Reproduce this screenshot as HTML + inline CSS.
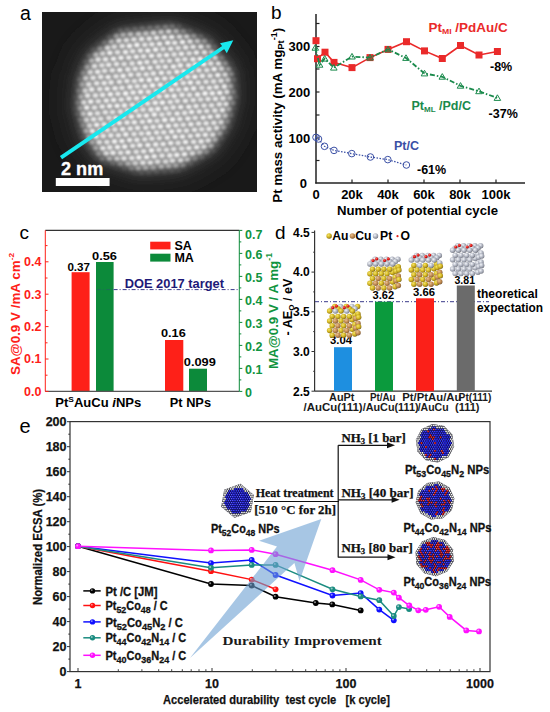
<!DOCTYPE html>
<html><head><meta charset="utf-8"><style>
html,body{margin:0;padding:0;background:#fff;width:550px;height:712px;overflow:hidden;}
svg{display:block;}
</style></head><body>
<svg width="550" height="712" viewBox="0 0 550 712">
<rect width="550" height="712" fill="#fff"/>
<text x="20" y="19.6" font-size="19.5" font-weight="normal" fill="#000" text-anchor="start" font-family='"Liberation Sans", sans-serif' >a</text>
<rect x="42" y="12" width="215" height="180" fill="#191919"/>
<defs><radialGradient id="glow" cx="0.5" cy="0.5" r="0.5"><stop offset="0.55" stop-color="#4a4a4a"/><stop offset="0.8" stop-color="#2c2c2c" /><stop offset="1" stop-color="#1c1c1c" stop-opacity="0"/></radialGradient><radialGradient id="pg" cx="0.5" cy="0.5" r="0.55"><stop offset="0" stop-color="#a0a0a0"/><stop offset="0.6" stop-color="#989898"/><stop offset="0.85" stop-color="#767676"/><stop offset="1" stop-color="#484848"/></radialGradient><filter id="bl1" x="-5%" y="-5%" width="110%" height="110%"><feGaussianBlur stdDeviation="1.0"/></filter><filter id="bl2" x="-20%" y="-20%" width="140%" height="140%"><feGaussianBlur stdDeviation="4.2"/></filter><filter id="bl3" x="-20%" y="-20%" width="140%" height="140%"><feGaussianBlur stdDeviation="6"/></filter><filter id="bl4" x="-30%" y="-30%" width="160%" height="160%"><feGaussianBlur stdDeviation="10"/></filter></defs>
<clipPath id="pa"><rect x="42" y="12" width="215" height="180"/></clipPath><g clip-path="url(#pa)">
<mask id="pm" maskUnits="userSpaceOnUse" x="30" y="0" width="240" height="200"><polygon points="121,35 171,29.5 205,43 228,71 230.5,98 224,124 209,147.5 178,164.5 140,167.5 102,155 88,134 81,106 84,78 94,56" fill="#fff" filter="url(#bl2)" transform="translate(155 100) scale(1.035) translate(-155 -100)"/></mask>
<polygon points="121,35 171,29.5 205,43 228,71 230.5,98 224,124 209,147.5 178,164.5 140,167.5 102,155 88,134 81,106 84,78 94,56" fill="#2e2e2e" filter="url(#bl4)" transform="translate(155 100) scale(1.22) translate(-155 -100)"/>
<polygon points="121,35 171,29.5 205,43 228,71 230.5,98 224,124 209,147.5 178,164.5 140,167.5 102,155 88,134 81,106 84,78 94,56" fill="#484848" filter="url(#bl3)" transform="translate(155 100) scale(1.08) translate(-155 -100)"/>
<g mask="url(#pm)"><rect x="42" y="12" width="215" height="180" fill="url(#pg)"/><g fill="#fafafa" filter="url(#bl1)" opacity="0.95"><ellipse cx="67.4" cy="20.2" rx="2.8" ry="2.3" opacity="0.93"/><ellipse cx="74.8" cy="19.9" rx="2.8" ry="2.3" opacity="0.87"/><ellipse cx="82.3" cy="19.3" rx="2.8" ry="2.3" opacity="0.81"/><ellipse cx="90.2" cy="18.6" rx="2.8" ry="2.3" opacity="0.82"/><ellipse cx="97.8" cy="18.5" rx="2.8" ry="2.3" opacity="0.82"/><ellipse cx="105.2" cy="17.8" rx="2.8" ry="2.3" opacity="0.99"/><ellipse cx="113.1" cy="17.2" rx="2.8" ry="2.3" opacity="1.00"/><ellipse cx="120.2" cy="16.9" rx="2.8" ry="2.3" opacity="0.86"/><ellipse cx="127.9" cy="15.9" rx="2.8" ry="2.3" opacity="0.86"/><ellipse cx="136.0" cy="15.4" rx="2.8" ry="2.3" opacity="0.92"/><ellipse cx="143.5" cy="15.0" rx="2.8" ry="2.3" opacity="0.91"/><ellipse cx="70.5" cy="25.8" rx="2.8" ry="2.3" opacity="0.84"/><ellipse cx="78.6" cy="25.5" rx="2.8" ry="2.3" opacity="0.86"/><ellipse cx="86.1" cy="25.0" rx="2.8" ry="2.3" opacity="0.86"/><ellipse cx="93.8" cy="24.6" rx="2.8" ry="2.3" opacity="0.85"/><ellipse cx="101.2" cy="24.0" rx="2.8" ry="2.3" opacity="0.98"/><ellipse cx="108.9" cy="23.3" rx="2.8" ry="2.3" opacity="1.00"/><ellipse cx="116.0" cy="22.9" rx="2.8" ry="2.3" opacity="0.95"/><ellipse cx="123.6" cy="22.4" rx="2.8" ry="2.3" opacity="0.81"/><ellipse cx="131.6" cy="22.0" rx="2.8" ry="2.3" opacity="0.91"/><ellipse cx="139.4" cy="21.2" rx="2.8" ry="2.3" opacity="0.94"/><ellipse cx="146.7" cy="20.8" rx="2.8" ry="2.3" opacity="0.89"/><ellipse cx="154.5" cy="20.5" rx="2.8" ry="2.3" opacity="0.89"/><ellipse cx="161.9" cy="19.5" rx="2.8" ry="2.3" opacity="0.94"/><ellipse cx="169.5" cy="19.5" rx="2.8" ry="2.3" opacity="0.96"/><ellipse cx="176.8" cy="18.6" rx="2.8" ry="2.3" opacity="0.93"/><ellipse cx="184.2" cy="18.1" rx="2.8" ry="2.3" opacity="0.83"/><ellipse cx="191.8" cy="17.3" rx="2.8" ry="2.3" opacity="0.95"/><ellipse cx="199.4" cy="16.9" rx="2.8" ry="2.3" opacity="0.88"/><ellipse cx="207.6" cy="16.3" rx="2.8" ry="2.3" opacity="0.89"/><ellipse cx="214.9" cy="16.2" rx="2.8" ry="2.3" opacity="0.96"/><ellipse cx="222.8" cy="15.3" rx="2.8" ry="2.3" opacity="0.88"/><ellipse cx="66.4" cy="32.5" rx="2.8" ry="2.3" opacity="0.99"/><ellipse cx="73.9" cy="31.6" rx="2.8" ry="2.3" opacity="0.85"/><ellipse cx="81.5" cy="31.2" rx="2.8" ry="2.3" opacity="0.92"/><ellipse cx="89.1" cy="30.4" rx="2.8" ry="2.3" opacity="0.88"/><ellipse cx="96.8" cy="30.2" rx="2.8" ry="2.3" opacity="0.99"/><ellipse cx="104.6" cy="29.7" rx="2.8" ry="2.3" opacity="0.92"/><ellipse cx="112.2" cy="28.8" rx="2.8" ry="2.3" opacity="0.98"/><ellipse cx="119.8" cy="28.8" rx="2.8" ry="2.3" opacity="0.96"/><ellipse cx="127.1" cy="28.0" rx="2.8" ry="2.3" opacity="0.82"/><ellipse cx="134.9" cy="27.3" rx="2.8" ry="2.3" opacity="0.81"/><ellipse cx="142.1" cy="26.8" rx="2.8" ry="2.3" opacity="0.87"/><ellipse cx="149.6" cy="26.2" rx="2.8" ry="2.3" opacity="0.83"/><ellipse cx="157.2" cy="25.9" rx="2.8" ry="2.3" opacity="0.81"/><ellipse cx="165.4" cy="25.5" rx="2.8" ry="2.3" opacity="0.83"/><ellipse cx="172.5" cy="24.8" rx="2.8" ry="2.3" opacity="0.87"/><ellipse cx="180.0" cy="24.6" rx="2.8" ry="2.3" opacity="1.00"/><ellipse cx="187.8" cy="23.8" rx="2.8" ry="2.3" opacity="0.82"/><ellipse cx="195.1" cy="23.2" rx="2.8" ry="2.3" opacity="0.85"/><ellipse cx="203.3" cy="22.6" rx="2.8" ry="2.3" opacity="0.80"/><ellipse cx="211.0" cy="22.2" rx="2.8" ry="2.3" opacity="0.83"/><ellipse cx="218.2" cy="21.4" rx="2.8" ry="2.3" opacity="0.91"/><ellipse cx="226.1" cy="21.4" rx="2.8" ry="2.3" opacity="0.94"/><ellipse cx="233.2" cy="20.6" rx="2.8" ry="2.3" opacity="0.83"/><ellipse cx="241.1" cy="20.1" rx="2.8" ry="2.3" opacity="0.96"/><ellipse cx="69.7" cy="37.8" rx="2.8" ry="2.3" opacity="0.96"/><ellipse cx="77.8" cy="37.7" rx="2.8" ry="2.3" opacity="0.96"/><ellipse cx="85.3" cy="37.1" rx="2.8" ry="2.3" opacity="0.85"/><ellipse cx="92.6" cy="36.3" rx="2.8" ry="2.3" opacity="0.81"/><ellipse cx="99.8" cy="35.7" rx="2.8" ry="2.3" opacity="0.85"/><ellipse cx="107.9" cy="35.6" rx="2.8" ry="2.3" opacity="0.89"/><ellipse cx="115.7" cy="35.1" rx="2.8" ry="2.3" opacity="0.99"/><ellipse cx="122.8" cy="34.1" rx="2.8" ry="2.3" opacity="0.85"/><ellipse cx="130.3" cy="33.6" rx="2.8" ry="2.3" opacity="0.92"/><ellipse cx="138.4" cy="33.4" rx="2.8" ry="2.3" opacity="0.90"/><ellipse cx="145.8" cy="32.9" rx="2.8" ry="2.3" opacity="0.82"/><ellipse cx="153.4" cy="32.4" rx="2.8" ry="2.3" opacity="0.96"/><ellipse cx="161.0" cy="31.6" rx="2.8" ry="2.3" opacity="0.84"/><ellipse cx="168.6" cy="31.0" rx="2.8" ry="2.3" opacity="0.96"/><ellipse cx="176.4" cy="30.5" rx="2.8" ry="2.3" opacity="0.88"/><ellipse cx="183.9" cy="30.2" rx="2.8" ry="2.3" opacity="0.83"/><ellipse cx="190.9" cy="29.3" rx="2.8" ry="2.3" opacity="0.98"/><ellipse cx="199.0" cy="28.8" rx="2.8" ry="2.3" opacity="0.97"/><ellipse cx="206.7" cy="28.5" rx="2.8" ry="2.3" opacity="0.87"/><ellipse cx="213.9" cy="27.7" rx="2.8" ry="2.3" opacity="0.80"/><ellipse cx="221.9" cy="27.5" rx="2.8" ry="2.3" opacity="0.91"/><ellipse cx="229.4" cy="26.8" rx="2.8" ry="2.3" opacity="0.97"/><ellipse cx="236.9" cy="26.1" rx="2.8" ry="2.3" opacity="0.85"/><ellipse cx="244.1" cy="25.6" rx="2.8" ry="2.3" opacity="0.92"/><ellipse cx="65.4" cy="44.1" rx="2.8" ry="2.3" opacity="0.83"/><ellipse cx="73.5" cy="43.6" rx="2.8" ry="2.3" opacity="0.89"/><ellipse cx="80.8" cy="43.4" rx="2.8" ry="2.3" opacity="0.88"/><ellipse cx="88.7" cy="42.6" rx="2.8" ry="2.3" opacity="0.91"/><ellipse cx="95.9" cy="41.8" rx="2.8" ry="2.3" opacity="0.89"/><ellipse cx="103.2" cy="41.2" rx="2.8" ry="2.3" opacity="0.96"/><ellipse cx="110.8" cy="41.0" rx="2.8" ry="2.3" opacity="0.95"/><ellipse cx="118.7" cy="40.4" rx="2.8" ry="2.3" opacity="0.90"/><ellipse cx="126.3" cy="40.1" rx="2.8" ry="2.3" opacity="0.82"/><ellipse cx="133.9" cy="39.3" rx="2.8" ry="2.3" opacity="0.86"/><ellipse cx="141.6" cy="38.9" rx="2.8" ry="2.3" opacity="0.91"/><ellipse cx="149.2" cy="38.6" rx="2.8" ry="2.3" opacity="0.89"/><ellipse cx="156.6" cy="37.8" rx="2.8" ry="2.3" opacity="0.90"/><ellipse cx="164.3" cy="37.3" rx="2.8" ry="2.3" opacity="0.91"/><ellipse cx="171.7" cy="37.0" rx="2.8" ry="2.3" opacity="0.94"/><ellipse cx="179.6" cy="36.5" rx="2.8" ry="2.3" opacity="0.85"/><ellipse cx="186.9" cy="36.0" rx="2.8" ry="2.3" opacity="0.97"/><ellipse cx="194.2" cy="35.0" rx="2.8" ry="2.3" opacity="0.89"/><ellipse cx="201.7" cy="34.5" rx="2.8" ry="2.3" opacity="0.81"/><ellipse cx="209.8" cy="34.3" rx="2.8" ry="2.3" opacity="0.98"/><ellipse cx="216.9" cy="33.7" rx="2.8" ry="2.3" opacity="0.93"/><ellipse cx="224.5" cy="33.3" rx="2.8" ry="2.3" opacity="0.99"/><ellipse cx="232.1" cy="32.8" rx="2.8" ry="2.3" opacity="0.88"/><ellipse cx="239.9" cy="32.3" rx="2.8" ry="2.3" opacity="0.97"/><ellipse cx="68.6" cy="49.8" rx="2.8" ry="2.3" opacity="0.90"/><ellipse cx="76.3" cy="49.2" rx="2.8" ry="2.3" opacity="0.86"/><ellipse cx="84.2" cy="48.5" rx="2.8" ry="2.3" opacity="0.91"/><ellipse cx="91.6" cy="48.0" rx="2.8" ry="2.3" opacity="0.87"/><ellipse cx="99.3" cy="47.8" rx="2.8" ry="2.3" opacity="0.81"/><ellipse cx="107.2" cy="47.4" rx="2.8" ry="2.3" opacity="0.99"/><ellipse cx="114.1" cy="46.6" rx="2.8" ry="2.3" opacity="0.81"/><ellipse cx="122.2" cy="46.0" rx="2.8" ry="2.3" opacity="0.83"/><ellipse cx="129.5" cy="45.9" rx="2.8" ry="2.3" opacity="0.96"/><ellipse cx="136.9" cy="44.9" rx="2.8" ry="2.3" opacity="0.98"/><ellipse cx="144.8" cy="44.7" rx="2.8" ry="2.3" opacity="0.82"/><ellipse cx="151.9" cy="44.2" rx="2.8" ry="2.3" opacity="0.89"/><ellipse cx="159.5" cy="43.8" rx="2.8" ry="2.3" opacity="0.93"/><ellipse cx="167.7" cy="42.7" rx="2.8" ry="2.3" opacity="0.97"/><ellipse cx="174.7" cy="42.7" rx="2.8" ry="2.3" opacity="0.89"/><ellipse cx="182.5" cy="42.0" rx="2.8" ry="2.3" opacity="0.99"/><ellipse cx="190.0" cy="41.2" rx="2.8" ry="2.3" opacity="0.91"/><ellipse cx="197.6" cy="40.6" rx="2.8" ry="2.3" opacity="0.83"/><ellipse cx="205.0" cy="40.2" rx="2.8" ry="2.3" opacity="0.86"/><ellipse cx="212.8" cy="40.0" rx="2.8" ry="2.3" opacity="0.86"/><ellipse cx="220.5" cy="39.1" rx="2.8" ry="2.3" opacity="0.87"/><ellipse cx="227.7" cy="38.6" rx="2.8" ry="2.3" opacity="0.80"/><ellipse cx="235.9" cy="38.2" rx="2.8" ry="2.3" opacity="0.84"/><ellipse cx="243.2" cy="37.9" rx="2.8" ry="2.3" opacity="0.82"/><ellipse cx="72.4" cy="55.5" rx="2.8" ry="2.3" opacity="0.90"/><ellipse cx="80.0" cy="55.0" rx="2.8" ry="2.3" opacity="0.90"/><ellipse cx="87.5" cy="54.8" rx="2.8" ry="2.3" opacity="0.87"/><ellipse cx="95.2" cy="54.1" rx="2.8" ry="2.3" opacity="0.93"/><ellipse cx="102.4" cy="53.3" rx="2.8" ry="2.3" opacity="0.81"/><ellipse cx="109.8" cy="52.7" rx="2.8" ry="2.3" opacity="0.95"/><ellipse cx="117.5" cy="52.2" rx="2.8" ry="2.3" opacity="0.82"/><ellipse cx="125.5" cy="52.1" rx="2.8" ry="2.3" opacity="0.93"/><ellipse cx="132.7" cy="51.2" rx="2.8" ry="2.3" opacity="0.86"/><ellipse cx="140.4" cy="50.6" rx="2.8" ry="2.3" opacity="0.89"/><ellipse cx="147.8" cy="50.5" rx="2.8" ry="2.3" opacity="0.99"/><ellipse cx="155.6" cy="49.6" rx="2.8" ry="2.3" opacity="0.99"/><ellipse cx="163.0" cy="49.1" rx="2.8" ry="2.3" opacity="0.80"/><ellipse cx="170.7" cy="48.7" rx="2.8" ry="2.3" opacity="0.90"/><ellipse cx="178.1" cy="48.1" rx="2.8" ry="2.3" opacity="0.80"/><ellipse cx="185.7" cy="47.4" rx="2.8" ry="2.3" opacity="0.88"/><ellipse cx="193.1" cy="46.8" rx="2.8" ry="2.3" opacity="0.86"/><ellipse cx="200.9" cy="46.6" rx="2.8" ry="2.3" opacity="0.91"/><ellipse cx="208.9" cy="46.1" rx="2.8" ry="2.3" opacity="0.94"/><ellipse cx="216.5" cy="45.4" rx="2.8" ry="2.3" opacity="0.87"/><ellipse cx="224.2" cy="44.7" rx="2.8" ry="2.3" opacity="0.94"/><ellipse cx="231.5" cy="44.2" rx="2.8" ry="2.3" opacity="0.97"/><ellipse cx="239.3" cy="44.0" rx="2.8" ry="2.3" opacity="0.95"/><ellipse cx="68.2" cy="61.6" rx="2.8" ry="2.3" opacity="0.90"/><ellipse cx="75.5" cy="61.4" rx="2.8" ry="2.3" opacity="0.96"/><ellipse cx="83.3" cy="60.8" rx="2.8" ry="2.3" opacity="0.98"/><ellipse cx="90.8" cy="60.3" rx="2.8" ry="2.3" opacity="0.85"/><ellipse cx="97.9" cy="59.4" rx="2.8" ry="2.3" opacity="0.87"/><ellipse cx="105.5" cy="59.3" rx="2.8" ry="2.3" opacity="0.91"/><ellipse cx="113.5" cy="58.7" rx="2.8" ry="2.3" opacity="0.94"/><ellipse cx="121.0" cy="57.8" rx="2.8" ry="2.3" opacity="0.96"/><ellipse cx="128.8" cy="57.5" rx="2.8" ry="2.3" opacity="0.91"/><ellipse cx="136.3" cy="56.7" rx="2.8" ry="2.3" opacity="0.95"/><ellipse cx="143.5" cy="56.2" rx="2.8" ry="2.3" opacity="0.85"/><ellipse cx="151.5" cy="55.8" rx="2.8" ry="2.3" opacity="0.95"/><ellipse cx="159.3" cy="55.4" rx="2.8" ry="2.3" opacity="0.88"/><ellipse cx="166.5" cy="55.0" rx="2.8" ry="2.3" opacity="0.95"/><ellipse cx="174.1" cy="54.4" rx="2.8" ry="2.3" opacity="0.82"/><ellipse cx="181.4" cy="53.7" rx="2.8" ry="2.3" opacity="0.95"/><ellipse cx="189.1" cy="53.3" rx="2.8" ry="2.3" opacity="0.80"/><ellipse cx="196.4" cy="52.6" rx="2.8" ry="2.3" opacity="0.93"/><ellipse cx="204.5" cy="52.3" rx="2.8" ry="2.3" opacity="0.86"/><ellipse cx="212.0" cy="51.7" rx="2.8" ry="2.3" opacity="0.89"/><ellipse cx="219.2" cy="51.4" rx="2.8" ry="2.3" opacity="0.84"/><ellipse cx="227.5" cy="50.9" rx="2.8" ry="2.3" opacity="0.80"/><ellipse cx="234.7" cy="50.3" rx="2.8" ry="2.3" opacity="0.99"/><ellipse cx="242.2" cy="49.4" rx="2.8" ry="2.3" opacity="0.84"/><ellipse cx="71.6" cy="67.3" rx="2.8" ry="2.3" opacity="0.92"/><ellipse cx="78.5" cy="66.9" rx="2.8" ry="2.3" opacity="0.99"/><ellipse cx="86.1" cy="66.6" rx="2.8" ry="2.3" opacity="0.90"/><ellipse cx="94.3" cy="66.0" rx="2.8" ry="2.3" opacity="0.85"/><ellipse cx="101.9" cy="65.3" rx="2.8" ry="2.3" opacity="0.80"/><ellipse cx="108.7" cy="64.8" rx="2.8" ry="2.3" opacity="0.89"/><ellipse cx="116.5" cy="64.1" rx="2.8" ry="2.3" opacity="0.87"/><ellipse cx="124.1" cy="64.0" rx="2.8" ry="2.3" opacity="0.80"/><ellipse cx="132.1" cy="63.4" rx="2.8" ry="2.3" opacity="0.82"/><ellipse cx="139.8" cy="62.8" rx="2.8" ry="2.3" opacity="0.98"/><ellipse cx="146.9" cy="62.1" rx="2.8" ry="2.3" opacity="0.88"/><ellipse cx="155.0" cy="61.7" rx="2.8" ry="2.3" opacity="0.87"/><ellipse cx="162.1" cy="61.0" rx="2.8" ry="2.3" opacity="0.81"/><ellipse cx="169.5" cy="60.8" rx="2.8" ry="2.3" opacity="0.86"/><ellipse cx="177.7" cy="59.9" rx="2.8" ry="2.3" opacity="0.85"/><ellipse cx="184.9" cy="59.3" rx="2.8" ry="2.3" opacity="0.87"/><ellipse cx="192.9" cy="59.2" rx="2.8" ry="2.3" opacity="0.96"/><ellipse cx="200.2" cy="58.7" rx="2.8" ry="2.3" opacity="0.99"/><ellipse cx="207.7" cy="58.0" rx="2.8" ry="2.3" opacity="0.81"/><ellipse cx="215.5" cy="57.4" rx="2.8" ry="2.3" opacity="0.95"/><ellipse cx="223.0" cy="56.7" rx="2.8" ry="2.3" opacity="0.81"/><ellipse cx="230.8" cy="56.1" rx="2.8" ry="2.3" opacity="0.89"/><ellipse cx="237.9" cy="55.7" rx="2.8" ry="2.3" opacity="0.95"/><ellipse cx="67.3" cy="73.5" rx="2.8" ry="2.3" opacity="0.93"/><ellipse cx="74.4" cy="73.2" rx="2.8" ry="2.3" opacity="0.88"/><ellipse cx="81.8" cy="72.4" rx="2.8" ry="2.3" opacity="0.84"/><ellipse cx="90.0" cy="72.1" rx="2.8" ry="2.3" opacity="0.84"/><ellipse cx="97.6" cy="71.8" rx="2.8" ry="2.3" opacity="0.89"/><ellipse cx="104.6" cy="70.8" rx="2.8" ry="2.3" opacity="0.82"/><ellipse cx="112.3" cy="70.2" rx="2.8" ry="2.3" opacity="0.85"/><ellipse cx="119.8" cy="70.0" rx="2.8" ry="2.3" opacity="0.98"/><ellipse cx="127.8" cy="69.4" rx="2.8" ry="2.3" opacity="0.88"/><ellipse cx="135.2" cy="68.8" rx="2.8" ry="2.3" opacity="0.87"/><ellipse cx="142.4" cy="68.2" rx="2.8" ry="2.3" opacity="0.99"/><ellipse cx="150.0" cy="67.8" rx="2.8" ry="2.3" opacity="0.93"/><ellipse cx="158.2" cy="67.1" rx="2.8" ry="2.3" opacity="0.85"/><ellipse cx="165.3" cy="66.7" rx="2.8" ry="2.3" opacity="0.89"/><ellipse cx="173.4" cy="66.5" rx="2.8" ry="2.3" opacity="0.97"/><ellipse cx="180.3" cy="65.4" rx="2.8" ry="2.3" opacity="0.94"/><ellipse cx="188.6" cy="65.2" rx="2.8" ry="2.3" opacity="0.92"/><ellipse cx="195.4" cy="64.6" rx="2.8" ry="2.3" opacity="0.99"/><ellipse cx="203.7" cy="64.3" rx="2.8" ry="2.3" opacity="0.99"/><ellipse cx="210.8" cy="63.4" rx="2.8" ry="2.3" opacity="0.83"/><ellipse cx="218.6" cy="63.2" rx="2.8" ry="2.3" opacity="0.99"/><ellipse cx="226.3" cy="62.6" rx="2.8" ry="2.3" opacity="0.95"/><ellipse cx="233.7" cy="62.0" rx="2.8" ry="2.3" opacity="0.81"/><ellipse cx="241.5" cy="61.3" rx="2.8" ry="2.3" opacity="0.98"/><ellipse cx="70.4" cy="79.2" rx="2.8" ry="2.3" opacity="0.83"/><ellipse cx="77.6" cy="78.9" rx="2.8" ry="2.3" opacity="0.94"/><ellipse cx="85.1" cy="78.0" rx="2.8" ry="2.3" opacity="0.90"/><ellipse cx="93.1" cy="77.7" rx="2.8" ry="2.3" opacity="0.84"/><ellipse cx="100.7" cy="76.9" rx="2.8" ry="2.3" opacity="0.86"/><ellipse cx="108.1" cy="77.0" rx="2.8" ry="2.3" opacity="0.93"/><ellipse cx="116.0" cy="76.2" rx="2.8" ry="2.3" opacity="0.85"/><ellipse cx="123.1" cy="75.9" rx="2.8" ry="2.3" opacity="0.94"/><ellipse cx="130.7" cy="74.8" rx="2.8" ry="2.3" opacity="0.90"/><ellipse cx="138.6" cy="74.5" rx="2.8" ry="2.3" opacity="0.85"/><ellipse cx="146.2" cy="74.3" rx="2.8" ry="2.3" opacity="0.85"/><ellipse cx="153.3" cy="73.4" rx="2.8" ry="2.3" opacity="0.88"/><ellipse cx="161.4" cy="72.8" rx="2.8" ry="2.3" opacity="0.96"/><ellipse cx="169.0" cy="72.5" rx="2.8" ry="2.3" opacity="0.84"/><ellipse cx="176.8" cy="71.8" rx="2.8" ry="2.3" opacity="0.96"/><ellipse cx="183.8" cy="71.2" rx="2.8" ry="2.3" opacity="0.95"/><ellipse cx="191.4" cy="71.1" rx="2.8" ry="2.3" opacity="0.90"/><ellipse cx="198.9" cy="70.2" rx="2.8" ry="2.3" opacity="0.88"/><ellipse cx="206.8" cy="70.1" rx="2.8" ry="2.3" opacity="0.83"/><ellipse cx="214.2" cy="69.1" rx="2.8" ry="2.3" opacity="0.99"/><ellipse cx="221.6" cy="68.5" rx="2.8" ry="2.3" opacity="0.81"/><ellipse cx="229.4" cy="68.5" rx="2.8" ry="2.3" opacity="0.98"/><ellipse cx="237.2" cy="68.0" rx="2.8" ry="2.3" opacity="0.99"/><ellipse cx="244.5" cy="67.0" rx="2.8" ry="2.3" opacity="0.99"/><ellipse cx="66.2" cy="85.3" rx="2.8" ry="2.3" opacity="0.93"/><ellipse cx="73.5" cy="85.0" rx="2.8" ry="2.3" opacity="0.87"/><ellipse cx="80.9" cy="84.2" rx="2.8" ry="2.3" opacity="0.86"/><ellipse cx="88.6" cy="84.3" rx="2.8" ry="2.3" opacity="0.82"/><ellipse cx="96.7" cy="83.3" rx="2.8" ry="2.3" opacity="0.87"/><ellipse cx="104.1" cy="83.1" rx="2.8" ry="2.3" opacity="0.89"/><ellipse cx="111.1" cy="82.4" rx="2.8" ry="2.3" opacity="0.87"/><ellipse cx="119.4" cy="81.7" rx="2.8" ry="2.3" opacity="0.87"/><ellipse cx="126.9" cy="81.0" rx="2.8" ry="2.3" opacity="0.88"/><ellipse cx="134.4" cy="81.0" rx="2.8" ry="2.3" opacity="0.81"/><ellipse cx="141.4" cy="80.0" rx="2.8" ry="2.3" opacity="0.98"/><ellipse cx="149.2" cy="79.9" rx="2.8" ry="2.3" opacity="0.98"/><ellipse cx="156.8" cy="79.1" rx="2.8" ry="2.3" opacity="0.99"/><ellipse cx="164.6" cy="78.5" rx="2.8" ry="2.3" opacity="0.94"/><ellipse cx="172.0" cy="78.0" rx="2.8" ry="2.3" opacity="0.80"/><ellipse cx="179.9" cy="77.9" rx="2.8" ry="2.3" opacity="0.93"/><ellipse cx="187.6" cy="76.8" rx="2.8" ry="2.3" opacity="0.85"/><ellipse cx="194.8" cy="76.8" rx="2.8" ry="2.3" opacity="0.99"/><ellipse cx="202.3" cy="75.9" rx="2.8" ry="2.3" opacity="0.89"/><ellipse cx="210.0" cy="75.8" rx="2.8" ry="2.3" opacity="0.84"/><ellipse cx="217.8" cy="75.1" rx="2.8" ry="2.3" opacity="0.96"/><ellipse cx="225.4" cy="74.5" rx="2.8" ry="2.3" opacity="0.87"/><ellipse cx="232.6" cy="73.8" rx="2.8" ry="2.3" opacity="0.96"/><ellipse cx="240.0" cy="73.2" rx="2.8" ry="2.3" opacity="0.95"/><ellipse cx="69.1" cy="91.0" rx="2.8" ry="2.3" opacity="0.81"/><ellipse cx="76.9" cy="90.6" rx="2.8" ry="2.3" opacity="1.00"/><ellipse cx="84.7" cy="90.5" rx="2.8" ry="2.3" opacity="0.85"/><ellipse cx="91.7" cy="89.4" rx="2.8" ry="2.3" opacity="0.90"/><ellipse cx="99.8" cy="89.1" rx="2.8" ry="2.3" opacity="0.85"/><ellipse cx="107.1" cy="88.7" rx="2.8" ry="2.3" opacity="0.93"/><ellipse cx="115.0" cy="88.3" rx="2.8" ry="2.3" opacity="0.93"/><ellipse cx="122.0" cy="87.7" rx="2.8" ry="2.3" opacity="0.86"/><ellipse cx="130.0" cy="86.9" rx="2.8" ry="2.3" opacity="0.95"/><ellipse cx="137.3" cy="86.3" rx="2.8" ry="2.3" opacity="0.85"/><ellipse cx="144.8" cy="86.2" rx="2.8" ry="2.3" opacity="0.92"/><ellipse cx="152.5" cy="85.4" rx="2.8" ry="2.3" opacity="1.00"/><ellipse cx="160.3" cy="84.7" rx="2.8" ry="2.3" opacity="0.96"/><ellipse cx="168.0" cy="84.7" rx="2.8" ry="2.3" opacity="0.82"/><ellipse cx="175.4" cy="84.0" rx="2.8" ry="2.3" opacity="0.97"/><ellipse cx="183.3" cy="83.0" rx="2.8" ry="2.3" opacity="0.86"/><ellipse cx="190.3" cy="82.6" rx="2.8" ry="2.3" opacity="0.99"/><ellipse cx="198.2" cy="82.5" rx="2.8" ry="2.3" opacity="0.87"/><ellipse cx="206.0" cy="81.7" rx="2.8" ry="2.3" opacity="0.85"/><ellipse cx="213.5" cy="81.4" rx="2.8" ry="2.3" opacity="0.82"/><ellipse cx="221.0" cy="80.7" rx="2.8" ry="2.3" opacity="0.84"/><ellipse cx="228.4" cy="79.9" rx="2.8" ry="2.3" opacity="0.84"/><ellipse cx="235.9" cy="79.6" rx="2.8" ry="2.3" opacity="0.93"/><ellipse cx="243.4" cy="78.8" rx="2.8" ry="2.3" opacity="0.87"/><ellipse cx="72.7" cy="96.7" rx="2.8" ry="2.3" opacity="0.86"/><ellipse cx="79.9" cy="96.6" rx="2.8" ry="2.3" opacity="0.91"/><ellipse cx="87.4" cy="95.6" rx="2.8" ry="2.3" opacity="0.88"/><ellipse cx="95.4" cy="95.4" rx="2.8" ry="2.3" opacity="0.82"/><ellipse cx="102.6" cy="94.9" rx="2.8" ry="2.3" opacity="0.88"/><ellipse cx="110.3" cy="94.2" rx="2.8" ry="2.3" opacity="0.99"/><ellipse cx="117.9" cy="93.8" rx="2.8" ry="2.3" opacity="0.87"/><ellipse cx="125.6" cy="93.4" rx="2.8" ry="2.3" opacity="1.00"/><ellipse cx="133.1" cy="92.5" rx="2.8" ry="2.3" opacity="0.95"/><ellipse cx="140.6" cy="91.9" rx="2.8" ry="2.3" opacity="0.98"/><ellipse cx="148.3" cy="91.8" rx="2.8" ry="2.3" opacity="0.88"/><ellipse cx="156.3" cy="91.1" rx="2.8" ry="2.3" opacity="0.83"/><ellipse cx="163.2" cy="90.6" rx="2.8" ry="2.3" opacity="0.93"/><ellipse cx="171.5" cy="89.8" rx="2.8" ry="2.3" opacity="0.92"/><ellipse cx="178.6" cy="89.5" rx="2.8" ry="2.3" opacity="0.83"/><ellipse cx="186.1" cy="89.0" rx="2.8" ry="2.3" opacity="0.99"/><ellipse cx="193.6" cy="88.4" rx="2.8" ry="2.3" opacity="0.96"/><ellipse cx="201.8" cy="87.7" rx="2.8" ry="2.3" opacity="0.83"/><ellipse cx="209.4" cy="87.7" rx="2.8" ry="2.3" opacity="0.90"/><ellipse cx="216.3" cy="87.1" rx="2.8" ry="2.3" opacity="0.88"/><ellipse cx="224.5" cy="86.4" rx="2.8" ry="2.3" opacity="0.96"/><ellipse cx="231.5" cy="86.0" rx="2.8" ry="2.3" opacity="0.84"/><ellipse cx="239.3" cy="85.5" rx="2.8" ry="2.3" opacity="0.97"/><ellipse cx="68.0" cy="103.0" rx="2.8" ry="2.3" opacity="0.88"/><ellipse cx="75.9" cy="102.5" rx="2.8" ry="2.3" opacity="0.82"/><ellipse cx="83.3" cy="102.2" rx="2.8" ry="2.3" opacity="0.98"/><ellipse cx="90.7" cy="101.6" rx="2.8" ry="2.3" opacity="0.95"/><ellipse cx="98.3" cy="101.2" rx="2.8" ry="2.3" opacity="0.82"/><ellipse cx="106.3" cy="100.5" rx="2.8" ry="2.3" opacity="0.93"/><ellipse cx="113.6" cy="99.9" rx="2.8" ry="2.3" opacity="0.92"/><ellipse cx="121.3" cy="99.5" rx="2.8" ry="2.3" opacity="0.89"/><ellipse cx="128.9" cy="98.6" rx="2.8" ry="2.3" opacity="0.92"/><ellipse cx="136.5" cy="98.2" rx="2.8" ry="2.3" opacity="0.95"/><ellipse cx="144.3" cy="97.8" rx="2.8" ry="2.3" opacity="0.84"/><ellipse cx="151.7" cy="97.1" rx="2.8" ry="2.3" opacity="0.83"/><ellipse cx="159.2" cy="96.5" rx="2.8" ry="2.3" opacity="0.89"/><ellipse cx="166.9" cy="96.0" rx="2.8" ry="2.3" opacity="0.93"/><ellipse cx="174.1" cy="95.9" rx="2.8" ry="2.3" opacity="0.96"/><ellipse cx="182.0" cy="94.9" rx="2.8" ry="2.3" opacity="0.90"/><ellipse cx="189.5" cy="94.9" rx="2.8" ry="2.3" opacity="0.83"/><ellipse cx="197.5" cy="94.4" rx="2.8" ry="2.3" opacity="0.95"/><ellipse cx="205.0" cy="93.4" rx="2.8" ry="2.3" opacity="1.00"/><ellipse cx="212.3" cy="93.3" rx="2.8" ry="2.3" opacity="0.98"/><ellipse cx="219.7" cy="92.7" rx="2.8" ry="2.3" opacity="0.99"/><ellipse cx="227.2" cy="91.9" rx="2.8" ry="2.3" opacity="0.95"/><ellipse cx="234.8" cy="91.7" rx="2.8" ry="2.3" opacity="0.85"/><ellipse cx="242.9" cy="90.7" rx="2.8" ry="2.3" opacity="0.90"/><ellipse cx="71.9" cy="108.7" rx="2.8" ry="2.3" opacity="0.85"/><ellipse cx="79.2" cy="108.2" rx="2.8" ry="2.3" opacity="0.81"/><ellipse cx="86.5" cy="107.6" rx="2.8" ry="2.3" opacity="0.99"/><ellipse cx="94.5" cy="107.5" rx="2.8" ry="2.3" opacity="0.83"/><ellipse cx="102.2" cy="106.5" rx="2.8" ry="2.3" opacity="0.91"/><ellipse cx="109.6" cy="106.1" rx="2.8" ry="2.3" opacity="0.97"/><ellipse cx="117.1" cy="105.7" rx="2.8" ry="2.3" opacity="0.98"/><ellipse cx="124.4" cy="105.4" rx="2.8" ry="2.3" opacity="0.93"/><ellipse cx="132.2" cy="104.8" rx="2.8" ry="2.3" opacity="0.85"/><ellipse cx="140.2" cy="104.1" rx="2.8" ry="2.3" opacity="0.87"/><ellipse cx="147.6" cy="103.5" rx="2.8" ry="2.3" opacity="0.84"/><ellipse cx="155.2" cy="102.7" rx="2.8" ry="2.3" opacity="0.96"/><ellipse cx="162.4" cy="102.6" rx="2.8" ry="2.3" opacity="1.00"/><ellipse cx="170.2" cy="102.0" rx="2.8" ry="2.3" opacity="0.86"/><ellipse cx="177.3" cy="101.1" rx="2.8" ry="2.3" opacity="0.83"/><ellipse cx="185.4" cy="100.8" rx="2.8" ry="2.3" opacity="0.90"/><ellipse cx="193.2" cy="100.1" rx="2.8" ry="2.3" opacity="0.85"/><ellipse cx="200.6" cy="99.5" rx="2.8" ry="2.3" opacity="0.80"/><ellipse cx="208.0" cy="99.1" rx="2.8" ry="2.3" opacity="0.87"/><ellipse cx="215.4" cy="98.8" rx="2.8" ry="2.3" opacity="0.92"/><ellipse cx="223.0" cy="98.3" rx="2.8" ry="2.3" opacity="0.89"/><ellipse cx="230.5" cy="98.0" rx="2.8" ry="2.3" opacity="0.85"/><ellipse cx="238.1" cy="96.9" rx="2.8" ry="2.3" opacity="0.93"/><ellipse cx="67.6" cy="115.2" rx="2.8" ry="2.3" opacity="0.88"/><ellipse cx="74.7" cy="114.2" rx="2.8" ry="2.3" opacity="0.93"/><ellipse cx="82.5" cy="113.9" rx="2.8" ry="2.3" opacity="0.93"/><ellipse cx="90.0" cy="113.7" rx="2.8" ry="2.3" opacity="0.95"/><ellipse cx="97.5" cy="113.2" rx="2.8" ry="2.3" opacity="0.81"/><ellipse cx="105.3" cy="112.3" rx="2.8" ry="2.3" opacity="0.85"/><ellipse cx="112.5" cy="112.0" rx="2.8" ry="2.3" opacity="0.80"/><ellipse cx="120.4" cy="111.6" rx="2.8" ry="2.3" opacity="0.83"/><ellipse cx="127.7" cy="110.9" rx="2.8" ry="2.3" opacity="0.90"/><ellipse cx="135.7" cy="110.5" rx="2.8" ry="2.3" opacity="0.83"/><ellipse cx="143.0" cy="109.6" rx="2.8" ry="2.3" opacity="0.81"/><ellipse cx="151.0" cy="109.4" rx="2.8" ry="2.3" opacity="0.94"/><ellipse cx="157.9" cy="108.9" rx="2.8" ry="2.3" opacity="0.95"/><ellipse cx="165.9" cy="108.3" rx="2.8" ry="2.3" opacity="0.89"/><ellipse cx="173.2" cy="107.4" rx="2.8" ry="2.3" opacity="0.85"/><ellipse cx="180.7" cy="107.0" rx="2.8" ry="2.3" opacity="0.95"/><ellipse cx="188.8" cy="106.8" rx="2.8" ry="2.3" opacity="0.94"/><ellipse cx="196.0" cy="106.1" rx="2.8" ry="2.3" opacity="0.89"/><ellipse cx="204.0" cy="105.5" rx="2.8" ry="2.3" opacity="0.85"/><ellipse cx="211.5" cy="105.3" rx="2.8" ry="2.3" opacity="0.84"/><ellipse cx="219.3" cy="104.2" rx="2.8" ry="2.3" opacity="0.85"/><ellipse cx="226.3" cy="104.1" rx="2.8" ry="2.3" opacity="0.99"/><ellipse cx="234.3" cy="103.3" rx="2.8" ry="2.3" opacity="0.98"/><ellipse cx="241.6" cy="102.7" rx="2.8" ry="2.3" opacity="0.98"/><ellipse cx="70.7" cy="120.8" rx="2.8" ry="2.3" opacity="0.93"/><ellipse cx="78.6" cy="120.2" rx="2.8" ry="2.3" opacity="0.97"/><ellipse cx="86.0" cy="119.9" rx="2.8" ry="2.3" opacity="0.89"/><ellipse cx="93.6" cy="119.2" rx="2.8" ry="2.3" opacity="0.86"/><ellipse cx="100.7" cy="118.7" rx="2.8" ry="2.3" opacity="0.82"/><ellipse cx="108.9" cy="117.9" rx="2.8" ry="2.3" opacity="0.81"/><ellipse cx="115.8" cy="117.8" rx="2.8" ry="2.3" opacity="0.87"/><ellipse cx="123.4" cy="116.7" rx="2.8" ry="2.3" opacity="0.81"/><ellipse cx="131.4" cy="116.6" rx="2.8" ry="2.3" opacity="0.94"/><ellipse cx="139.1" cy="115.7" rx="2.8" ry="2.3" opacity="0.92"/><ellipse cx="146.3" cy="115.6" rx="2.8" ry="2.3" opacity="0.96"/><ellipse cx="154.3" cy="114.6" rx="2.8" ry="2.3" opacity="0.97"/><ellipse cx="161.9" cy="114.6" rx="2.8" ry="2.3" opacity="0.82"/><ellipse cx="169.0" cy="113.6" rx="2.8" ry="2.3" opacity="0.81"/><ellipse cx="177.1" cy="113.5" rx="2.8" ry="2.3" opacity="0.93"/><ellipse cx="184.6" cy="112.9" rx="2.8" ry="2.3" opacity="0.86"/><ellipse cx="191.6" cy="112.0" rx="2.8" ry="2.3" opacity="0.95"/><ellipse cx="199.3" cy="111.6" rx="2.8" ry="2.3" opacity="0.88"/><ellipse cx="206.7" cy="111.0" rx="2.8" ry="2.3" opacity="0.86"/><ellipse cx="214.9" cy="110.6" rx="2.8" ry="2.3" opacity="0.86"/><ellipse cx="222.6" cy="110.1" rx="2.8" ry="2.3" opacity="0.97"/><ellipse cx="229.9" cy="109.3" rx="2.8" ry="2.3" opacity="0.88"/><ellipse cx="237.4" cy="109.2" rx="2.8" ry="2.3" opacity="0.87"/><ellipse cx="66.5" cy="127.0" rx="2.8" ry="2.3" opacity="0.84"/><ellipse cx="74.2" cy="126.2" rx="2.8" ry="2.3" opacity="0.96"/><ellipse cx="81.3" cy="125.6" rx="2.8" ry="2.3" opacity="0.84"/><ellipse cx="89.3" cy="125.6" rx="2.8" ry="2.3" opacity="0.80"/><ellipse cx="96.7" cy="124.8" rx="2.8" ry="2.3" opacity="0.96"/><ellipse cx="104.0" cy="124.3" rx="2.8" ry="2.3" opacity="0.87"/><ellipse cx="112.1" cy="123.6" rx="2.8" ry="2.3" opacity="0.99"/><ellipse cx="119.3" cy="123.1" rx="2.8" ry="2.3" opacity="0.94"/><ellipse cx="127.0" cy="122.5" rx="2.8" ry="2.3" opacity="0.93"/><ellipse cx="134.3" cy="122.3" rx="2.8" ry="2.3" opacity="0.94"/><ellipse cx="142.4" cy="121.7" rx="2.8" ry="2.3" opacity="0.87"/><ellipse cx="149.7" cy="121.0" rx="2.8" ry="2.3" opacity="0.98"/><ellipse cx="157.0" cy="120.8" rx="2.8" ry="2.3" opacity="0.81"/><ellipse cx="164.7" cy="119.9" rx="2.8" ry="2.3" opacity="0.98"/><ellipse cx="172.5" cy="119.4" rx="2.8" ry="2.3" opacity="0.98"/><ellipse cx="179.9" cy="119.0" rx="2.8" ry="2.3" opacity="0.91"/><ellipse cx="187.9" cy="118.6" rx="2.8" ry="2.3" opacity="0.93"/><ellipse cx="195.1" cy="117.8" rx="2.8" ry="2.3" opacity="0.83"/><ellipse cx="203.1" cy="117.5" rx="2.8" ry="2.3" opacity="0.95"/><ellipse cx="210.1" cy="116.8" rx="2.8" ry="2.3" opacity="0.95"/><ellipse cx="218.0" cy="116.1" rx="2.8" ry="2.3" opacity="0.89"/><ellipse cx="225.9" cy="115.7" rx="2.8" ry="2.3" opacity="0.84"/><ellipse cx="233.0" cy="115.4" rx="2.8" ry="2.3" opacity="0.97"/><ellipse cx="240.5" cy="114.5" rx="2.8" ry="2.3" opacity="0.85"/><ellipse cx="69.5" cy="132.6" rx="2.8" ry="2.3" opacity="0.83"/><ellipse cx="77.1" cy="131.9" rx="2.8" ry="2.3" opacity="1.00"/><ellipse cx="85.0" cy="131.3" rx="2.8" ry="2.3" opacity="0.99"/><ellipse cx="92.1" cy="131.0" rx="2.8" ry="2.3" opacity="1.00"/><ellipse cx="100.2" cy="130.6" rx="2.8" ry="2.3" opacity="0.89"/><ellipse cx="107.3" cy="130.1" rx="2.8" ry="2.3" opacity="0.82"/><ellipse cx="114.9" cy="129.4" rx="2.8" ry="2.3" opacity="0.81"/><ellipse cx="122.6" cy="129.1" rx="2.8" ry="2.3" opacity="0.94"/><ellipse cx="130.3" cy="128.5" rx="2.8" ry="2.3" opacity="0.89"/><ellipse cx="137.6" cy="127.9" rx="2.8" ry="2.3" opacity="0.88"/><ellipse cx="145.7" cy="127.6" rx="2.8" ry="2.3" opacity="0.89"/><ellipse cx="153.1" cy="126.9" rx="2.8" ry="2.3" opacity="0.88"/><ellipse cx="160.4" cy="126.4" rx="2.8" ry="2.3" opacity="0.98"/><ellipse cx="168.4" cy="125.9" rx="2.8" ry="2.3" opacity="0.97"/><ellipse cx="175.9" cy="125.3" rx="2.8" ry="2.3" opacity="0.89"/><ellipse cx="183.2" cy="124.8" rx="2.8" ry="2.3" opacity="0.82"/><ellipse cx="190.9" cy="124.3" rx="2.8" ry="2.3" opacity="0.94"/><ellipse cx="198.6" cy="123.5" rx="2.8" ry="2.3" opacity="0.88"/><ellipse cx="206.1" cy="123.2" rx="2.8" ry="2.3" opacity="0.88"/><ellipse cx="213.8" cy="122.8" rx="2.8" ry="2.3" opacity="0.84"/><ellipse cx="221.4" cy="122.2" rx="2.8" ry="2.3" opacity="0.88"/><ellipse cx="228.9" cy="121.8" rx="2.8" ry="2.3" opacity="0.81"/><ellipse cx="236.5" cy="120.8" rx="2.8" ry="2.3" opacity="0.96"/><ellipse cx="244.4" cy="120.4" rx="2.8" ry="2.3" opacity="0.82"/><ellipse cx="65.4" cy="138.9" rx="2.8" ry="2.3" opacity="0.94"/><ellipse cx="73.0" cy="138.4" rx="2.8" ry="2.3" opacity="0.97"/><ellipse cx="80.6" cy="137.7" rx="2.8" ry="2.3" opacity="0.99"/><ellipse cx="87.9" cy="137.4" rx="2.8" ry="2.3" opacity="0.88"/><ellipse cx="95.9" cy="136.5" rx="2.8" ry="2.3" opacity="1.00"/><ellipse cx="103.2" cy="135.9" rx="2.8" ry="2.3" opacity="0.85"/><ellipse cx="110.8" cy="135.4" rx="2.8" ry="2.3" opacity="0.88"/><ellipse cx="118.4" cy="135.2" rx="2.8" ry="2.3" opacity="0.87"/><ellipse cx="125.8" cy="134.4" rx="2.8" ry="2.3" opacity="0.95"/><ellipse cx="134.0" cy="134.1" rx="2.8" ry="2.3" opacity="0.84"/><ellipse cx="141.4" cy="133.5" rx="2.8" ry="2.3" opacity="0.84"/><ellipse cx="148.5" cy="133.2" rx="2.8" ry="2.3" opacity="0.96"/><ellipse cx="156.5" cy="132.5" rx="2.8" ry="2.3" opacity="0.91"/><ellipse cx="163.7" cy="132.2" rx="2.8" ry="2.3" opacity="0.87"/><ellipse cx="171.6" cy="131.6" rx="2.8" ry="2.3" opacity="0.96"/><ellipse cx="179.1" cy="130.8" rx="2.8" ry="2.3" opacity="0.91"/><ellipse cx="186.4" cy="130.6" rx="2.8" ry="2.3" opacity="0.87"/><ellipse cx="194.5" cy="129.7" rx="2.8" ry="2.3" opacity="0.88"/><ellipse cx="201.7" cy="129.3" rx="2.8" ry="2.3" opacity="0.84"/><ellipse cx="209.0" cy="128.9" rx="2.8" ry="2.3" opacity="0.86"/><ellipse cx="216.8" cy="128.1" rx="2.8" ry="2.3" opacity="0.90"/><ellipse cx="224.5" cy="127.8" rx="2.8" ry="2.3" opacity="0.93"/><ellipse cx="232.1" cy="127.4" rx="2.8" ry="2.3" opacity="0.97"/><ellipse cx="239.4" cy="126.8" rx="2.8" ry="2.3" opacity="0.98"/><ellipse cx="68.9" cy="144.3" rx="2.8" ry="2.3" opacity="0.97"/><ellipse cx="76.4" cy="143.7" rx="2.8" ry="2.3" opacity="0.80"/><ellipse cx="84.2" cy="143.6" rx="2.8" ry="2.3" opacity="0.85"/><ellipse cx="91.1" cy="142.7" rx="2.8" ry="2.3" opacity="0.85"/><ellipse cx="99.2" cy="142.3" rx="2.8" ry="2.3" opacity="0.83"/><ellipse cx="106.9" cy="142.0" rx="2.8" ry="2.3" opacity="0.83"/><ellipse cx="114.5" cy="141.4" rx="2.8" ry="2.3" opacity="0.96"/><ellipse cx="121.9" cy="141.0" rx="2.8" ry="2.3" opacity="0.96"/><ellipse cx="129.6" cy="140.1" rx="2.8" ry="2.3" opacity="0.94"/><ellipse cx="136.9" cy="139.9" rx="2.8" ry="2.3" opacity="0.89"/><ellipse cx="144.8" cy="139.3" rx="2.8" ry="2.3" opacity="0.85"/><ellipse cx="151.9" cy="138.5" rx="2.8" ry="2.3" opacity="0.90"/><ellipse cx="159.3" cy="138.1" rx="2.8" ry="2.3" opacity="0.83"/><ellipse cx="167.2" cy="137.6" rx="2.8" ry="2.3" opacity="0.91"/><ellipse cx="175.1" cy="136.8" rx="2.8" ry="2.3" opacity="0.97"/><ellipse cx="182.4" cy="136.6" rx="2.8" ry="2.3" opacity="0.93"/><ellipse cx="190.3" cy="136.0" rx="2.8" ry="2.3" opacity="0.88"/><ellipse cx="197.9" cy="135.3" rx="2.8" ry="2.3" opacity="0.93"/><ellipse cx="205.3" cy="134.7" rx="2.8" ry="2.3" opacity="0.92"/><ellipse cx="212.9" cy="134.7" rx="2.8" ry="2.3" opacity="0.87"/><ellipse cx="220.7" cy="133.9" rx="2.8" ry="2.3" opacity="0.90"/><ellipse cx="228.2" cy="133.1" rx="2.8" ry="2.3" opacity="0.94"/><ellipse cx="235.6" cy="132.8" rx="2.8" ry="2.3" opacity="0.97"/><ellipse cx="243.0" cy="132.3" rx="2.8" ry="2.3" opacity="0.91"/><ellipse cx="72.2" cy="150.0" rx="2.8" ry="2.3" opacity="0.89"/><ellipse cx="79.5" cy="149.7" rx="2.8" ry="2.3" opacity="0.97"/><ellipse cx="87.0" cy="149.3" rx="2.8" ry="2.3" opacity="0.88"/><ellipse cx="94.7" cy="148.5" rx="2.8" ry="2.3" opacity="0.90"/><ellipse cx="102.7" cy="148.2" rx="2.8" ry="2.3" opacity="0.96"/><ellipse cx="109.8" cy="147.4" rx="2.8" ry="2.3" opacity="0.86"/><ellipse cx="117.5" cy="147.1" rx="2.8" ry="2.3" opacity="0.96"/><ellipse cx="124.7" cy="146.6" rx="2.8" ry="2.3" opacity="0.98"/><ellipse cx="132.7" cy="145.7" rx="2.8" ry="2.3" opacity="0.86"/><ellipse cx="139.8" cy="145.2" rx="2.8" ry="2.3" opacity="0.98"/><ellipse cx="147.9" cy="145.0" rx="2.8" ry="2.3" opacity="0.96"/><ellipse cx="155.7" cy="144.4" rx="2.8" ry="2.3" opacity="0.92"/><ellipse cx="163.1" cy="144.0" rx="2.8" ry="2.3" opacity="0.92"/><ellipse cx="170.7" cy="143.1" rx="2.8" ry="2.3" opacity="0.93"/><ellipse cx="178.1" cy="142.9" rx="2.8" ry="2.3" opacity="0.82"/><ellipse cx="185.5" cy="142.0" rx="2.8" ry="2.3" opacity="0.95"/><ellipse cx="193.6" cy="141.8" rx="2.8" ry="2.3" opacity="0.87"/><ellipse cx="201.1" cy="141.4" rx="2.8" ry="2.3" opacity="0.91"/><ellipse cx="208.3" cy="140.5" rx="2.8" ry="2.3" opacity="0.88"/><ellipse cx="215.9" cy="140.1" rx="2.8" ry="2.3" opacity="0.93"/><ellipse cx="224.0" cy="139.3" rx="2.8" ry="2.3" opacity="0.91"/><ellipse cx="230.8" cy="138.8" rx="2.8" ry="2.3" opacity="0.96"/><ellipse cx="238.8" cy="138.8" rx="2.8" ry="2.3" opacity="0.89"/><ellipse cx="67.3" cy="156.4" rx="2.8" ry="2.3" opacity="0.92"/><ellipse cx="75.6" cy="156.2" rx="2.8" ry="2.3" opacity="0.90"/><ellipse cx="82.8" cy="155.1" rx="2.8" ry="2.3" opacity="0.93"/><ellipse cx="90.2" cy="154.6" rx="2.8" ry="2.3" opacity="0.80"/><ellipse cx="97.6" cy="154.4" rx="2.8" ry="2.3" opacity="0.82"/><ellipse cx="106.0" cy="153.5" rx="2.8" ry="2.3" opacity="0.97"/><ellipse cx="112.9" cy="152.9" rx="2.8" ry="2.3" opacity="0.94"/><ellipse cx="120.6" cy="152.8" rx="2.8" ry="2.3" opacity="0.84"/><ellipse cx="128.0" cy="152.3" rx="2.8" ry="2.3" opacity="0.94"/><ellipse cx="136.2" cy="151.8" rx="2.8" ry="2.3" opacity="0.82"/><ellipse cx="143.6" cy="151.2" rx="2.8" ry="2.3" opacity="0.89"/><ellipse cx="151.5" cy="150.4" rx="2.8" ry="2.3" opacity="0.99"/><ellipse cx="158.9" cy="149.8" rx="2.8" ry="2.3" opacity="0.80"/><ellipse cx="166.4" cy="149.7" rx="2.8" ry="2.3" opacity="0.82"/><ellipse cx="173.7" cy="149.1" rx="2.8" ry="2.3" opacity="0.83"/><ellipse cx="181.7" cy="148.5" rx="2.8" ry="2.3" opacity="0.81"/><ellipse cx="188.9" cy="148.0" rx="2.8" ry="2.3" opacity="0.89"/><ellipse cx="196.7" cy="147.2" rx="2.8" ry="2.3" opacity="0.96"/><ellipse cx="204.1" cy="147.0" rx="2.8" ry="2.3" opacity="0.93"/><ellipse cx="211.7" cy="146.3" rx="2.8" ry="2.3" opacity="0.96"/><ellipse cx="219.7" cy="146.0" rx="2.8" ry="2.3" opacity="0.91"/><ellipse cx="226.8" cy="145.0" rx="2.8" ry="2.3" opacity="0.99"/><ellipse cx="234.7" cy="145.0" rx="2.8" ry="2.3" opacity="0.87"/><ellipse cx="242.2" cy="144.5" rx="2.8" ry="2.3" opacity="0.97"/><ellipse cx="71.1" cy="162.0" rx="2.8" ry="2.3" opacity="0.89"/><ellipse cx="78.9" cy="161.5" rx="2.8" ry="2.3" opacity="0.94"/><ellipse cx="86.3" cy="161.3" rx="2.8" ry="2.3" opacity="0.96"/><ellipse cx="93.6" cy="160.2" rx="2.8" ry="2.3" opacity="0.85"/><ellipse cx="101.3" cy="160.0" rx="2.8" ry="2.3" opacity="0.96"/><ellipse cx="109.2" cy="159.2" rx="2.8" ry="2.3" opacity="0.97"/><ellipse cx="116.8" cy="159.1" rx="2.8" ry="2.3" opacity="0.91"/><ellipse cx="123.9" cy="158.6" rx="2.8" ry="2.3" opacity="0.96"/><ellipse cx="131.8" cy="158.1" rx="2.8" ry="2.3" opacity="0.87"/><ellipse cx="138.9" cy="157.4" rx="2.8" ry="2.3" opacity="0.96"/><ellipse cx="146.6" cy="157.0" rx="2.8" ry="2.3" opacity="0.99"/><ellipse cx="154.2" cy="156.3" rx="2.8" ry="2.3" opacity="0.94"/><ellipse cx="162.0" cy="155.6" rx="2.8" ry="2.3" opacity="0.85"/><ellipse cx="169.8" cy="155.4" rx="2.8" ry="2.3" opacity="0.89"/><ellipse cx="176.8" cy="154.9" rx="2.8" ry="2.3" opacity="0.95"/><ellipse cx="184.5" cy="154.2" rx="2.8" ry="2.3" opacity="0.98"/><ellipse cx="192.6" cy="153.6" rx="2.8" ry="2.3" opacity="0.90"/><ellipse cx="200.0" cy="152.9" rx="2.8" ry="2.3" opacity="0.84"/><ellipse cx="207.2" cy="152.7" rx="2.8" ry="2.3" opacity="0.87"/><ellipse cx="215.1" cy="152.0" rx="2.8" ry="2.3" opacity="0.90"/><ellipse cx="222.4" cy="151.2" rx="2.8" ry="2.3" opacity="1.00"/><ellipse cx="230.1" cy="150.7" rx="2.8" ry="2.3" opacity="0.93"/><ellipse cx="238.0" cy="150.2" rx="2.8" ry="2.3" opacity="0.92"/><ellipse cx="66.6" cy="168.3" rx="2.8" ry="2.3" opacity="0.80"/><ellipse cx="73.9" cy="168.1" rx="2.8" ry="2.3" opacity="0.97"/><ellipse cx="81.9" cy="167.3" rx="2.8" ry="2.3" opacity="0.85"/><ellipse cx="89.7" cy="166.7" rx="2.8" ry="2.3" opacity="0.99"/><ellipse cx="97.3" cy="166.4" rx="2.8" ry="2.3" opacity="0.99"/><ellipse cx="104.5" cy="165.4" rx="2.8" ry="2.3" opacity="0.84"/><ellipse cx="112.0" cy="164.9" rx="2.8" ry="2.3" opacity="0.81"/><ellipse cx="119.9" cy="164.8" rx="2.8" ry="2.3" opacity="0.89"/><ellipse cx="127.8" cy="164.3" rx="2.8" ry="2.3" opacity="0.81"/><ellipse cx="135.1" cy="163.5" rx="2.8" ry="2.3" opacity="0.82"/><ellipse cx="142.9" cy="162.9" rx="2.8" ry="2.3" opacity="0.91"/><ellipse cx="150.3" cy="162.8" rx="2.8" ry="2.3" opacity="0.93"/><ellipse cx="157.6" cy="161.9" rx="2.8" ry="2.3" opacity="0.83"/><ellipse cx="165.7" cy="161.7" rx="2.8" ry="2.3" opacity="0.84"/><ellipse cx="172.5" cy="160.7" rx="2.8" ry="2.3" opacity="0.87"/><ellipse cx="180.8" cy="160.6" rx="2.8" ry="2.3" opacity="0.97"/><ellipse cx="187.7" cy="160.0" rx="2.8" ry="2.3" opacity="0.94"/><ellipse cx="195.7" cy="159.6" rx="2.8" ry="2.3" opacity="0.81"/><ellipse cx="202.9" cy="158.9" rx="2.8" ry="2.3" opacity="0.99"/><ellipse cx="210.9" cy="158.1" rx="2.8" ry="2.3" opacity="0.92"/><ellipse cx="218.6" cy="157.5" rx="2.8" ry="2.3" opacity="0.86"/><ellipse cx="225.8" cy="157.0" rx="2.8" ry="2.3" opacity="0.90"/><ellipse cx="233.3" cy="156.5" rx="2.8" ry="2.3" opacity="0.83"/><ellipse cx="241.3" cy="155.8" rx="2.8" ry="2.3" opacity="0.94"/><ellipse cx="69.8" cy="173.7" rx="2.8" ry="2.3" opacity="0.99"/><ellipse cx="77.4" cy="173.7" rx="2.8" ry="2.3" opacity="0.97"/><ellipse cx="85.5" cy="172.7" rx="2.8" ry="2.3" opacity="0.89"/><ellipse cx="92.5" cy="172.7" rx="2.8" ry="2.3" opacity="0.97"/><ellipse cx="100.5" cy="171.8" rx="2.8" ry="2.3" opacity="0.87"/><ellipse cx="108.2" cy="171.3" rx="2.8" ry="2.3" opacity="0.93"/><ellipse cx="115.2" cy="170.7" rx="2.8" ry="2.3" opacity="0.81"/><ellipse cx="123.3" cy="170.3" rx="2.8" ry="2.3" opacity="0.83"/><ellipse cx="131.0" cy="169.6" rx="2.8" ry="2.3" opacity="0.88"/><ellipse cx="138.0" cy="169.1" rx="2.8" ry="2.3" opacity="0.97"/><ellipse cx="145.7" cy="168.5" rx="2.8" ry="2.3" opacity="0.90"/><ellipse cx="153.3" cy="168.4" rx="2.8" ry="2.3" opacity="0.82"/><ellipse cx="161.4" cy="167.4" rx="2.8" ry="2.3" opacity="0.98"/><ellipse cx="168.7" cy="166.9" rx="2.8" ry="2.3" opacity="0.90"/><ellipse cx="176.0" cy="166.4" rx="2.8" ry="2.3" opacity="0.84"/><ellipse cx="183.7" cy="166.3" rx="2.8" ry="2.3" opacity="1.00"/><ellipse cx="191.7" cy="165.3" rx="2.8" ry="2.3" opacity="0.86"/><ellipse cx="199.2" cy="164.7" rx="2.8" ry="2.3" opacity="0.95"/><ellipse cx="206.3" cy="164.7" rx="2.8" ry="2.3" opacity="0.80"/><ellipse cx="214.3" cy="163.8" rx="2.8" ry="2.3" opacity="0.83"/><ellipse cx="221.3" cy="163.6" rx="2.8" ry="2.3" opacity="0.91"/><ellipse cx="229.0" cy="162.8" rx="2.8" ry="2.3" opacity="0.98"/><ellipse cx="236.6" cy="162.4" rx="2.8" ry="2.3" opacity="0.83"/><ellipse cx="244.2" cy="162.0" rx="2.8" ry="2.3" opacity="0.94"/><ellipse cx="65.5" cy="180.0" rx="2.8" ry="2.3" opacity="0.82"/><ellipse cx="73.4" cy="179.7" rx="2.8" ry="2.3" opacity="0.85"/><ellipse cx="80.7" cy="179.2" rx="2.8" ry="2.3" opacity="0.94"/><ellipse cx="88.8" cy="178.7" rx="2.8" ry="2.3" opacity="0.84"/><ellipse cx="95.7" cy="178.2" rx="2.8" ry="2.3" opacity="0.88"/><ellipse cx="103.9" cy="177.3" rx="2.8" ry="2.3" opacity="0.96"/><ellipse cx="111.1" cy="177.2" rx="2.8" ry="2.3" opacity="0.97"/><ellipse cx="118.8" cy="176.2" rx="2.8" ry="2.3" opacity="0.98"/><ellipse cx="126.4" cy="176.2" rx="2.8" ry="2.3" opacity="0.85"/><ellipse cx="133.8" cy="175.6" rx="2.8" ry="2.3" opacity="0.87"/><ellipse cx="141.3" cy="174.8" rx="2.8" ry="2.3" opacity="0.92"/><ellipse cx="148.8" cy="174.4" rx="2.8" ry="2.3" opacity="0.89"/><ellipse cx="156.8" cy="173.6" rx="2.8" ry="2.3" opacity="0.94"/><ellipse cx="164.6" cy="173.5" rx="2.8" ry="2.3" opacity="0.86"/><ellipse cx="172.1" cy="172.7" rx="2.8" ry="2.3" opacity="0.95"/><ellipse cx="179.1" cy="172.5" rx="2.8" ry="2.3" opacity="0.99"/><ellipse cx="187.1" cy="171.7" rx="2.8" ry="2.3" opacity="0.91"/><ellipse cx="194.7" cy="170.9" rx="2.8" ry="2.3" opacity="0.99"/><ellipse cx="202.0" cy="170.5" rx="2.8" ry="2.3" opacity="0.82"/><ellipse cx="209.6" cy="170.3" rx="2.8" ry="2.3" opacity="0.81"/><ellipse cx="217.1" cy="169.7" rx="2.8" ry="2.3" opacity="0.84"/><ellipse cx="224.6" cy="169.1" rx="2.8" ry="2.3" opacity="0.92"/><ellipse cx="232.6" cy="168.7" rx="2.8" ry="2.3" opacity="0.82"/><ellipse cx="240.4" cy="168.1" rx="2.8" ry="2.3" opacity="0.81"/><ellipse cx="68.8" cy="185.9" rx="2.8" ry="2.3" opacity="0.90"/><ellipse cx="76.5" cy="185.1" rx="2.8" ry="2.3" opacity="0.88"/><ellipse cx="83.9" cy="184.9" rx="2.8" ry="2.3" opacity="0.97"/><ellipse cx="91.5" cy="184.3" rx="2.8" ry="2.3" opacity="0.95"/><ellipse cx="99.1" cy="184.0" rx="2.8" ry="2.3" opacity="0.99"/><ellipse cx="106.9" cy="183.2" rx="2.8" ry="2.3" opacity="0.97"/><ellipse cx="114.6" cy="182.7" rx="2.8" ry="2.3" opacity="0.99"/><ellipse cx="122.4" cy="182.1" rx="2.8" ry="2.3" opacity="0.85"/><ellipse cx="129.6" cy="181.6" rx="2.8" ry="2.3" opacity="1.00"/><ellipse cx="137.6" cy="181.4" rx="2.8" ry="2.3" opacity="0.96"/><ellipse cx="145.2" cy="180.3" rx="2.8" ry="2.3" opacity="0.90"/><ellipse cx="152.8" cy="180.3" rx="2.8" ry="2.3" opacity="0.85"/><ellipse cx="160.0" cy="179.6" rx="2.8" ry="2.3" opacity="0.87"/><ellipse cx="167.7" cy="178.7" rx="2.8" ry="2.3" opacity="0.89"/><ellipse cx="175.2" cy="178.2" rx="2.8" ry="2.3" opacity="0.83"/><ellipse cx="183.2" cy="178.1" rx="2.8" ry="2.3" opacity="0.99"/><ellipse cx="190.5" cy="177.6" rx="2.8" ry="2.3" opacity="0.98"/><ellipse cx="198.3" cy="176.6" rx="2.8" ry="2.3" opacity="0.93"/><ellipse cx="205.4" cy="176.5" rx="2.8" ry="2.3" opacity="0.85"/><ellipse cx="213.2" cy="176.1" rx="2.8" ry="2.3" opacity="0.92"/><ellipse cx="220.5" cy="175.3" rx="2.8" ry="2.3" opacity="0.89"/><ellipse cx="228.6" cy="174.6" rx="2.8" ry="2.3" opacity="0.86"/><ellipse cx="236.0" cy="174.0" rx="2.8" ry="2.3" opacity="0.92"/><ellipse cx="243.8" cy="173.7" rx="2.8" ry="2.3" opacity="0.85"/><ellipse cx="95.1" cy="190.0" rx="2.8" ry="2.3" opacity="0.83"/><ellipse cx="102.4" cy="189.2" rx="2.8" ry="2.3" opacity="0.86"/><ellipse cx="110.2" cy="188.8" rx="2.8" ry="2.3" opacity="0.85"/><ellipse cx="117.5" cy="188.4" rx="2.8" ry="2.3" opacity="0.97"/><ellipse cx="125.5" cy="187.9" rx="2.8" ry="2.3" opacity="0.93"/><ellipse cx="132.8" cy="187.5" rx="2.8" ry="2.3" opacity="0.89"/><ellipse cx="140.6" cy="186.9" rx="2.8" ry="2.3" opacity="0.89"/><ellipse cx="148.0" cy="186.1" rx="2.8" ry="2.3" opacity="0.84"/><ellipse cx="155.8" cy="185.7" rx="2.8" ry="2.3" opacity="0.92"/><ellipse cx="163.0" cy="185.1" rx="2.8" ry="2.3" opacity="0.97"/><ellipse cx="170.7" cy="184.7" rx="2.8" ry="2.3" opacity="0.90"/><ellipse cx="178.3" cy="184.4" rx="2.8" ry="2.3" opacity="0.86"/><ellipse cx="186.3" cy="183.4" rx="2.8" ry="2.3" opacity="0.81"/><ellipse cx="194.0" cy="183.1" rx="2.8" ry="2.3" opacity="0.81"/><ellipse cx="201.2" cy="182.5" rx="2.8" ry="2.3" opacity="0.95"/><ellipse cx="208.5" cy="181.9" rx="2.8" ry="2.3" opacity="0.99"/><ellipse cx="216.6" cy="181.3" rx="2.8" ry="2.3" opacity="0.87"/><ellipse cx="223.9" cy="181.1" rx="2.8" ry="2.3" opacity="0.92"/><ellipse cx="231.9" cy="180.6" rx="2.8" ry="2.3" opacity="0.90"/><ellipse cx="239.4" cy="180.1" rx="2.8" ry="2.3" opacity="0.95"/><ellipse cx="181.8" cy="190.0" rx="2.8" ry="2.3" opacity="0.94"/><ellipse cx="189.7" cy="189.1" rx="2.8" ry="2.3" opacity="0.97"/><ellipse cx="196.6" cy="188.9" rx="2.8" ry="2.3" opacity="0.92"/><ellipse cx="204.6" cy="188.5" rx="2.8" ry="2.3" opacity="0.91"/><ellipse cx="212.1" cy="187.9" rx="2.8" ry="2.3" opacity="0.97"/><ellipse cx="219.8" cy="187.1" rx="2.8" ry="2.3" opacity="0.89"/><ellipse cx="227.3" cy="186.8" rx="2.8" ry="2.3" opacity="0.86"/><ellipse cx="234.8" cy="186.2" rx="2.8" ry="2.3" opacity="0.88"/><ellipse cx="242.3" cy="185.8" rx="2.8" ry="2.3" opacity="0.97"/></g></g>
</g>
<line x1="61" y1="157.6" x2="224" y2="47" stroke="#18e8ee" stroke-width="3.8"/>
<polygon points="233.3,40.3 226.8,53.2 223.5,48 220,43.2" fill="#18e8ee"/>
<rect x="55.8" y="178" width="53.8" height="8" fill="#fff"/>
<text x="61" y="174.6" font-size="17.8" font-weight="bold" fill="#fff" text-anchor="start" font-family='"Liberation Sans", sans-serif' stroke="#fff" stroke-width="0.3" textLength="42.3" lengthAdjust="spacingAndGlyphs" >2 nm</text>
<text x="271" y="18.7" font-size="19" font-weight="normal" fill="#000" text-anchor="start" font-family='"Liberation Sans", sans-serif' >b</text>
<line x1="316" y1="14" x2="316" y2="183.5" stroke="#222" stroke-width="1.5"/>
<line x1="315.3" y1="183" x2="525" y2="183" stroke="#222" stroke-width="1.5"/>
<line x1="316" y1="23.5" x2="319.5" y2="23.5" stroke="#222" stroke-width="1.2"/>
<line x1="316" y1="46.5" x2="319.5" y2="46.5" stroke="#222" stroke-width="1.2"/>
<line x1="316" y1="69" x2="319.5" y2="69" stroke="#222" stroke-width="1.2"/>
<line x1="316" y1="92" x2="319.5" y2="92" stroke="#222" stroke-width="1.2"/>
<line x1="316" y1="115" x2="319.5" y2="115" stroke="#222" stroke-width="1.2"/>
<line x1="316" y1="138" x2="319.5" y2="138" stroke="#222" stroke-width="1.2"/>
<line x1="316" y1="160.5" x2="319.5" y2="160.5" stroke="#222" stroke-width="1.2"/>
<line x1="352" y1="183" x2="352" y2="179.5" stroke="#222" stroke-width="1.2"/>
<line x1="388" y1="183" x2="388" y2="179.5" stroke="#222" stroke-width="1.2"/>
<line x1="424" y1="183" x2="424" y2="179.5" stroke="#222" stroke-width="1.2"/>
<line x1="460" y1="183" x2="460" y2="179.5" stroke="#222" stroke-width="1.2"/>
<line x1="496" y1="183" x2="496" y2="179.5" stroke="#222" stroke-width="1.2"/>
<text x="310.3" y="51.1" font-size="13" font-weight="bold" fill="#000" text-anchor="end" font-family='"Liberation Sans", sans-serif' >300</text>
<text x="310.3" y="96.6" font-size="13" font-weight="bold" fill="#000" text-anchor="end" font-family='"Liberation Sans", sans-serif' >200</text>
<text x="310.3" y="142.6" font-size="13" font-weight="bold" fill="#000" text-anchor="end" font-family='"Liberation Sans", sans-serif' >100</text>
<text x="307" y="187.6" font-size="13" font-weight="bold" fill="#000" text-anchor="end" font-family='"Liberation Sans", sans-serif' >0</text>
<text x="316" y="198.6" font-size="13" font-weight="bold" fill="#000" text-anchor="middle" font-family='"Liberation Sans", sans-serif' >0</text>
<text x="352" y="198.6" font-size="13" font-weight="bold" fill="#000" text-anchor="middle" font-family='"Liberation Sans", sans-serif' >20k</text>
<text x="388" y="198.6" font-size="13" font-weight="bold" fill="#000" text-anchor="middle" font-family='"Liberation Sans", sans-serif' >40k</text>
<text x="424" y="198.6" font-size="13" font-weight="bold" fill="#000" text-anchor="middle" font-family='"Liberation Sans", sans-serif' >60k</text>
<text x="460" y="198.6" font-size="13" font-weight="bold" fill="#000" text-anchor="middle" font-family='"Liberation Sans", sans-serif' >80k</text>
<text x="496" y="198.6" font-size="13" font-weight="bold" fill="#000" text-anchor="middle" font-family='"Liberation Sans", sans-serif' >100k</text>
<text x="417.5" y="215" font-size="13.5" font-weight="bold" fill="#000" text-anchor="middle" font-family='"Liberation Sans", sans-serif' textLength="161" lengthAdjust="spacingAndGlyphs" >Number of potential cycle</text>
<text transform="translate(282 115.2) rotate(-90)" text-anchor="middle" font-size="13.2" font-weight="bold" font-family='"Liberation Sans", sans-serif' fill="#000" textLength="175" lengthAdjust="spacingAndGlyphs">Pt mass activity (mA mg<tspan font-size="9.5" dy="1.8">Pt</tspan><tspan font-size="9" dy="-7">-1</tspan><tspan dy="5.2">)</tspan></text>
<polyline points="316,137.3 318.5,139 324.5,146.3 334,150.4 351.8,153.6 370.4,157 387.8,159.6 406.4,165" fill="none" stroke="#3b50a5" stroke-width="1.3" stroke-dasharray="1.5 1.5"/>
<circle cx="316" cy="137.3" r="3.3" fill="none" stroke="#3b50a5" stroke-width="1"/>
<circle cx="318.5" cy="139" r="3.3" fill="none" stroke="#3b50a5" stroke-width="1"/>
<circle cx="324.5" cy="146.3" r="3.3" fill="none" stroke="#3b50a5" stroke-width="1"/>
<circle cx="334" cy="150.4" r="3.3" fill="none" stroke="#3b50a5" stroke-width="1"/>
<circle cx="351.8" cy="153.6" r="3.3" fill="none" stroke="#3b50a5" stroke-width="1"/>
<circle cx="370.4" cy="157" r="3.3" fill="none" stroke="#3b50a5" stroke-width="1"/>
<circle cx="387.8" cy="159.6" r="3.3" fill="none" stroke="#3b50a5" stroke-width="1"/>
<circle cx="406.4" cy="165" r="3.3" fill="none" stroke="#3b50a5" stroke-width="1"/>
<polyline points="317.5,58.7 325,52.2 334,62.4 352,67.6 370,57.6 388,49.4 406.5,41.7 424.5,50.9 442.3,58.5 460.5,45.5 479,55 497.4,51.5" fill="none" stroke="#ea2a2a" stroke-width="1.6"/>
<rect x="312.5" y="37.2" width="7" height="7" fill="#ea2a2a"/>
<rect x="314.0" y="55.2" width="7" height="7" fill="#ea2a2a"/>
<rect x="321.5" y="48.7" width="7" height="7" fill="#ea2a2a"/>
<rect x="330.5" y="58.9" width="7" height="7" fill="#ea2a2a"/>
<rect x="348.5" y="64.1" width="7" height="7" fill="#ea2a2a"/>
<rect x="366.5" y="54.1" width="7" height="7" fill="#ea2a2a"/>
<rect x="384.5" y="45.9" width="7" height="7" fill="#ea2a2a"/>
<rect x="403.0" y="38.2" width="7" height="7" fill="#ea2a2a"/>
<rect x="421.0" y="47.4" width="7" height="7" fill="#ea2a2a"/>
<rect x="438.8" y="55.0" width="7" height="7" fill="#ea2a2a"/>
<rect x="457.0" y="42.0" width="7" height="7" fill="#ea2a2a"/>
<rect x="475.5" y="51.5" width="7" height="7" fill="#ea2a2a"/>
<rect x="493.9" y="48.0" width="7" height="7" fill="#ea2a2a"/>
<polyline points="315.3,47.8 319.6,64.8 324.7,58.7 333.8,67.7 352,56.6 370,57.6 388,49.4 406,58 424.5,73.5 442.3,76.8 460.5,85.8 479,91.3 497.4,98" fill="none" stroke="#1a8a4c" stroke-width="1.8" stroke-dasharray="5 2 1.5 2"/>
<polygon points="315.3,44.599999999999994 318.6,50.199999999999996 312.0,50.199999999999996" fill="none" stroke="#1a8a4c" stroke-width="1"/>
<polygon points="319.6,61.599999999999994 322.90000000000003,67.2 316.3,67.2" fill="none" stroke="#1a8a4c" stroke-width="1"/>
<polygon points="324.7,55.5 328.0,61.1 321.4,61.1" fill="none" stroke="#1a8a4c" stroke-width="1"/>
<polygon points="333.8,64.5 337.1,70.10000000000001 330.5,70.10000000000001" fill="none" stroke="#1a8a4c" stroke-width="1"/>
<polygon points="352,53.4 355.3,59.0 348.7,59.0" fill="none" stroke="#1a8a4c" stroke-width="1"/>
<polygon points="370,54.4 373.3,60.0 366.7,60.0" fill="none" stroke="#1a8a4c" stroke-width="1"/>
<polygon points="388,46.199999999999996 391.3,51.8 384.7,51.8" fill="none" stroke="#1a8a4c" stroke-width="1"/>
<polygon points="406,54.8 409.3,60.4 402.7,60.4" fill="none" stroke="#1a8a4c" stroke-width="1"/>
<polygon points="424.5,70.3 427.8,75.9 421.2,75.9" fill="none" stroke="#1a8a4c" stroke-width="1"/>
<polygon points="442.3,73.6 445.6,79.2 439.0,79.2" fill="none" stroke="#1a8a4c" stroke-width="1"/>
<polygon points="460.5,82.6 463.8,88.2 457.2,88.2" fill="none" stroke="#1a8a4c" stroke-width="1"/>
<polygon points="479,88.1 482.3,93.7 475.7,93.7" fill="none" stroke="#1a8a4c" stroke-width="1"/>
<polygon points="497.4,94.8 500.7,100.4 494.09999999999997,100.4" fill="none" stroke="#1a8a4c" stroke-width="1"/>
<text x="428.6" y="31.8" font-size="12.5" font-weight="bold" fill="#ea2a2a" text-anchor="start" font-family='"Liberation Sans", sans-serif' textLength="79" lengthAdjust="spacingAndGlyphs" >Pt<tspan font-size="8" dy="2">MI</tspan><tspan dy="-2"> /PdAu/C</tspan></text>
<text x="490" y="70.5" font-size="12.5" font-weight="bold" fill="#000" text-anchor="start" font-family='"Liberation Sans", sans-serif' >-8%</text>
<text x="411.5" y="110" font-size="12.5" font-weight="bold" fill="#1a8a4c" text-anchor="start" font-family='"Liberation Sans", sans-serif' >Pt<tspan font-size="8" dy="2">ML</tspan><tspan dy="-2"> /Pd/C</tspan></text>
<text x="488.6" y="117.5" font-size="12.5" font-weight="bold" fill="#000" text-anchor="start" font-family='"Liberation Sans", sans-serif' >-37%</text>
<text x="394" y="150" font-size="12.5" font-weight="bold" fill="#3b50a5" text-anchor="start" font-family='"Liberation Sans", sans-serif' >Pt/C</text>
<text x="417" y="173.5" font-size="12.5" font-weight="bold" fill="#000" text-anchor="start" font-family='"Liberation Sans", sans-serif' >-61%</text>
<text x="19.4" y="238.6" font-size="19" font-weight="normal" fill="#000" text-anchor="start" font-family='"Liberation Sans", sans-serif' >c</text>
<rect x="71.6" y="272.2" width="18" height="119.2" fill="#fe2018"/>
<rect x="96" y="262" width="17.6" height="129.4" fill="#0c8a3a"/>
<rect x="165" y="340" width="18.3" height="51.4" fill="#fe2018"/>
<rect x="189" y="368.7" width="18" height="22.7" fill="#0c8a3a"/>
<line x1="97" y1="289.6" x2="113.6" y2="289.6" stroke="#3a3a8a" stroke-width="1" stroke-dasharray="4 2 1 2" opacity="0.35"/>
<line x1="113.6" y1="289.6" x2="239" y2="289.6" stroke="#3a3a8a" stroke-width="1" stroke-dasharray="4 2 1 2"/>
<line x1="45.3" y1="230.3" x2="239.3" y2="230.3" stroke="#333" stroke-width="1.2"/>
<line x1="45.3" y1="391.4" x2="239.3" y2="391.4" stroke="#555" stroke-width="1.2"/>
<line x1="45.3" y1="230.3" x2="45.3" y2="391.4" stroke="#fe2018" stroke-width="1"/>
<line x1="239.3" y1="230.3" x2="239.3" y2="391.4" stroke="#0c8a3a" stroke-width="1"/>
<line x1="45.3" y1="391.4" x2="48.5" y2="391.4" stroke="#fe2018" stroke-width="1"/>
<line x1="45.3" y1="375.2" x2="47.5" y2="375.2" stroke="#fe2018" stroke-width="1"/>
<line x1="45.3" y1="359.0" x2="48.5" y2="359.0" stroke="#fe2018" stroke-width="1"/>
<line x1="45.3" y1="342.8" x2="47.5" y2="342.8" stroke="#fe2018" stroke-width="1"/>
<line x1="45.3" y1="326.6" x2="48.5" y2="326.6" stroke="#fe2018" stroke-width="1"/>
<line x1="45.3" y1="310.4" x2="47.5" y2="310.4" stroke="#fe2018" stroke-width="1"/>
<line x1="45.3" y1="294.2" x2="48.5" y2="294.2" stroke="#fe2018" stroke-width="1"/>
<line x1="45.3" y1="278.0" x2="47.5" y2="278.0" stroke="#fe2018" stroke-width="1"/>
<line x1="45.3" y1="261.8" x2="48.5" y2="261.8" stroke="#fe2018" stroke-width="1"/>
<line x1="45.3" y1="245.6" x2="47.5" y2="245.6" stroke="#fe2018" stroke-width="1"/>
<line x1="239.3" y1="391.4" x2="242.3" y2="391.4" stroke="#0c8a3a" stroke-width="1"/>
<line x1="239.3" y1="379.9" x2="241.3" y2="379.9" stroke="#0c8a3a" stroke-width="1"/>
<line x1="239.3" y1="368.4" x2="242.3" y2="368.4" stroke="#0c8a3a" stroke-width="1"/>
<line x1="239.3" y1="356.9" x2="241.3" y2="356.9" stroke="#0c8a3a" stroke-width="1"/>
<line x1="239.3" y1="345.4" x2="242.3" y2="345.4" stroke="#0c8a3a" stroke-width="1"/>
<line x1="239.3" y1="333.9" x2="241.3" y2="333.9" stroke="#0c8a3a" stroke-width="1"/>
<line x1="239.3" y1="322.4" x2="242.3" y2="322.4" stroke="#0c8a3a" stroke-width="1"/>
<line x1="239.3" y1="310.9" x2="241.3" y2="310.9" stroke="#0c8a3a" stroke-width="1"/>
<line x1="239.3" y1="299.4" x2="242.3" y2="299.4" stroke="#0c8a3a" stroke-width="1"/>
<line x1="239.3" y1="287.9" x2="241.3" y2="287.9" stroke="#0c8a3a" stroke-width="1"/>
<line x1="239.3" y1="276.4" x2="242.3" y2="276.4" stroke="#0c8a3a" stroke-width="1"/>
<line x1="239.3" y1="264.9" x2="241.3" y2="264.9" stroke="#0c8a3a" stroke-width="1"/>
<line x1="239.3" y1="253.4" x2="242.3" y2="253.4" stroke="#0c8a3a" stroke-width="1"/>
<line x1="239.3" y1="241.9" x2="241.3" y2="241.9" stroke="#0c8a3a" stroke-width="1"/>
<line x1="239.3" y1="230.4" x2="242.3" y2="230.4" stroke="#0c8a3a" stroke-width="1"/>
<text x="41.5" y="395.79999999999995" font-size="12.5" font-weight="bold" fill="#fe2018" text-anchor="end" font-family='"Liberation Sans", sans-serif' >0.0</text>
<text x="41.5" y="363.4" font-size="12.5" font-weight="bold" fill="#fe2018" text-anchor="end" font-family='"Liberation Sans", sans-serif' >0.1</text>
<text x="41.5" y="330.99999999999994" font-size="12.5" font-weight="bold" fill="#fe2018" text-anchor="end" font-family='"Liberation Sans", sans-serif' >0.2</text>
<text x="41.5" y="298.59999999999997" font-size="12.5" font-weight="bold" fill="#fe2018" text-anchor="end" font-family='"Liberation Sans", sans-serif' >0.3</text>
<text x="41.5" y="266.19999999999993" font-size="12.5" font-weight="bold" fill="#fe2018" text-anchor="end" font-family='"Liberation Sans", sans-serif' >0.4</text>
<text x="245" y="397.0" font-size="12.5" font-weight="bold" fill="#109440" text-anchor="start" font-family='"Liberation Sans", sans-serif' >0</text>
<text x="245" y="374.0" font-size="12.5" font-weight="bold" fill="#109440" text-anchor="start" font-family='"Liberation Sans", sans-serif' >0.1</text>
<text x="245" y="351.0" font-size="12.5" font-weight="bold" fill="#109440" text-anchor="start" font-family='"Liberation Sans", sans-serif' >0.2</text>
<text x="245" y="328.0" font-size="12.5" font-weight="bold" fill="#109440" text-anchor="start" font-family='"Liberation Sans", sans-serif' >0.3</text>
<text x="245" y="305.0" font-size="12.5" font-weight="bold" fill="#109440" text-anchor="start" font-family='"Liberation Sans", sans-serif' >0.4</text>
<text x="245" y="282.0" font-size="12.5" font-weight="bold" fill="#109440" text-anchor="start" font-family='"Liberation Sans", sans-serif' >0.5</text>
<text x="245" y="259.0" font-size="12.5" font-weight="bold" fill="#109440" text-anchor="start" font-family='"Liberation Sans", sans-serif' >0.6</text>
<text x="245" y="238.49999999999997" font-size="12.5" font-weight="bold" fill="#109440" text-anchor="start" font-family='"Liberation Sans", sans-serif' >0.7</text>
<rect x="150.2" y="241.7" width="20.3" height="7.7" fill="#fe2018"/>
<rect x="150.2" y="253.7" width="20.3" height="7.9" fill="#0c8a3a"/>
<text x="174.4" y="250" font-size="12.5" font-weight="bold" fill="#000" text-anchor="start" font-family='"Liberation Sans", sans-serif' >SA</text>
<text x="174.4" y="262" font-size="12.5" font-weight="bold" fill="#000" text-anchor="start" font-family='"Liberation Sans", sans-serif' >MA</text>
<text x="124.7" y="287.6" font-size="12" font-weight="bold" fill="#1e1a78" text-anchor="start" font-family='"Liberation Sans", sans-serif' textLength="99.3" lengthAdjust="spacingAndGlyphs" >DOE 2017 target</text>
<text x="67.4" y="271.3" font-size="11.5" font-weight="bold" fill="#000" text-anchor="start" font-family='"Liberation Sans", sans-serif' textLength="22.6" lengthAdjust="spacingAndGlyphs" >0.37</text>
<text x="92" y="259.8" font-size="11.5" font-weight="bold" fill="#000" text-anchor="start" font-family='"Liberation Sans", sans-serif' textLength="25" lengthAdjust="spacingAndGlyphs" >0.56</text>
<text x="161" y="337.1" font-size="11.5" font-weight="bold" fill="#000" text-anchor="start" font-family='"Liberation Sans", sans-serif' textLength="24.8" lengthAdjust="spacingAndGlyphs" >0.16</text>
<text x="183.8" y="365.9" font-size="11.5" font-weight="bold" fill="#000" text-anchor="start" font-family='"Liberation Sans", sans-serif' textLength="32" lengthAdjust="spacingAndGlyphs" >0.099</text>
<text transform="translate(19.8 314) rotate(-90)" text-anchor="middle" font-size="13" font-weight="bold" font-family='"Liberation Sans", sans-serif' fill="#fe2018" textLength="122" lengthAdjust="spacingAndGlyphs">SA@0.9 V /mA cm<tspan font-size="8" dy="-6">-2</tspan></text>
<text transform="translate(277.7 311) rotate(-90)" text-anchor="middle" font-size="13" font-weight="bold" font-family='"Liberation Sans", sans-serif' fill="#109440" textLength="116" lengthAdjust="spacingAndGlyphs">MA@0.9 V / A mg<tspan font-size="8.5" dy="-6">-1</tspan></text>
<text x="55.3" y="406.5" font-size="12.5" font-weight="bold" fill="#000" text-anchor="start" font-family='"Liberation Sans", sans-serif' textLength="86" lengthAdjust="spacingAndGlyphs" >Pt<tspan font-size="8" dy="-5">S</tspan><tspan dy="5">AuCu </tspan><tspan font-style="italic">i</tspan>NPs</text>
<text x="169.8" y="406.5" font-size="12.5" font-weight="bold" fill="#000" text-anchor="start" font-family='"Liberation Sans", sans-serif' textLength="41.2" lengthAdjust="spacingAndGlyphs" >Pt NPs</text>
<text x="275" y="238.5" font-size="19" font-weight="normal" fill="#000" text-anchor="start" font-family='"Liberation Sans", sans-serif' >d</text>
<line x1="314.6" y1="230.5" x2="314.6" y2="391.2" stroke="#333" stroke-width="1.2"/>
<line x1="314.6" y1="391.2" x2="492" y2="391.2" stroke="#333" stroke-width="1.2"/>
<line x1="311.5" y1="391.2" x2="314.6" y2="391.2" stroke="#333" stroke-width="1"/>
<line x1="313" y1="371.3" x2="314.6" y2="371.3" stroke="#333" stroke-width="0.8"/>
<text x="309.8" y="395.5" font-size="12" font-weight="bold" fill="#000" text-anchor="end" font-family='"Liberation Sans", sans-serif' >2.5</text>
<line x1="311.5" y1="351.5" x2="314.6" y2="351.5" stroke="#333" stroke-width="1"/>
<line x1="313" y1="331.6" x2="314.6" y2="331.6" stroke="#333" stroke-width="0.8"/>
<text x="309.8" y="355.8" font-size="12" font-weight="bold" fill="#000" text-anchor="end" font-family='"Liberation Sans", sans-serif' >3.0</text>
<line x1="311.5" y1="311.8" x2="314.6" y2="311.8" stroke="#333" stroke-width="1"/>
<line x1="313" y1="291.9" x2="314.6" y2="291.9" stroke="#333" stroke-width="0.8"/>
<text x="309.8" y="316.09999999999997" font-size="12" font-weight="bold" fill="#000" text-anchor="end" font-family='"Liberation Sans", sans-serif' >3.5</text>
<line x1="311.5" y1="272.1" x2="314.6" y2="272.1" stroke="#333" stroke-width="1"/>
<line x1="313" y1="252.2" x2="314.6" y2="252.2" stroke="#333" stroke-width="0.8"/>
<text x="309.8" y="276.4" font-size="12" font-weight="bold" fill="#000" text-anchor="end" font-family='"Liberation Sans", sans-serif' >4.0</text>
<line x1="311.5" y1="232.4" x2="314.6" y2="232.4" stroke="#333" stroke-width="1"/>
<text x="309.8" y="236.7" font-size="12" font-weight="bold" fill="#000" text-anchor="end" font-family='"Liberation Sans", sans-serif' >4.5</text>
<line x1="315" y1="301.7" x2="489" y2="301.7" stroke="#3a3a8a" stroke-width="1" stroke-dasharray="4 2 1 2"/>
<rect x="334" y="347.2" width="18" height="44" fill="#1e8fe0"/>
<rect x="375" y="301.7" width="18" height="89.5" fill="#0b9a3d"/>
<rect x="416" y="298.3" width="18" height="92.9" fill="#fb2019"/>
<rect x="456.8" y="285.5" width="18" height="105.7" fill="#6b6b6b"/>
<text x="330" y="344.2" font-size="11.5" font-weight="bold" fill="#000" text-anchor="start" font-family='"Liberation Sans", sans-serif' textLength="22" lengthAdjust="spacingAndGlyphs" >3.04</text>
<text x="372.6" y="299.2" font-size="11.5" font-weight="bold" fill="#000" text-anchor="start" font-family='"Liberation Sans", sans-serif' textLength="21.6" lengthAdjust="spacingAndGlyphs" >3.62</text>
<text x="413" y="296.4" font-size="11.5" font-weight="bold" fill="#000" text-anchor="start" font-family='"Liberation Sans", sans-serif' textLength="22" lengthAdjust="spacingAndGlyphs" >3.66</text>
<text x="454.5" y="284.2" font-size="11.5" font-weight="bold" fill="#000" text-anchor="start" font-family='"Liberation Sans", sans-serif' textLength="20.5" lengthAdjust="spacingAndGlyphs" >3.81</text>
<text x="477" y="297.5" font-size="12.5" font-weight="bold" fill="#000" text-anchor="start" font-family='"Liberation Sans", sans-serif' textLength="60.8" lengthAdjust="spacingAndGlyphs" >theoretical</text>
<text x="477" y="312" font-size="12.5" font-weight="bold" fill="#000" text-anchor="start" font-family='"Liberation Sans", sans-serif' textLength="66" lengthAdjust="spacingAndGlyphs" >expectation</text>
<defs><radialGradient id="gGold" cx="0.38" cy="0.35" r="0.7"><stop offset="0" stop-color="#f4e46a"/><stop offset="0.5" stop-color="#d4b826"/><stop offset="0.85" stop-color="#a08418"/><stop offset="1" stop-color="#5a4808"/></radialGradient><radialGradient id="gTan" cx="0.38" cy="0.35" r="0.7"><stop offset="0" stop-color="#e8c090"/><stop offset="0.5" stop-color="#c48e55"/><stop offset="0.85" stop-color="#9a6c3c"/><stop offset="1" stop-color="#5a3c1c"/></radialGradient><radialGradient id="gPt" cx="0.38" cy="0.35" r="0.7"><stop offset="0" stop-color="#f4f6fa"/><stop offset="0.5" stop-color="#b6bac6"/><stop offset="0.85" stop-color="#8a8e9a"/><stop offset="1" stop-color="#50525c"/></radialGradient><radialGradient id="gO" cx="0.38" cy="0.35" r="0.7"><stop offset="0" stop-color="#ff7060"/><stop offset="0.6" stop-color="#e01010"/><stop offset="1" stop-color="#900000"/></radialGradient></defs>
<g><circle cx="334.8" cy="306.5" r="2.75" fill="url(#gGold)"/><circle cx="340.5" cy="306.5" r="2.75" fill="url(#gPt)"/><circle cx="346.2" cy="306.5" r="2.75" fill="url(#gGold)"/><circle cx="351.9" cy="306.5" r="2.75" fill="url(#gPt)"/><circle cx="357.6" cy="306.5" r="2.75" fill="url(#gGold)"/><circle cx="332.2" cy="308.8" r="2.75" fill="url(#gPt)"/><circle cx="337.9" cy="308.8" r="2.75" fill="url(#gGold)"/><circle cx="343.6" cy="308.8" r="2.75" fill="url(#gPt)"/><circle cx="349.3" cy="308.8" r="2.75" fill="url(#gGold)"/><circle cx="355.0" cy="308.8" r="2.75" fill="url(#gPt)"/><circle cx="354.8" cy="315.1" r="2.75" fill="url(#gGold)"/><circle cx="358.0" cy="313.9" r="2.75" fill="url(#gGold)"/><circle cx="352.2" cy="319.7" r="2.75" fill="url(#gGold)"/><circle cx="355.6" cy="318.5" r="2.75" fill="url(#gTan)"/><circle cx="358.6" cy="317.3" r="2.75" fill="url(#gGold)"/><circle cx="354.8" cy="324.5" r="2.75" fill="url(#gGold)"/><circle cx="358.0" cy="323.3" r="2.75" fill="url(#gTan)"/><circle cx="352.2" cy="329.2" r="2.75" fill="url(#gGold)"/><circle cx="355.6" cy="328.0" r="2.75" fill="url(#gTan)"/><circle cx="358.6" cy="326.8" r="2.75" fill="url(#gGold)"/><circle cx="354.8" cy="333.9" r="2.75" fill="url(#gGold)"/><circle cx="358.0" cy="332.7" r="2.75" fill="url(#gTan)"/><circle cx="329.6" cy="311.1" r="2.75" fill="url(#gGold)"/><circle cx="335.3" cy="311.1" r="2.75" fill="url(#gPt)"/><circle cx="341.0" cy="311.1" r="2.75" fill="url(#gGold)"/><circle cx="346.7" cy="311.1" r="2.75" fill="url(#gPt)"/><circle cx="352.4" cy="311.1" r="2.75" fill="url(#gGold)"/><circle cx="332.2" cy="316.4" r="2.75" fill="url(#gGold)"/><circle cx="337.9" cy="316.4" r="2.75" fill="url(#gGold)"/><circle cx="343.6" cy="316.4" r="2.75" fill="url(#gGold)"/><circle cx="349.3" cy="316.4" r="2.75" fill="url(#gGold)"/><circle cx="329.6" cy="321.0" r="2.75" fill="url(#gGold)"/><circle cx="335.3" cy="321.0" r="2.75" fill="url(#gTan)"/><circle cx="341.0" cy="321.0" r="2.75" fill="url(#gGold)"/><circle cx="346.7" cy="321.0" r="2.75" fill="url(#gTan)"/><circle cx="332.2" cy="325.8" r="2.75" fill="url(#gGold)"/><circle cx="337.9" cy="325.8" r="2.75" fill="url(#gTan)"/><circle cx="343.6" cy="325.8" r="2.75" fill="url(#gGold)"/><circle cx="349.3" cy="325.8" r="2.75" fill="url(#gTan)"/><circle cx="329.6" cy="330.5" r="2.75" fill="url(#gGold)"/><circle cx="335.3" cy="330.5" r="2.75" fill="url(#gTan)"/><circle cx="341.0" cy="330.5" r="2.75" fill="url(#gGold)"/><circle cx="346.7" cy="330.5" r="2.75" fill="url(#gTan)"/><circle cx="332.2" cy="335.2" r="2.75" fill="url(#gGold)"/><circle cx="337.9" cy="335.2" r="2.75" fill="url(#gTan)"/><circle cx="343.6" cy="335.2" r="2.75" fill="url(#gGold)"/><circle cx="349.3" cy="335.2" r="2.75" fill="url(#gTan)"/><circle cx="332.7" cy="307.7" r="1.6" fill="url(#gO)"/><circle cx="336.4" cy="306.1" r="1.6" fill="url(#gO)"/><circle cx="344.2" cy="307.7" r="1.6" fill="url(#gO)"/><circle cx="348.0" cy="306.1" r="1.6" fill="url(#gO)"/></g>
<g><circle cx="375.1" cy="259.3" r="2.75" fill="url(#gPt)"/><circle cx="380.8" cy="259.3" r="2.75" fill="url(#gPt)"/><circle cx="386.5" cy="259.3" r="2.75" fill="url(#gPt)"/><circle cx="392.2" cy="259.3" r="2.75" fill="url(#gPt)"/><circle cx="397.9" cy="259.3" r="2.75" fill="url(#gPt)"/><circle cx="372.5" cy="261.6" r="2.75" fill="url(#gPt)"/><circle cx="378.2" cy="261.6" r="2.75" fill="url(#gPt)"/><circle cx="383.9" cy="261.6" r="2.75" fill="url(#gPt)"/><circle cx="389.6" cy="261.6" r="2.75" fill="url(#gPt)"/><circle cx="395.3" cy="261.6" r="2.75" fill="url(#gPt)"/><circle cx="395.1" cy="267.9" r="2.75" fill="url(#gGold)"/><circle cx="398.3" cy="266.7" r="2.75" fill="url(#gGold)"/><circle cx="392.5" cy="272.5" r="2.75" fill="url(#gGold)"/><circle cx="395.9" cy="271.3" r="2.75" fill="url(#gGold)"/><circle cx="398.9" cy="270.1" r="2.75" fill="url(#gGold)"/><circle cx="395.1" cy="277.3" r="2.75" fill="url(#gGold)"/><circle cx="398.3" cy="276.1" r="2.75" fill="url(#gTan)"/><circle cx="392.5" cy="282.0" r="2.75" fill="url(#gGold)"/><circle cx="395.9" cy="280.8" r="2.75" fill="url(#gTan)"/><circle cx="398.9" cy="279.6" r="2.75" fill="url(#gGold)"/><circle cx="395.1" cy="286.7" r="2.75" fill="url(#gGold)"/><circle cx="398.3" cy="285.5" r="2.75" fill="url(#gTan)"/><circle cx="369.9" cy="263.9" r="2.75" fill="url(#gPt)"/><circle cx="375.6" cy="263.9" r="2.75" fill="url(#gPt)"/><circle cx="381.3" cy="263.9" r="2.75" fill="url(#gPt)"/><circle cx="387.0" cy="263.9" r="2.75" fill="url(#gPt)"/><circle cx="392.7" cy="263.9" r="2.75" fill="url(#gPt)"/><circle cx="372.5" cy="269.2" r="2.75" fill="url(#gGold)"/><circle cx="378.2" cy="269.2" r="2.75" fill="url(#gGold)"/><circle cx="383.9" cy="269.2" r="2.75" fill="url(#gGold)"/><circle cx="389.6" cy="269.2" r="2.75" fill="url(#gGold)"/><circle cx="369.9" cy="273.8" r="2.75" fill="url(#gGold)"/><circle cx="375.6" cy="273.8" r="2.75" fill="url(#gGold)"/><circle cx="381.3" cy="273.8" r="2.75" fill="url(#gGold)"/><circle cx="387.0" cy="273.8" r="2.75" fill="url(#gGold)"/><circle cx="372.5" cy="278.6" r="2.75" fill="url(#gGold)"/><circle cx="378.2" cy="278.6" r="2.75" fill="url(#gTan)"/><circle cx="383.9" cy="278.6" r="2.75" fill="url(#gGold)"/><circle cx="389.6" cy="278.6" r="2.75" fill="url(#gTan)"/><circle cx="369.9" cy="283.3" r="2.75" fill="url(#gGold)"/><circle cx="375.6" cy="283.3" r="2.75" fill="url(#gTan)"/><circle cx="381.3" cy="283.3" r="2.75" fill="url(#gGold)"/><circle cx="387.0" cy="283.3" r="2.75" fill="url(#gTan)"/><circle cx="372.5" cy="288.0" r="2.75" fill="url(#gGold)"/><circle cx="378.2" cy="288.0" r="2.75" fill="url(#gTan)"/><circle cx="383.9" cy="288.0" r="2.75" fill="url(#gGold)"/><circle cx="389.6" cy="288.0" r="2.75" fill="url(#gTan)"/><circle cx="373.0" cy="260.5" r="1.6" fill="url(#gO)"/><circle cx="376.7" cy="258.9" r="1.6" fill="url(#gO)"/><circle cx="384.5" cy="260.5" r="1.6" fill="url(#gO)"/><circle cx="388.3" cy="258.9" r="1.6" fill="url(#gO)"/></g>
<g><circle cx="416.5" cy="255.5" r="2.75" fill="url(#gPt)"/><circle cx="422.2" cy="255.5" r="2.75" fill="url(#gPt)"/><circle cx="427.9" cy="255.5" r="2.75" fill="url(#gPt)"/><circle cx="433.6" cy="255.5" r="2.75" fill="url(#gPt)"/><circle cx="439.3" cy="255.5" r="2.75" fill="url(#gPt)"/><circle cx="413.9" cy="257.8" r="2.75" fill="url(#gPt)"/><circle cx="419.6" cy="257.8" r="2.75" fill="url(#gPt)"/><circle cx="425.3" cy="257.8" r="2.75" fill="url(#gPt)"/><circle cx="431.0" cy="257.8" r="2.75" fill="url(#gPt)"/><circle cx="436.7" cy="257.8" r="2.75" fill="url(#gPt)"/><circle cx="436.5" cy="264.1" r="2.75" fill="url(#gGold)"/><circle cx="439.7" cy="262.9" r="2.75" fill="url(#gPt)"/><circle cx="433.9" cy="268.7" r="2.75" fill="url(#gGold)"/><circle cx="437.3" cy="267.5" r="2.75" fill="url(#gGold)"/><circle cx="440.3" cy="266.3" r="2.75" fill="url(#gGold)"/><circle cx="436.5" cy="273.5" r="2.75" fill="url(#gGold)"/><circle cx="439.7" cy="272.3" r="2.75" fill="url(#gTan)"/><circle cx="433.9" cy="278.2" r="2.75" fill="url(#gGold)"/><circle cx="437.3" cy="277.0" r="2.75" fill="url(#gTan)"/><circle cx="440.3" cy="275.8" r="2.75" fill="url(#gGold)"/><circle cx="436.5" cy="282.9" r="2.75" fill="url(#gGold)"/><circle cx="439.7" cy="281.7" r="2.75" fill="url(#gTan)"/><circle cx="411.3" cy="260.1" r="2.75" fill="url(#gPt)"/><circle cx="417.0" cy="260.1" r="2.75" fill="url(#gPt)"/><circle cx="422.7" cy="260.1" r="2.75" fill="url(#gPt)"/><circle cx="428.4" cy="260.1" r="2.75" fill="url(#gPt)"/><circle cx="434.1" cy="260.1" r="2.75" fill="url(#gPt)"/><circle cx="413.9" cy="265.4" r="2.75" fill="url(#gGold)"/><circle cx="419.6" cy="265.4" r="2.75" fill="url(#gPt)"/><circle cx="425.3" cy="265.4" r="2.75" fill="url(#gGold)"/><circle cx="431.0" cy="265.4" r="2.75" fill="url(#gPt)"/><circle cx="411.3" cy="270.0" r="2.75" fill="url(#gGold)"/><circle cx="417.0" cy="270.0" r="2.75" fill="url(#gGold)"/><circle cx="422.7" cy="270.0" r="2.75" fill="url(#gGold)"/><circle cx="428.4" cy="270.0" r="2.75" fill="url(#gGold)"/><circle cx="413.9" cy="274.8" r="2.75" fill="url(#gGold)"/><circle cx="419.6" cy="274.8" r="2.75" fill="url(#gTan)"/><circle cx="425.3" cy="274.8" r="2.75" fill="url(#gGold)"/><circle cx="431.0" cy="274.8" r="2.75" fill="url(#gTan)"/><circle cx="411.3" cy="279.5" r="2.75" fill="url(#gGold)"/><circle cx="417.0" cy="279.5" r="2.75" fill="url(#gTan)"/><circle cx="422.7" cy="279.5" r="2.75" fill="url(#gGold)"/><circle cx="428.4" cy="279.5" r="2.75" fill="url(#gTan)"/><circle cx="413.9" cy="284.2" r="2.75" fill="url(#gGold)"/><circle cx="419.6" cy="284.2" r="2.75" fill="url(#gTan)"/><circle cx="425.3" cy="284.2" r="2.75" fill="url(#gGold)"/><circle cx="431.0" cy="284.2" r="2.75" fill="url(#gTan)"/><circle cx="414.4" cy="256.7" r="1.6" fill="url(#gO)"/><circle cx="418.1" cy="255.1" r="1.6" fill="url(#gO)"/><circle cx="425.9" cy="256.7" r="1.6" fill="url(#gO)"/><circle cx="429.7" cy="255.1" r="1.6" fill="url(#gO)"/></g>
<g><circle cx="457.8" cy="245.8" r="2.75" fill="url(#gPt)"/><circle cx="463.5" cy="245.8" r="2.75" fill="url(#gPt)"/><circle cx="469.2" cy="245.8" r="2.75" fill="url(#gPt)"/><circle cx="474.9" cy="245.8" r="2.75" fill="url(#gPt)"/><circle cx="480.6" cy="245.8" r="2.75" fill="url(#gPt)"/><circle cx="455.2" cy="248.0" r="2.75" fill="url(#gPt)"/><circle cx="460.9" cy="248.0" r="2.75" fill="url(#gPt)"/><circle cx="466.6" cy="248.0" r="2.75" fill="url(#gPt)"/><circle cx="472.3" cy="248.0" r="2.75" fill="url(#gPt)"/><circle cx="478.0" cy="248.0" r="2.75" fill="url(#gPt)"/><circle cx="477.8" cy="254.1" r="2.75" fill="url(#gPt)"/><circle cx="481.0" cy="252.9" r="2.75" fill="url(#gPt)"/><circle cx="475.2" cy="258.5" r="2.75" fill="url(#gPt)"/><circle cx="478.6" cy="257.3" r="2.75" fill="url(#gPt)"/><circle cx="481.6" cy="256.1" r="2.75" fill="url(#gPt)"/><circle cx="477.8" cy="263.2" r="2.75" fill="url(#gPt)"/><circle cx="481.0" cy="262.0" r="2.75" fill="url(#gPt)"/><circle cx="475.2" cy="267.8" r="2.75" fill="url(#gPt)"/><circle cx="478.6" cy="266.6" r="2.75" fill="url(#gPt)"/><circle cx="481.6" cy="265.4" r="2.75" fill="url(#gPt)"/><circle cx="477.8" cy="272.3" r="2.75" fill="url(#gPt)"/><circle cx="481.0" cy="271.1" r="2.75" fill="url(#gPt)"/><circle cx="452.6" cy="250.2" r="2.75" fill="url(#gPt)"/><circle cx="458.3" cy="250.2" r="2.75" fill="url(#gPt)"/><circle cx="464.0" cy="250.2" r="2.75" fill="url(#gPt)"/><circle cx="469.7" cy="250.2" r="2.75" fill="url(#gPt)"/><circle cx="475.4" cy="250.2" r="2.75" fill="url(#gPt)"/><circle cx="455.2" cy="255.4" r="2.75" fill="url(#gPt)"/><circle cx="460.9" cy="255.4" r="2.75" fill="url(#gPt)"/><circle cx="466.6" cy="255.4" r="2.75" fill="url(#gPt)"/><circle cx="472.3" cy="255.4" r="2.75" fill="url(#gPt)"/><circle cx="452.6" cy="259.8" r="2.75" fill="url(#gPt)"/><circle cx="458.3" cy="259.8" r="2.75" fill="url(#gPt)"/><circle cx="464.0" cy="259.8" r="2.75" fill="url(#gPt)"/><circle cx="469.7" cy="259.8" r="2.75" fill="url(#gPt)"/><circle cx="455.2" cy="264.5" r="2.75" fill="url(#gPt)"/><circle cx="460.9" cy="264.5" r="2.75" fill="url(#gPt)"/><circle cx="466.6" cy="264.5" r="2.75" fill="url(#gPt)"/><circle cx="472.3" cy="264.5" r="2.75" fill="url(#gPt)"/><circle cx="452.6" cy="269.1" r="2.75" fill="url(#gPt)"/><circle cx="458.3" cy="269.1" r="2.75" fill="url(#gPt)"/><circle cx="464.0" cy="269.1" r="2.75" fill="url(#gPt)"/><circle cx="469.7" cy="269.1" r="2.75" fill="url(#gPt)"/><circle cx="455.2" cy="273.6" r="2.75" fill="url(#gPt)"/><circle cx="460.9" cy="273.6" r="2.75" fill="url(#gPt)"/><circle cx="466.6" cy="273.6" r="2.75" fill="url(#gPt)"/><circle cx="472.3" cy="273.6" r="2.75" fill="url(#gPt)"/><circle cx="455.7" cy="247.0" r="1.6" fill="url(#gO)"/><circle cx="459.4" cy="245.4" r="1.6" fill="url(#gO)"/><circle cx="467.2" cy="247.0" r="1.6" fill="url(#gO)"/><circle cx="471.0" cy="245.4" r="1.6" fill="url(#gO)"/></g>
<circle cx="329.1" cy="236" r="2.7" fill="url(#gGold)"/>
<text x="332.2" y="240.3" font-size="12.2" font-weight="bold" fill="#000" text-anchor="start" font-family='"Liberation Sans", sans-serif' >Au</text>
<circle cx="352.4" cy="236" r="2.7" fill="url(#gTan)"/>
<text x="355.3" y="240.3" font-size="12.2" font-weight="bold" fill="#000" text-anchor="start" font-family='"Liberation Sans", sans-serif' >Cu</text>
<circle cx="375.5" cy="236" r="2.7" fill="url(#gPt)"/>
<text x="380" y="240.3" font-size="12.2" font-weight="bold" fill="#000" text-anchor="start" font-family='"Liberation Sans", sans-serif' >Pt</text>
<circle cx="397.5" cy="236.2" r="1.1" fill="#e0201a"/>
<text x="400.4" y="240.3" font-size="12.2" font-weight="bold" fill="#000" text-anchor="start" font-family='"Liberation Sans", sans-serif' >O</text>
<text x="329.1" y="401" font-size="11" font-weight="bold" fill="#1a1a1a" text-anchor="start" font-family='"Liberation Sans", sans-serif' textLength="25.4" lengthAdjust="spacingAndGlyphs" >AuPt</text>
<text x="370" y="401" font-size="11" font-weight="bold" fill="#1a1a1a" text-anchor="start" font-family='"Liberation Sans", sans-serif' textLength="25.5" lengthAdjust="spacingAndGlyphs" >Pt/Au</text>
<text x="402.3" y="401" font-size="11" font-weight="bold" fill="#1a1a1a" text-anchor="start" font-family='"Liberation Sans", sans-serif' textLength="59.1" lengthAdjust="spacingAndGlyphs" >Pt/PtAu/Au</text>
<text x="458.6" y="401" font-size="11" font-weight="bold" fill="#1a1a1a" text-anchor="start" font-family='"Liberation Sans", sans-serif' textLength="32.8" lengthAdjust="spacingAndGlyphs" >Pt(111)</text>
<text x="303.6" y="410.5" font-size="11" font-weight="bold" fill="#1a1a1a" text-anchor="start" font-family='"Liberation Sans", sans-serif' textLength="59.1" lengthAdjust="spacingAndGlyphs" >/AuCu(111)</text>
<text x="362.7" y="410.5" font-size="11" font-weight="bold" fill="#1a1a1a" text-anchor="start" font-family='"Liberation Sans", sans-serif' textLength="55.9" lengthAdjust="spacingAndGlyphs" >/AuCu(111)</text>
<text x="417.7" y="410.5" font-size="11" font-weight="bold" fill="#1a1a1a" text-anchor="start" font-family='"Liberation Sans", sans-serif' textLength="30.9" lengthAdjust="spacingAndGlyphs" >/AuCu</text>
<text x="455" y="410.5" font-size="11" font-weight="bold" fill="#1a1a1a" text-anchor="start" font-family='"Liberation Sans", sans-serif' textLength="24.5" lengthAdjust="spacingAndGlyphs" >(111)</text>
<text transform="translate(292.3 307) rotate(-90)" text-anchor="middle" font-size="12.5" font-weight="bold" font-family='"Liberation Sans", sans-serif' fill="#000" textLength="57" lengthAdjust="spacingAndGlyphs">- AE<tspan font-size="8" dy="2">O</tspan><tspan dy="-2"> / eV</tspan></text>
<text x="19.5" y="432.7" font-size="20" font-weight="normal" fill="#000" text-anchor="start" font-family='"Liberation Sans", sans-serif' >e</text>
<rect x="70" y="421.6" width="420" height="250" fill="none" stroke="#333" stroke-width="1.2"/>
<line x1="67" y1="671.6" x2="70" y2="671.6" stroke="#333" stroke-width="1"/>
<text x="66.5" y="675.9" font-size="12.5" font-weight="bold" fill="#111" text-anchor="end" font-family='"Liberation Sans", sans-serif' stroke="#111" stroke-width="0.25" >0</text>
<line x1="68.3" y1="659.1" x2="70" y2="659.1" stroke="#333" stroke-width="1"/>
<line x1="67" y1="646.6" x2="70" y2="646.6" stroke="#333" stroke-width="1"/>
<text x="66.5" y="650.91" font-size="12.5" font-weight="bold" fill="#111" text-anchor="end" font-family='"Liberation Sans", sans-serif' stroke="#111" stroke-width="0.25" >20</text>
<line x1="68.3" y1="634.1" x2="70" y2="634.1" stroke="#333" stroke-width="1"/>
<line x1="67" y1="621.6" x2="70" y2="621.6" stroke="#333" stroke-width="1"/>
<text x="66.5" y="625.92" font-size="12.5" font-weight="bold" fill="#111" text-anchor="end" font-family='"Liberation Sans", sans-serif' stroke="#111" stroke-width="0.25" >40</text>
<line x1="68.3" y1="609.1" x2="70" y2="609.1" stroke="#333" stroke-width="1"/>
<line x1="67" y1="596.6" x2="70" y2="596.6" stroke="#333" stroke-width="1"/>
<text x="66.5" y="600.93" font-size="12.5" font-weight="bold" fill="#111" text-anchor="end" font-family='"Liberation Sans", sans-serif' stroke="#111" stroke-width="0.25" >60</text>
<line x1="68.3" y1="584.1" x2="70" y2="584.1" stroke="#333" stroke-width="1"/>
<line x1="67" y1="571.6" x2="70" y2="571.6" stroke="#333" stroke-width="1"/>
<text x="66.5" y="575.9399999999999" font-size="12.5" font-weight="bold" fill="#111" text-anchor="end" font-family='"Liberation Sans", sans-serif' stroke="#111" stroke-width="0.25" >80</text>
<line x1="68.3" y1="559.1" x2="70" y2="559.1" stroke="#333" stroke-width="1"/>
<line x1="67" y1="546.6" x2="70" y2="546.6" stroke="#333" stroke-width="1"/>
<text x="66.5" y="550.9499999999999" font-size="12.5" font-weight="bold" fill="#111" text-anchor="end" font-family='"Liberation Sans", sans-serif' stroke="#111" stroke-width="0.25" >100</text>
<line x1="68.3" y1="534.2" x2="70" y2="534.2" stroke="#333" stroke-width="1"/>
<line x1="67" y1="521.7" x2="70" y2="521.7" stroke="#333" stroke-width="1"/>
<text x="66.5" y="525.96" font-size="12.5" font-weight="bold" fill="#111" text-anchor="end" font-family='"Liberation Sans", sans-serif' stroke="#111" stroke-width="0.25" >120</text>
<line x1="68.3" y1="509.2" x2="70" y2="509.2" stroke="#333" stroke-width="1"/>
<line x1="67" y1="496.7" x2="70" y2="496.7" stroke="#333" stroke-width="1"/>
<text x="66.5" y="500.97" font-size="12.5" font-weight="bold" fill="#111" text-anchor="end" font-family='"Liberation Sans", sans-serif' stroke="#111" stroke-width="0.25" >140</text>
<line x1="68.3" y1="484.2" x2="70" y2="484.2" stroke="#333" stroke-width="1"/>
<line x1="67" y1="471.7" x2="70" y2="471.7" stroke="#333" stroke-width="1"/>
<text x="66.5" y="475.98" font-size="12.5" font-weight="bold" fill="#111" text-anchor="end" font-family='"Liberation Sans", sans-serif' stroke="#111" stroke-width="0.25" >160</text>
<line x1="68.3" y1="459.2" x2="70" y2="459.2" stroke="#333" stroke-width="1"/>
<line x1="67" y1="446.7" x2="70" y2="446.7" stroke="#333" stroke-width="1"/>
<text x="66.5" y="450.99000000000007" font-size="12.5" font-weight="bold" fill="#111" text-anchor="end" font-family='"Liberation Sans", sans-serif' stroke="#111" stroke-width="0.25" >180</text>
<line x1="68.3" y1="434.2" x2="70" y2="434.2" stroke="#333" stroke-width="1"/>
<line x1="67" y1="421.7" x2="70" y2="421.7" stroke="#333" stroke-width="1"/>
<text x="66.5" y="426.00000000000006" font-size="12.5" font-weight="bold" fill="#111" text-anchor="end" font-family='"Liberation Sans", sans-serif' stroke="#111" stroke-width="0.25" >200</text>
<line x1="118.3" y1="671.6" x2="118.3" y2="669.2" stroke="#333" stroke-width="0.9"/>
<line x1="141.9" y1="671.6" x2="141.9" y2="669.2" stroke="#333" stroke-width="0.9"/>
<line x1="158.7" y1="671.6" x2="158.7" y2="669.2" stroke="#333" stroke-width="0.9"/>
<line x1="171.7" y1="671.6" x2="171.7" y2="669.2" stroke="#333" stroke-width="0.9"/>
<line x1="182.3" y1="671.6" x2="182.3" y2="669.2" stroke="#333" stroke-width="0.9"/>
<line x1="191.2" y1="671.6" x2="191.2" y2="669.2" stroke="#333" stroke-width="0.9"/>
<line x1="199.0" y1="671.6" x2="199.0" y2="669.2" stroke="#333" stroke-width="0.9"/>
<line x1="205.9" y1="671.6" x2="205.9" y2="669.2" stroke="#333" stroke-width="0.9"/>
<line x1="252.3" y1="671.6" x2="252.3" y2="669.2" stroke="#333" stroke-width="0.9"/>
<line x1="275.9" y1="671.6" x2="275.9" y2="669.2" stroke="#333" stroke-width="0.9"/>
<line x1="292.7" y1="671.6" x2="292.7" y2="669.2" stroke="#333" stroke-width="0.9"/>
<line x1="305.7" y1="671.6" x2="305.7" y2="669.2" stroke="#333" stroke-width="0.9"/>
<line x1="316.3" y1="671.6" x2="316.3" y2="669.2" stroke="#333" stroke-width="0.9"/>
<line x1="325.2" y1="671.6" x2="325.2" y2="669.2" stroke="#333" stroke-width="0.9"/>
<line x1="333.0" y1="671.6" x2="333.0" y2="669.2" stroke="#333" stroke-width="0.9"/>
<line x1="339.9" y1="671.6" x2="339.9" y2="669.2" stroke="#333" stroke-width="0.9"/>
<line x1="386.3" y1="671.6" x2="386.3" y2="669.2" stroke="#333" stroke-width="0.9"/>
<line x1="409.9" y1="671.6" x2="409.9" y2="669.2" stroke="#333" stroke-width="0.9"/>
<line x1="426.7" y1="671.6" x2="426.7" y2="669.2" stroke="#333" stroke-width="0.9"/>
<line x1="439.7" y1="671.6" x2="439.7" y2="669.2" stroke="#333" stroke-width="0.9"/>
<line x1="450.3" y1="671.6" x2="450.3" y2="669.2" stroke="#333" stroke-width="0.9"/>
<line x1="459.2" y1="671.6" x2="459.2" y2="669.2" stroke="#333" stroke-width="0.9"/>
<line x1="467.0" y1="671.6" x2="467.0" y2="669.2" stroke="#333" stroke-width="0.9"/>
<line x1="473.9" y1="671.6" x2="473.9" y2="669.2" stroke="#333" stroke-width="0.9"/>
<line x1="78.0" y1="671.6" x2="78.0" y2="668" stroke="#333" stroke-width="1"/>
<text x="78.0" y="687.5" font-size="12.5" font-weight="bold" fill="#111" text-anchor="middle" font-family='"Liberation Sans", sans-serif' stroke="#111" stroke-width="0.25" >1</text>
<line x1="212.0" y1="671.6" x2="212.0" y2="668" stroke="#333" stroke-width="1"/>
<text x="212.0" y="687.5" font-size="12.5" font-weight="bold" fill="#111" text-anchor="middle" font-family='"Liberation Sans", sans-serif' stroke="#111" stroke-width="0.25" >10</text>
<line x1="346.0" y1="671.6" x2="346.0" y2="668" stroke="#333" stroke-width="1"/>
<text x="346.0" y="687.5" font-size="12.5" font-weight="bold" fill="#111" text-anchor="middle" font-family='"Liberation Sans", sans-serif' stroke="#111" stroke-width="0.25" >100</text>
<line x1="480.0" y1="671.6" x2="480.0" y2="668" stroke="#333" stroke-width="1"/>
<text x="480.0" y="687.5" font-size="12.5" font-weight="bold" fill="#111" text-anchor="middle" font-family='"Liberation Sans", sans-serif' stroke="#111" stroke-width="0.25" >1000</text>
<text x="163" y="703.5" font-size="12.5" font-weight="bold" fill="#111" text-anchor="start" font-family='"Liberation Sans", sans-serif' stroke="#111" stroke-width="0.25" textLength="227" lengthAdjust="spacingAndGlyphs" >Accelerated durability&#160; test cycle&#160;&#160; [k cycle]</text>
<text transform="translate(41.5 547) rotate(-90)" text-anchor="middle" font-size="12.5" font-weight="bold" font-family='"Liberation Sans", sans-serif' fill="#111" stroke="#111" stroke-width="0.25" textLength="116" lengthAdjust="spacingAndGlyphs">Normalized ECSA (%)</text>
<polyline points="78,546.2 211,584 251.7,585.5 275.6,596.7 315.8,603 332.3,604.4 360.7,610.4" fill="none" stroke="#000000" stroke-width="1.5"/>
<polyline points="78,546.2 211,571.2 251.7,579.6 275.6,589.3" fill="none" stroke="#ff1010" stroke-width="1.5"/>
<polyline points="78,546.2 211,563.1 251.7,560 275.6,575 332.5,595.5 360.7,593.1 379.3,609.6 393.8,620.3" fill="none" stroke="#1010ff" stroke-width="1.5"/>
<polyline points="78,546.2 211,567.7 251.7,564.9 275.6,564.9 332.5,589.3 360.7,596.4 379.3,600.2 393.8,616 398.9,607.1 409.1,609.1" fill="none" stroke="#1b8c80" stroke-width="1.5"/>
<polyline points="78,546.2 211,550.4 251.7,549.9 275.6,554.2 332.5,570.2 360.7,579.9 379.3,589.8 393.8,592.6 398.9,597.7 409.3,605.5 418.3,610.3 425.8,609.8 439.1,606.8 449.7,616.9 466.3,630.4 479,631.4" fill="none" stroke="#ff10ff" stroke-width="1.5"/>
<circle cx="78" cy="546.2" r="2.9" fill="#000000"/><circle cx="77.2" cy="545.4000000000001" r="1" fill="#fff" opacity="0.55"/>
<circle cx="211" cy="584" r="2.9" fill="#000000"/><circle cx="210.2" cy="583.2" r="1" fill="#fff" opacity="0.55"/>
<circle cx="251.7" cy="585.5" r="2.9" fill="#000000"/><circle cx="250.89999999999998" cy="584.7" r="1" fill="#fff" opacity="0.55"/>
<circle cx="275.6" cy="596.7" r="2.9" fill="#000000"/><circle cx="274.8" cy="595.9000000000001" r="1" fill="#fff" opacity="0.55"/>
<circle cx="315.8" cy="603" r="2.9" fill="#000000"/><circle cx="315.0" cy="602.2" r="1" fill="#fff" opacity="0.55"/>
<circle cx="332.3" cy="604.4" r="2.9" fill="#000000"/><circle cx="331.5" cy="603.6" r="1" fill="#fff" opacity="0.55"/>
<circle cx="360.7" cy="610.4" r="2.9" fill="#000000"/><circle cx="359.9" cy="609.6" r="1" fill="#fff" opacity="0.55"/>
<circle cx="78" cy="546.2" r="2.9" fill="#ff1010"/><circle cx="77.2" cy="545.4000000000001" r="1" fill="#fff" opacity="0.55"/>
<circle cx="211" cy="571.2" r="2.9" fill="#ff1010"/><circle cx="210.2" cy="570.4000000000001" r="1" fill="#fff" opacity="0.55"/>
<circle cx="251.7" cy="579.6" r="2.9" fill="#ff1010"/><circle cx="250.89999999999998" cy="578.8000000000001" r="1" fill="#fff" opacity="0.55"/>
<circle cx="275.6" cy="589.3" r="2.9" fill="#ff1010"/><circle cx="274.8" cy="588.5" r="1" fill="#fff" opacity="0.55"/>
<circle cx="78" cy="546.2" r="2.9" fill="#1010ff"/><circle cx="77.2" cy="545.4000000000001" r="1" fill="#fff" opacity="0.55"/>
<circle cx="211" cy="563.1" r="2.9" fill="#1010ff"/><circle cx="210.2" cy="562.3000000000001" r="1" fill="#fff" opacity="0.55"/>
<circle cx="251.7" cy="560" r="2.9" fill="#1010ff"/><circle cx="250.89999999999998" cy="559.2" r="1" fill="#fff" opacity="0.55"/>
<circle cx="275.6" cy="575" r="2.9" fill="#1010ff"/><circle cx="274.8" cy="574.2" r="1" fill="#fff" opacity="0.55"/>
<circle cx="332.5" cy="595.5" r="2.9" fill="#1010ff"/><circle cx="331.7" cy="594.7" r="1" fill="#fff" opacity="0.55"/>
<circle cx="360.7" cy="593.1" r="2.9" fill="#1010ff"/><circle cx="359.9" cy="592.3000000000001" r="1" fill="#fff" opacity="0.55"/>
<circle cx="379.3" cy="609.6" r="2.9" fill="#1010ff"/><circle cx="378.5" cy="608.8000000000001" r="1" fill="#fff" opacity="0.55"/>
<circle cx="393.8" cy="620.3" r="2.9" fill="#1010ff"/><circle cx="393.0" cy="619.5" r="1" fill="#fff" opacity="0.55"/>
<circle cx="78" cy="546.2" r="2.9" fill="#1b8c80"/><circle cx="77.2" cy="545.4000000000001" r="1" fill="#fff" opacity="0.55"/>
<circle cx="211" cy="567.7" r="2.9" fill="#1b8c80"/><circle cx="210.2" cy="566.9000000000001" r="1" fill="#fff" opacity="0.55"/>
<circle cx="251.7" cy="564.9" r="2.9" fill="#1b8c80"/><circle cx="250.89999999999998" cy="564.1" r="1" fill="#fff" opacity="0.55"/>
<circle cx="275.6" cy="564.9" r="2.9" fill="#1b8c80"/><circle cx="274.8" cy="564.1" r="1" fill="#fff" opacity="0.55"/>
<circle cx="332.5" cy="589.3" r="2.9" fill="#1b8c80"/><circle cx="331.7" cy="588.5" r="1" fill="#fff" opacity="0.55"/>
<circle cx="360.7" cy="596.4" r="2.9" fill="#1b8c80"/><circle cx="359.9" cy="595.6" r="1" fill="#fff" opacity="0.55"/>
<circle cx="379.3" cy="600.2" r="2.9" fill="#1b8c80"/><circle cx="378.5" cy="599.4000000000001" r="1" fill="#fff" opacity="0.55"/>
<circle cx="393.8" cy="616" r="2.9" fill="#1b8c80"/><circle cx="393.0" cy="615.2" r="1" fill="#fff" opacity="0.55"/>
<circle cx="398.9" cy="607.1" r="2.9" fill="#1b8c80"/><circle cx="398.09999999999997" cy="606.3000000000001" r="1" fill="#fff" opacity="0.55"/>
<circle cx="409.1" cy="609.1" r="2.9" fill="#1b8c80"/><circle cx="408.3" cy="608.3000000000001" r="1" fill="#fff" opacity="0.55"/>
<circle cx="78" cy="546.2" r="2.9" fill="#ff10ff"/><circle cx="77.2" cy="545.4000000000001" r="1" fill="#fff" opacity="0.55"/>
<circle cx="211" cy="550.4" r="2.9" fill="#ff10ff"/><circle cx="210.2" cy="549.6" r="1" fill="#fff" opacity="0.55"/>
<circle cx="251.7" cy="549.9" r="2.9" fill="#ff10ff"/><circle cx="250.89999999999998" cy="549.1" r="1" fill="#fff" opacity="0.55"/>
<circle cx="275.6" cy="554.2" r="2.9" fill="#ff10ff"/><circle cx="274.8" cy="553.4000000000001" r="1" fill="#fff" opacity="0.55"/>
<circle cx="332.5" cy="570.2" r="2.9" fill="#ff10ff"/><circle cx="331.7" cy="569.4000000000001" r="1" fill="#fff" opacity="0.55"/>
<circle cx="360.7" cy="579.9" r="2.9" fill="#ff10ff"/><circle cx="359.9" cy="579.1" r="1" fill="#fff" opacity="0.55"/>
<circle cx="379.3" cy="589.8" r="2.9" fill="#ff10ff"/><circle cx="378.5" cy="589.0" r="1" fill="#fff" opacity="0.55"/>
<circle cx="393.8" cy="592.6" r="2.9" fill="#ff10ff"/><circle cx="393.0" cy="591.8000000000001" r="1" fill="#fff" opacity="0.55"/>
<circle cx="398.9" cy="597.7" r="2.9" fill="#ff10ff"/><circle cx="398.09999999999997" cy="596.9000000000001" r="1" fill="#fff" opacity="0.55"/>
<circle cx="409.3" cy="605.5" r="2.9" fill="#ff10ff"/><circle cx="408.5" cy="604.7" r="1" fill="#fff" opacity="0.55"/>
<circle cx="418.3" cy="610.3" r="2.9" fill="#ff10ff"/><circle cx="417.5" cy="609.5" r="1" fill="#fff" opacity="0.55"/>
<circle cx="425.8" cy="609.8" r="2.9" fill="#ff10ff"/><circle cx="425.0" cy="609.0" r="1" fill="#fff" opacity="0.55"/>
<circle cx="439.1" cy="606.8" r="2.9" fill="#ff10ff"/><circle cx="438.3" cy="606.0" r="1" fill="#fff" opacity="0.55"/>
<circle cx="449.7" cy="616.9" r="2.9" fill="#ff10ff"/><circle cx="448.9" cy="616.1" r="1" fill="#fff" opacity="0.55"/>
<circle cx="466.3" cy="630.4" r="2.9" fill="#ff10ff"/><circle cx="465.5" cy="629.6" r="1" fill="#fff" opacity="0.55"/>
<circle cx="479" cy="631.4" r="2.9" fill="#ff10ff"/><circle cx="478.2" cy="630.6" r="1" fill="#fff" opacity="0.55"/>
<line x1="83.3" y1="590.9" x2="100.7" y2="590.9" stroke="#000000" stroke-width="1.5"/>
<circle cx="92.5" cy="590.9" r="2.7" fill="#000000"/><circle cx="91.8" cy="590.1" r="0.9" fill="#fff" opacity="0.55"/>
<text x="105.5" y="595.5" font-size="12" font-weight="bold" fill="#111" text-anchor="start" font-family='"Liberation Sans", sans-serif' stroke="#111" stroke-width="0.3" textLength="52.0" lengthAdjust="spacingAndGlyphs" >Pt /C [JM]</text>
<line x1="83.3" y1="605.5" x2="100.7" y2="605.5" stroke="#ff1010" stroke-width="1.5"/>
<circle cx="92.5" cy="605.5" r="2.7" fill="#ff1010"/><circle cx="91.8" cy="604.7" r="0.9" fill="#fff" opacity="0.55"/>
<text x="105.5" y="610.1" font-size="12" font-weight="bold" fill="#111" text-anchor="start" font-family='"Liberation Sans", sans-serif' stroke="#111" stroke-width="0.3" textLength="62.2" lengthAdjust="spacingAndGlyphs" >Pt<tspan font-size="9.8" dy="3">52</tspan><tspan dy="-3">Co</tspan><tspan font-size="9.8" dy="3">48</tspan><tspan dy="-3"> / C</tspan></text>
<line x1="83.3" y1="621.9" x2="100.7" y2="621.9" stroke="#1010ff" stroke-width="1.5"/>
<circle cx="92.5" cy="621.9" r="2.7" fill="#1010ff"/><circle cx="91.8" cy="621.1" r="0.9" fill="#fff" opacity="0.55"/>
<text x="105.5" y="626.5" font-size="12" font-weight="bold" fill="#111" text-anchor="start" font-family='"Liberation Sans", sans-serif' stroke="#111" stroke-width="0.3" textLength="77.5" lengthAdjust="spacingAndGlyphs" >Pt<tspan font-size="9.8" dy="3">52</tspan><tspan dy="-3">Co</tspan><tspan font-size="9.8" dy="3">45</tspan><tspan dy="-3">N</tspan><tspan font-size="9.8" dy="3">2</tspan><tspan dy="-3"> / C</tspan></text>
<line x1="83.3" y1="637.8" x2="100.7" y2="637.8" stroke="#1b8c80" stroke-width="1.5"/>
<circle cx="92.5" cy="637.8" r="2.7" fill="#1b8c80"/><circle cx="91.8" cy="637.0" r="0.9" fill="#fff" opacity="0.55"/>
<text x="105.5" y="642.4" font-size="12" font-weight="bold" fill="#111" text-anchor="start" font-family='"Liberation Sans", sans-serif' stroke="#111" stroke-width="0.3" textLength="80.8" lengthAdjust="spacingAndGlyphs" >Pt<tspan font-size="9.8" dy="3">44</tspan><tspan dy="-3">Co</tspan><tspan font-size="9.8" dy="3">42</tspan><tspan dy="-3">N</tspan><tspan font-size="9.8" dy="3">14</tspan><tspan dy="-3"> / C</tspan></text>
<line x1="83.3" y1="655.3" x2="100.7" y2="655.3" stroke="#ff10ff" stroke-width="1.5"/>
<circle cx="92.5" cy="655.3" r="2.7" fill="#ff10ff"/><circle cx="91.8" cy="654.5" r="0.9" fill="#fff" opacity="0.55"/>
<text x="105.5" y="659.9" font-size="12" font-weight="bold" fill="#111" text-anchor="start" font-family='"Liberation Sans", sans-serif' stroke="#111" stroke-width="0.3" textLength="80.8" lengthAdjust="spacingAndGlyphs" >Pt<tspan font-size="9.8" dy="3">40</tspan><tspan dy="-3">Co</tspan><tspan font-size="9.8" dy="3">36</tspan><tspan dy="-3">N</tspan><tspan font-size="9.8" dy="3">24</tspan><tspan dy="-3"> / C</tspan></text>
<defs><radialGradient id="gB" cx="0.35" cy="0.35" r="0.7"><stop offset="0" stop-color="#6a6aff"/><stop offset="0.5" stop-color="#2020e0"/><stop offset="1" stop-color="#0a0a80"/></radialGradient><radialGradient id="gR" cx="0.35" cy="0.35" r="0.7"><stop offset="0" stop-color="#ff6a6a"/><stop offset="0.5" stop-color="#d01818"/><stop offset="1" stop-color="#700000"/></radialGradient><radialGradient id="gW" cx="0.35" cy="0.35" r="0.7"><stop offset="0" stop-color="#ffffff"/><stop offset="0.5" stop-color="#d0d0d0"/><stop offset="1" stop-color="#606060"/></radialGradient></defs>
<g><polygon points="250.8,511.9 234.5,517.8 221.2,506.7 224.2,489.7 240.5,483.8 253.8,494.9" fill="#181828"/><clipPath id="npc237500"><polygon points="250.8,511.9 234.5,517.8 221.2,506.7 224.2,489.7 240.5,483.8 253.8,494.9"/></clipPath><g clip-path="url(#npc237500)"><circle cx="229.6" cy="483.2" r="1.1" fill="url(#gW)"/><circle cx="231.9" cy="483.2" r="1.1" fill="url(#gW)"/><circle cx="234.1" cy="483.2" r="1.1" fill="url(#gW)"/><circle cx="236.4" cy="483.2" r="1.1" fill="url(#gW)"/><circle cx="238.6" cy="483.2" r="1.1" fill="url(#gW)"/><circle cx="240.9" cy="483.2" r="1.1" fill="url(#gW)"/><circle cx="243.1" cy="483.2" r="1.1" fill="url(#gW)"/><circle cx="245.4" cy="483.2" r="1.1" fill="url(#gW)"/><circle cx="226.2" cy="485.2" r="1.1" fill="url(#gW)"/><circle cx="228.5" cy="485.2" r="1.1" fill="url(#gW)"/><circle cx="230.8" cy="485.2" r="1.1" fill="url(#gW)"/><circle cx="233.0" cy="485.2" r="1.1" fill="url(#gW)"/><circle cx="235.2" cy="485.2" r="1.1" fill="url(#gW)"/><circle cx="237.5" cy="485.2" r="1.1" fill="url(#gW)"/><circle cx="239.8" cy="485.2" r="1.1" fill="url(#gW)"/><circle cx="242.0" cy="485.2" r="1.1" fill="url(#gW)"/><circle cx="244.2" cy="485.2" r="1.1" fill="url(#gW)"/><circle cx="246.5" cy="485.2" r="1.1" fill="url(#gW)"/><circle cx="248.8" cy="485.2" r="1.1" fill="url(#gW)"/><circle cx="225.1" cy="487.2" r="1.1" fill="url(#gW)"/><circle cx="227.4" cy="487.2" r="1.1" fill="url(#gW)"/><circle cx="229.6" cy="487.2" r="1.1" fill="url(#gW)"/><circle cx="231.9" cy="487.2" r="1.1" fill="url(#gW)"/><circle cx="234.1" cy="487.2" r="1.1" fill="url(#gW)"/><circle cx="236.4" cy="487.2" r="1.1" fill="url(#gW)"/><circle cx="238.6" cy="487.2" r="1.1" fill="url(#gW)"/><circle cx="240.9" cy="487.2" r="1.1" fill="url(#gW)"/><circle cx="243.1" cy="487.2" r="1.1" fill="url(#gW)"/><circle cx="245.4" cy="487.2" r="1.1" fill="url(#gW)"/><circle cx="247.6" cy="487.2" r="1.1" fill="url(#gW)"/><circle cx="249.9" cy="487.2" r="1.1" fill="url(#gW)"/><circle cx="224.0" cy="489.1" r="1.1" fill="url(#gW)"/><circle cx="226.2" cy="489.1" r="1.1" fill="url(#gW)"/><circle cx="228.5" cy="489.1" r="1.1" fill="url(#gW)"/><circle cx="230.8" cy="489.1" r="1.1" fill="url(#gW)"/><circle cx="233.0" cy="489.1" r="1.1" fill="url(#gW)"/><circle cx="244.2" cy="489.1" r="1.1" fill="url(#gW)"/><circle cx="246.5" cy="489.1" r="1.1" fill="url(#gW)"/><circle cx="248.8" cy="489.1" r="1.1" fill="url(#gW)"/><circle cx="251.0" cy="489.1" r="1.1" fill="url(#gW)"/><circle cx="222.9" cy="491.1" r="1.1" fill="url(#gW)"/><circle cx="225.1" cy="491.1" r="1.1" fill="url(#gW)"/><circle cx="227.4" cy="491.1" r="1.1" fill="url(#gW)"/><circle cx="245.4" cy="491.1" r="1.1" fill="url(#gW)"/><circle cx="247.6" cy="491.1" r="1.1" fill="url(#gW)"/><circle cx="249.9" cy="491.1" r="1.1" fill="url(#gW)"/><circle cx="252.1" cy="491.1" r="1.1" fill="url(#gW)"/><circle cx="221.8" cy="493.0" r="1.1" fill="url(#gW)"/><circle cx="224.0" cy="493.0" r="1.1" fill="url(#gW)"/><circle cx="226.2" cy="493.0" r="1.1" fill="url(#gW)"/><circle cx="248.8" cy="493.0" r="1.1" fill="url(#gW)"/><circle cx="251.0" cy="493.0" r="1.1" fill="url(#gW)"/><circle cx="253.2" cy="493.0" r="1.1" fill="url(#gW)"/><circle cx="220.6" cy="494.9" r="1.1" fill="url(#gW)"/><circle cx="222.9" cy="494.9" r="1.1" fill="url(#gW)"/><circle cx="225.1" cy="494.9" r="1.1" fill="url(#gW)"/><circle cx="249.9" cy="494.9" r="1.1" fill="url(#gW)"/><circle cx="252.1" cy="494.9" r="1.1" fill="url(#gW)"/><circle cx="254.4" cy="494.9" r="1.1" fill="url(#gW)"/><circle cx="219.5" cy="496.9" r="1.1" fill="url(#gW)"/><circle cx="221.8" cy="496.9" r="1.1" fill="url(#gW)"/><circle cx="224.0" cy="496.9" r="1.1" fill="url(#gW)"/><circle cx="251.0" cy="496.9" r="1.1" fill="url(#gW)"/><circle cx="253.2" cy="496.9" r="1.1" fill="url(#gW)"/><circle cx="255.5" cy="496.9" r="1.1" fill="url(#gW)"/><circle cx="218.4" cy="498.9" r="1.1" fill="url(#gW)"/><circle cx="220.6" cy="498.9" r="1.1" fill="url(#gW)"/><circle cx="222.9" cy="498.9" r="1.1" fill="url(#gW)"/><circle cx="225.1" cy="498.9" r="1.1" fill="url(#gW)"/><circle cx="252.1" cy="498.9" r="1.1" fill="url(#gW)"/><circle cx="254.4" cy="498.9" r="1.1" fill="url(#gW)"/><circle cx="256.6" cy="498.9" r="1.1" fill="url(#gW)"/><circle cx="219.5" cy="500.8" r="1.1" fill="url(#gW)"/><circle cx="221.8" cy="500.8" r="1.1" fill="url(#gW)"/><circle cx="224.0" cy="500.8" r="1.1" fill="url(#gW)"/><circle cx="251.0" cy="500.8" r="1.1" fill="url(#gW)"/><circle cx="253.2" cy="500.8" r="1.1" fill="url(#gW)"/><circle cx="255.5" cy="500.8" r="1.1" fill="url(#gW)"/><circle cx="218.4" cy="502.8" r="1.1" fill="url(#gW)"/><circle cx="220.6" cy="502.8" r="1.1" fill="url(#gW)"/><circle cx="222.9" cy="502.8" r="1.1" fill="url(#gW)"/><circle cx="249.9" cy="502.8" r="1.1" fill="url(#gW)"/><circle cx="252.1" cy="502.8" r="1.1" fill="url(#gW)"/><circle cx="254.4" cy="502.8" r="1.1" fill="url(#gW)"/><circle cx="256.6" cy="502.8" r="1.1" fill="url(#gW)"/><circle cx="219.5" cy="504.7" r="1.1" fill="url(#gW)"/><circle cx="221.8" cy="504.7" r="1.1" fill="url(#gW)"/><circle cx="224.0" cy="504.7" r="1.1" fill="url(#gW)"/><circle cx="251.0" cy="504.7" r="1.1" fill="url(#gW)"/><circle cx="253.2" cy="504.7" r="1.1" fill="url(#gW)"/><circle cx="255.5" cy="504.7" r="1.1" fill="url(#gW)"/><circle cx="220.6" cy="506.7" r="1.1" fill="url(#gW)"/><circle cx="222.9" cy="506.7" r="1.1" fill="url(#gW)"/><circle cx="225.1" cy="506.7" r="1.1" fill="url(#gW)"/><circle cx="249.9" cy="506.7" r="1.1" fill="url(#gW)"/><circle cx="252.1" cy="506.7" r="1.1" fill="url(#gW)"/><circle cx="254.4" cy="506.7" r="1.1" fill="url(#gW)"/><circle cx="221.8" cy="508.6" r="1.1" fill="url(#gW)"/><circle cx="224.0" cy="508.6" r="1.1" fill="url(#gW)"/><circle cx="226.2" cy="508.6" r="1.1" fill="url(#gW)"/><circle cx="248.8" cy="508.6" r="1.1" fill="url(#gW)"/><circle cx="251.0" cy="508.6" r="1.1" fill="url(#gW)"/><circle cx="253.2" cy="508.6" r="1.1" fill="url(#gW)"/><circle cx="222.9" cy="510.6" r="1.1" fill="url(#gW)"/><circle cx="225.1" cy="510.6" r="1.1" fill="url(#gW)"/><circle cx="227.4" cy="510.6" r="1.1" fill="url(#gW)"/><circle cx="229.6" cy="510.6" r="1.1" fill="url(#gW)"/><circle cx="247.6" cy="510.6" r="1.1" fill="url(#gW)"/><circle cx="249.9" cy="510.6" r="1.1" fill="url(#gW)"/><circle cx="252.1" cy="510.6" r="1.1" fill="url(#gW)"/><circle cx="224.0" cy="512.5" r="1.1" fill="url(#gW)"/><circle cx="226.2" cy="512.5" r="1.1" fill="url(#gW)"/><circle cx="228.5" cy="512.5" r="1.1" fill="url(#gW)"/><circle cx="230.8" cy="512.5" r="1.1" fill="url(#gW)"/><circle cx="242.0" cy="512.5" r="1.1" fill="url(#gW)"/><circle cx="244.2" cy="512.5" r="1.1" fill="url(#gW)"/><circle cx="246.5" cy="512.5" r="1.1" fill="url(#gW)"/><circle cx="248.8" cy="512.5" r="1.1" fill="url(#gW)"/><circle cx="251.0" cy="512.5" r="1.1" fill="url(#gW)"/><circle cx="225.1" cy="514.5" r="1.1" fill="url(#gW)"/><circle cx="227.4" cy="514.5" r="1.1" fill="url(#gW)"/><circle cx="229.6" cy="514.5" r="1.1" fill="url(#gW)"/><circle cx="231.9" cy="514.5" r="1.1" fill="url(#gW)"/><circle cx="234.1" cy="514.5" r="1.1" fill="url(#gW)"/><circle cx="236.4" cy="514.5" r="1.1" fill="url(#gW)"/><circle cx="238.6" cy="514.5" r="1.1" fill="url(#gW)"/><circle cx="240.9" cy="514.5" r="1.1" fill="url(#gW)"/><circle cx="243.1" cy="514.5" r="1.1" fill="url(#gW)"/><circle cx="245.4" cy="514.5" r="1.1" fill="url(#gW)"/><circle cx="247.6" cy="514.5" r="1.1" fill="url(#gW)"/><circle cx="249.9" cy="514.5" r="1.1" fill="url(#gW)"/><circle cx="226.2" cy="516.4" r="1.1" fill="url(#gW)"/><circle cx="228.5" cy="516.4" r="1.1" fill="url(#gW)"/><circle cx="230.8" cy="516.4" r="1.1" fill="url(#gW)"/><circle cx="233.0" cy="516.4" r="1.1" fill="url(#gW)"/><circle cx="235.2" cy="516.4" r="1.1" fill="url(#gW)"/><circle cx="237.5" cy="516.4" r="1.1" fill="url(#gW)"/><circle cx="239.8" cy="516.4" r="1.1" fill="url(#gW)"/><circle cx="242.0" cy="516.4" r="1.1" fill="url(#gW)"/><circle cx="244.2" cy="516.4" r="1.1" fill="url(#gW)"/><circle cx="246.5" cy="516.4" r="1.1" fill="url(#gW)"/><circle cx="248.8" cy="516.4" r="1.1" fill="url(#gW)"/><circle cx="229.6" cy="518.4" r="1.1" fill="url(#gW)"/><circle cx="231.9" cy="518.4" r="1.1" fill="url(#gW)"/><circle cx="234.1" cy="518.4" r="1.1" fill="url(#gW)"/><circle cx="236.4" cy="518.4" r="1.1" fill="url(#gW)"/><circle cx="238.6" cy="518.4" r="1.1" fill="url(#gW)"/><circle cx="240.9" cy="518.4" r="1.1" fill="url(#gW)"/><circle cx="243.1" cy="518.4" r="1.1" fill="url(#gW)"/><circle cx="245.4" cy="518.4" r="1.1" fill="url(#gW)"/><circle cx="236.4" cy="506.7" r="1.08" fill="url(#gB)"/><circle cx="227.4" cy="502.8" r="1.08" fill="url(#gB)"/><circle cx="237.5" cy="500.8" r="1.08" fill="url(#gB)"/><circle cx="228.5" cy="508.6" r="1.08" fill="url(#gB)"/><circle cx="243.1" cy="498.9" r="1.08" fill="url(#gB)"/><circle cx="229.6" cy="506.7" r="1.08" fill="url(#gB)"/><circle cx="245.4" cy="510.6" r="1.08" fill="url(#gB)"/><circle cx="246.5" cy="496.9" r="1.08" fill="url(#gB)"/><circle cx="227.4" cy="498.9" r="1.08" fill="url(#gB)"/><circle cx="245.4" cy="502.8" r="1.08" fill="url(#gB)"/><circle cx="246.5" cy="504.7" r="1.08" fill="url(#gB)"/><circle cx="238.6" cy="510.6" r="1.08" fill="url(#gB)"/><circle cx="245.4" cy="494.9" r="1.08" fill="url(#gB)"/><circle cx="238.6" cy="494.9" r="1.08" fill="url(#gB)"/><circle cx="248.8" cy="500.8" r="1.08" fill="url(#gB)"/><circle cx="233.0" cy="512.5" r="1.08" fill="url(#gB)"/><circle cx="236.4" cy="498.9" r="1.08" fill="url(#gB)"/><circle cx="235.2" cy="504.7" r="1.08" fill="url(#gB)"/><circle cx="242.0" cy="500.8" r="1.08" fill="url(#gB)"/><circle cx="234.1" cy="494.9" r="1.08" fill="url(#gB)"/><circle cx="240.9" cy="491.1" r="1.08" fill="url(#gB)"/><circle cx="235.2" cy="489.1" r="1.08" fill="url(#gB)"/><circle cx="228.5" cy="496.9" r="1.08" fill="url(#gB)"/><circle cx="237.5" cy="496.9" r="1.08" fill="url(#gB)"/><circle cx="247.6" cy="502.8" r="1.08" fill="url(#gB)"/><circle cx="228.5" cy="493.0" r="1.08" fill="url(#gB)"/><circle cx="239.8" cy="489.1" r="1.08" fill="url(#gB)"/><circle cx="239.8" cy="512.5" r="1.08" fill="url(#gB)"/><circle cx="246.5" cy="500.8" r="1.08" fill="url(#gB)"/><circle cx="229.6" cy="502.8" r="1.08" fill="url(#gB)"/><circle cx="237.5" cy="493.0" r="1.08" fill="url(#gB)"/><circle cx="236.4" cy="502.8" r="1.08" fill="url(#gB)"/><circle cx="236.4" cy="491.1" r="1.08" fill="url(#gB)"/><circle cx="244.2" cy="493.0" r="1.08" fill="url(#gB)"/><circle cx="234.1" cy="498.9" r="1.08" fill="url(#gB)"/><circle cx="233.0" cy="493.0" r="1.08" fill="url(#gB)"/><circle cx="234.1" cy="491.1" r="1.08" fill="url(#gB)"/><circle cx="247.6" cy="506.7" r="1.08" fill="url(#gB)"/><circle cx="230.8" cy="504.7" r="1.08" fill="url(#gB)"/><circle cx="226.2" cy="500.8" r="1.08" fill="url(#gB)"/><circle cx="244.2" cy="504.7" r="1.08" fill="url(#gB)"/><circle cx="243.1" cy="491.1" r="1.08" fill="url(#gB)"/><circle cx="229.6" cy="498.9" r="1.08" fill="url(#gB)"/><circle cx="237.5" cy="504.7" r="1.08" fill="url(#gB)"/><circle cx="234.1" cy="502.8" r="1.08" fill="url(#gB)"/><circle cx="248.8" cy="504.7" r="1.08" fill="url(#gB)"/><circle cx="231.9" cy="498.9" r="1.08" fill="url(#gB)"/><circle cx="229.6" cy="494.9" r="1.08" fill="url(#gB)"/><circle cx="235.2" cy="493.0" r="1.08" fill="url(#gB)"/><circle cx="249.9" cy="498.9" r="1.08" fill="url(#gB)"/><circle cx="239.8" cy="500.8" r="1.08" fill="url(#gB)"/><circle cx="242.0" cy="496.9" r="1.08" fill="url(#gB)"/><circle cx="231.9" cy="510.6" r="1.08" fill="url(#gB)"/><circle cx="231.9" cy="494.9" r="1.08" fill="url(#gB)"/><circle cx="239.8" cy="496.9" r="1.08" fill="url(#gB)"/><circle cx="235.2" cy="508.6" r="1.08" fill="url(#gB)"/><circle cx="228.5" cy="500.8" r="1.08" fill="url(#gB)"/><circle cx="230.8" cy="496.9" r="1.08" fill="url(#gB)"/><circle cx="240.9" cy="494.9" r="1.08" fill="url(#gB)"/><circle cx="231.9" cy="506.7" r="1.08" fill="url(#gB)"/><circle cx="236.4" cy="510.6" r="1.08" fill="url(#gB)"/><circle cx="248.8" cy="496.9" r="1.08" fill="url(#gB)"/><circle cx="234.1" cy="506.7" r="1.08" fill="url(#gB)"/><circle cx="233.0" cy="500.8" r="1.08" fill="url(#gB)"/><circle cx="242.0" cy="508.6" r="1.08" fill="url(#gB)"/><circle cx="243.1" cy="494.9" r="1.08" fill="url(#gB)"/><circle cx="225.1" cy="502.8" r="1.08" fill="url(#gB)"/><circle cx="243.1" cy="502.8" r="1.08" fill="url(#gB)"/><circle cx="229.6" cy="491.1" r="1.08" fill="url(#gB)"/><circle cx="230.8" cy="493.0" r="1.08" fill="url(#gB)"/><circle cx="238.6" cy="498.9" r="1.08" fill="url(#gB)"/><circle cx="242.0" cy="493.0" r="1.08" fill="url(#gB)"/><circle cx="235.2" cy="500.8" r="1.08" fill="url(#gB)"/><circle cx="243.1" cy="506.7" r="1.08" fill="url(#gB)"/><circle cx="230.8" cy="500.8" r="1.08" fill="url(#gB)"/><circle cx="227.4" cy="506.7" r="1.08" fill="url(#gB)"/><circle cx="245.4" cy="506.7" r="1.08" fill="url(#gB)"/><circle cx="235.2" cy="496.9" r="1.08" fill="url(#gB)"/><circle cx="242.0" cy="489.1" r="1.08" fill="url(#gB)"/><circle cx="244.2" cy="496.9" r="1.08" fill="url(#gB)"/><circle cx="231.9" cy="491.1" r="1.08" fill="url(#gB)"/><circle cx="237.5" cy="512.5" r="1.08" fill="url(#gB)"/><circle cx="227.4" cy="494.9" r="1.08" fill="url(#gB)"/><circle cx="234.1" cy="510.6" r="1.08" fill="url(#gB)"/><circle cx="246.5" cy="508.6" r="1.08" fill="url(#gB)"/><circle cx="245.4" cy="498.9" r="1.08" fill="url(#gB)"/><circle cx="231.9" cy="502.8" r="1.08" fill="url(#gB)"/><circle cx="238.6" cy="506.7" r="1.08" fill="url(#gB)"/><circle cx="233.0" cy="508.6" r="1.08" fill="url(#gB)"/><circle cx="237.5" cy="508.6" r="1.08" fill="url(#gB)"/><circle cx="246.5" cy="493.0" r="1.08" fill="url(#gB)"/><circle cx="242.0" cy="504.7" r="1.08" fill="url(#gB)"/><circle cx="247.6" cy="498.9" r="1.08" fill="url(#gB)"/><circle cx="230.8" cy="508.6" r="1.08" fill="url(#gB)"/><circle cx="239.8" cy="508.6" r="1.08" fill="url(#gB)"/><circle cx="235.2" cy="512.5" r="1.08" fill="url(#gB)"/><circle cx="244.2" cy="508.6" r="1.08" fill="url(#gB)"/><circle cx="240.9" cy="506.7" r="1.08" fill="url(#gB)"/><circle cx="236.4" cy="494.9" r="1.08" fill="url(#gB)"/><circle cx="247.6" cy="494.9" r="1.08" fill="url(#gB)"/><circle cx="240.9" cy="502.8" r="1.08" fill="url(#gB)"/><circle cx="233.0" cy="496.9" r="1.08" fill="url(#gB)"/><circle cx="240.9" cy="510.6" r="1.08" fill="url(#gB)"/><circle cx="237.5" cy="489.1" r="1.08" fill="url(#gB)"/><circle cx="243.1" cy="510.6" r="1.08" fill="url(#gB)"/><circle cx="238.6" cy="491.1" r="1.08" fill="url(#gB)"/><circle cx="226.2" cy="504.7" r="1.08" fill="url(#gB)"/><circle cx="239.8" cy="504.7" r="1.08" fill="url(#gB)"/><circle cx="244.2" cy="500.8" r="1.08" fill="url(#gB)"/><circle cx="233.0" cy="504.7" r="1.08" fill="url(#gB)"/><circle cx="240.9" cy="498.9" r="1.08" fill="url(#gB)"/><circle cx="239.8" cy="493.0" r="1.08" fill="url(#gB)"/><circle cx="238.6" cy="502.8" r="1.08" fill="url(#gB)"/><circle cx="228.5" cy="504.7" r="1.08" fill="url(#gB)"/><circle cx="226.2" cy="496.9" r="1.08" fill="url(#gB)"/></g></g>
<g><polygon points="454.1,446.6 448.5,457.2 437.7,462.4 425.9,460.3 417.6,451.7 415.9,439.8 421.5,429.2 432.3,424.0 444.1,426.1 452.4,434.7" fill="#181828"/><clipPath id="npc435443"><polygon points="454.1,446.6 448.5,457.2 437.7,462.4 425.9,460.3 417.6,451.7 415.9,439.8 421.5,429.2 432.3,424.0 444.1,426.1 452.4,434.7"/></clipPath><g clip-path="url(#npc435443)"><circle cx="428.2" cy="423.7" r="1.1" fill="url(#gW)"/><circle cx="430.5" cy="423.7" r="1.1" fill="url(#gW)"/><circle cx="432.8" cy="423.7" r="1.1" fill="url(#gW)"/><circle cx="435.0" cy="423.7" r="1.1" fill="url(#gW)"/><circle cx="437.2" cy="423.7" r="1.1" fill="url(#gW)"/><circle cx="439.5" cy="423.7" r="1.1" fill="url(#gW)"/><circle cx="441.8" cy="423.7" r="1.1" fill="url(#gW)"/><circle cx="424.9" cy="425.6" r="1.1" fill="url(#gW)"/><circle cx="427.1" cy="425.6" r="1.1" fill="url(#gW)"/><circle cx="429.4" cy="425.6" r="1.1" fill="url(#gW)"/><circle cx="431.6" cy="425.6" r="1.1" fill="url(#gW)"/><circle cx="433.9" cy="425.6" r="1.1" fill="url(#gW)"/><circle cx="436.1" cy="425.6" r="1.1" fill="url(#gW)"/><circle cx="438.4" cy="425.6" r="1.1" fill="url(#gW)"/><circle cx="440.6" cy="425.6" r="1.1" fill="url(#gW)"/><circle cx="442.9" cy="425.6" r="1.1" fill="url(#gW)"/><circle cx="445.1" cy="425.6" r="1.1" fill="url(#gW)"/><circle cx="421.5" cy="427.6" r="1.1" fill="url(#gW)"/><circle cx="423.8" cy="427.6" r="1.1" fill="url(#gW)"/><circle cx="426.0" cy="427.6" r="1.1" fill="url(#gW)"/><circle cx="428.2" cy="427.6" r="1.1" fill="url(#gW)"/><circle cx="430.5" cy="427.6" r="1.1" fill="url(#gW)"/><circle cx="437.2" cy="427.6" r="1.1" fill="url(#gW)"/><circle cx="439.5" cy="427.6" r="1.1" fill="url(#gW)"/><circle cx="441.8" cy="427.6" r="1.1" fill="url(#gW)"/><circle cx="444.0" cy="427.6" r="1.1" fill="url(#gW)"/><circle cx="446.2" cy="427.6" r="1.1" fill="url(#gW)"/><circle cx="448.5" cy="427.6" r="1.1" fill="url(#gW)"/><circle cx="420.4" cy="429.6" r="1.1" fill="url(#gW)"/><circle cx="422.6" cy="429.6" r="1.1" fill="url(#gW)"/><circle cx="424.9" cy="429.6" r="1.1" fill="url(#gW)"/><circle cx="427.1" cy="429.6" r="1.1" fill="url(#gW)"/><circle cx="445.1" cy="429.6" r="1.1" fill="url(#gW)"/><circle cx="447.4" cy="429.6" r="1.1" fill="url(#gW)"/><circle cx="449.6" cy="429.6" r="1.1" fill="url(#gW)"/><circle cx="419.2" cy="431.5" r="1.1" fill="url(#gW)"/><circle cx="421.5" cy="431.5" r="1.1" fill="url(#gW)"/><circle cx="446.2" cy="431.5" r="1.1" fill="url(#gW)"/><circle cx="448.5" cy="431.5" r="1.1" fill="url(#gW)"/><circle cx="450.8" cy="431.5" r="1.1" fill="url(#gW)"/><circle cx="418.1" cy="433.4" r="1.1" fill="url(#gW)"/><circle cx="420.4" cy="433.4" r="1.1" fill="url(#gW)"/><circle cx="447.4" cy="433.4" r="1.1" fill="url(#gW)"/><circle cx="449.6" cy="433.4" r="1.1" fill="url(#gW)"/><circle cx="451.9" cy="433.4" r="1.1" fill="url(#gW)"/><circle cx="417.0" cy="435.4" r="1.1" fill="url(#gW)"/><circle cx="419.2" cy="435.4" r="1.1" fill="url(#gW)"/><circle cx="450.8" cy="435.4" r="1.1" fill="url(#gW)"/><circle cx="453.0" cy="435.4" r="1.1" fill="url(#gW)"/><circle cx="415.9" cy="437.3" r="1.1" fill="url(#gW)"/><circle cx="418.1" cy="437.3" r="1.1" fill="url(#gW)"/><circle cx="420.4" cy="437.3" r="1.1" fill="url(#gW)"/><circle cx="451.9" cy="437.3" r="1.1" fill="url(#gW)"/><circle cx="454.1" cy="437.3" r="1.1" fill="url(#gW)"/><circle cx="414.8" cy="439.3" r="1.1" fill="url(#gW)"/><circle cx="417.0" cy="439.3" r="1.1" fill="url(#gW)"/><circle cx="419.2" cy="439.3" r="1.1" fill="url(#gW)"/><circle cx="450.8" cy="439.3" r="1.1" fill="url(#gW)"/><circle cx="453.0" cy="439.3" r="1.1" fill="url(#gW)"/><circle cx="455.2" cy="439.3" r="1.1" fill="url(#gW)"/><circle cx="415.9" cy="441.2" r="1.1" fill="url(#gW)"/><circle cx="418.1" cy="441.2" r="1.1" fill="url(#gW)"/><circle cx="451.9" cy="441.2" r="1.1" fill="url(#gW)"/><circle cx="454.1" cy="441.2" r="1.1" fill="url(#gW)"/><circle cx="414.8" cy="443.2" r="1.1" fill="url(#gW)"/><circle cx="417.0" cy="443.2" r="1.1" fill="url(#gW)"/><circle cx="453.0" cy="443.2" r="1.1" fill="url(#gW)"/><circle cx="455.2" cy="443.2" r="1.1" fill="url(#gW)"/><circle cx="415.9" cy="445.1" r="1.1" fill="url(#gW)"/><circle cx="418.1" cy="445.1" r="1.1" fill="url(#gW)"/><circle cx="451.9" cy="445.1" r="1.1" fill="url(#gW)"/><circle cx="454.1" cy="445.1" r="1.1" fill="url(#gW)"/><circle cx="414.8" cy="447.1" r="1.1" fill="url(#gW)"/><circle cx="417.0" cy="447.1" r="1.1" fill="url(#gW)"/><circle cx="419.2" cy="447.1" r="1.1" fill="url(#gW)"/><circle cx="450.8" cy="447.1" r="1.1" fill="url(#gW)"/><circle cx="453.0" cy="447.1" r="1.1" fill="url(#gW)"/><circle cx="455.2" cy="447.1" r="1.1" fill="url(#gW)"/><circle cx="415.9" cy="449.1" r="1.1" fill="url(#gW)"/><circle cx="418.1" cy="449.1" r="1.1" fill="url(#gW)"/><circle cx="449.6" cy="449.1" r="1.1" fill="url(#gW)"/><circle cx="451.9" cy="449.1" r="1.1" fill="url(#gW)"/><circle cx="454.1" cy="449.1" r="1.1" fill="url(#gW)"/><circle cx="417.0" cy="451.0" r="1.1" fill="url(#gW)"/><circle cx="419.2" cy="451.0" r="1.1" fill="url(#gW)"/><circle cx="450.8" cy="451.0" r="1.1" fill="url(#gW)"/><circle cx="453.0" cy="451.0" r="1.1" fill="url(#gW)"/><circle cx="418.1" cy="452.9" r="1.1" fill="url(#gW)"/><circle cx="420.4" cy="452.9" r="1.1" fill="url(#gW)"/><circle cx="422.6" cy="452.9" r="1.1" fill="url(#gW)"/><circle cx="449.6" cy="452.9" r="1.1" fill="url(#gW)"/><circle cx="451.9" cy="452.9" r="1.1" fill="url(#gW)"/><circle cx="419.2" cy="454.9" r="1.1" fill="url(#gW)"/><circle cx="421.5" cy="454.9" r="1.1" fill="url(#gW)"/><circle cx="423.8" cy="454.9" r="1.1" fill="url(#gW)"/><circle cx="448.5" cy="454.9" r="1.1" fill="url(#gW)"/><circle cx="450.8" cy="454.9" r="1.1" fill="url(#gW)"/><circle cx="420.4" cy="456.8" r="1.1" fill="url(#gW)"/><circle cx="422.6" cy="456.8" r="1.1" fill="url(#gW)"/><circle cx="424.9" cy="456.8" r="1.1" fill="url(#gW)"/><circle cx="442.9" cy="456.8" r="1.1" fill="url(#gW)"/><circle cx="445.1" cy="456.8" r="1.1" fill="url(#gW)"/><circle cx="447.4" cy="456.8" r="1.1" fill="url(#gW)"/><circle cx="449.6" cy="456.8" r="1.1" fill="url(#gW)"/><circle cx="421.5" cy="458.8" r="1.1" fill="url(#gW)"/><circle cx="423.8" cy="458.8" r="1.1" fill="url(#gW)"/><circle cx="426.0" cy="458.8" r="1.1" fill="url(#gW)"/><circle cx="428.2" cy="458.8" r="1.1" fill="url(#gW)"/><circle cx="430.5" cy="458.8" r="1.1" fill="url(#gW)"/><circle cx="432.8" cy="458.8" r="1.1" fill="url(#gW)"/><circle cx="439.5" cy="458.8" r="1.1" fill="url(#gW)"/><circle cx="441.8" cy="458.8" r="1.1" fill="url(#gW)"/><circle cx="444.0" cy="458.8" r="1.1" fill="url(#gW)"/><circle cx="446.2" cy="458.8" r="1.1" fill="url(#gW)"/><circle cx="448.5" cy="458.8" r="1.1" fill="url(#gW)"/><circle cx="424.9" cy="460.8" r="1.1" fill="url(#gW)"/><circle cx="427.1" cy="460.8" r="1.1" fill="url(#gW)"/><circle cx="429.4" cy="460.8" r="1.1" fill="url(#gW)"/><circle cx="431.6" cy="460.8" r="1.1" fill="url(#gW)"/><circle cx="433.9" cy="460.8" r="1.1" fill="url(#gW)"/><circle cx="436.1" cy="460.8" r="1.1" fill="url(#gW)"/><circle cx="438.4" cy="460.8" r="1.1" fill="url(#gW)"/><circle cx="440.6" cy="460.8" r="1.1" fill="url(#gW)"/><circle cx="442.9" cy="460.8" r="1.1" fill="url(#gW)"/><circle cx="445.1" cy="460.8" r="1.1" fill="url(#gW)"/><circle cx="428.2" cy="462.7" r="1.1" fill="url(#gW)"/><circle cx="430.5" cy="462.7" r="1.1" fill="url(#gW)"/><circle cx="432.8" cy="462.7" r="1.1" fill="url(#gW)"/><circle cx="435.0" cy="462.7" r="1.1" fill="url(#gW)"/><circle cx="437.2" cy="462.7" r="1.1" fill="url(#gW)"/><circle cx="439.5" cy="462.7" r="1.1" fill="url(#gW)"/><circle cx="441.8" cy="462.7" r="1.1" fill="url(#gW)"/><circle cx="432.8" cy="439.3" r="1.08" fill="url(#gR)"/><circle cx="433.9" cy="429.6" r="1.08" fill="url(#gR)"/><circle cx="426.0" cy="454.9" r="1.08" fill="url(#gR)"/><circle cx="430.5" cy="435.4" r="1.08" fill="url(#gR)"/><circle cx="435.0" cy="458.8" r="1.08" fill="url(#gR)"/><circle cx="442.9" cy="452.9" r="1.08" fill="url(#gR)"/><circle cx="426.0" cy="447.1" r="1.08" fill="url(#gR)"/><circle cx="435.0" cy="443.2" r="1.08" fill="url(#gR)"/><circle cx="428.2" cy="431.5" r="1.08" fill="url(#gR)"/><circle cx="429.4" cy="456.8" r="1.08" fill="url(#gR)"/><circle cx="429.4" cy="437.3" r="1.08" fill="url(#gR)"/><circle cx="431.6" cy="437.3" r="1.08" fill="url(#gR)"/><circle cx="441.8" cy="451.0" r="1.08" fill="url(#gR)"/><circle cx="433.9" cy="437.3" r="1.08" fill="url(#gR)"/><circle cx="440.6" cy="437.3" r="1.08" fill="url(#gR)"/><circle cx="421.5" cy="443.2" r="1.08" fill="url(#gR)"/><circle cx="435.0" cy="451.0" r="1.08" fill="url(#gR)"/><circle cx="430.5" cy="454.9" r="1.08" fill="url(#gR)"/><circle cx="435.0" cy="431.5" r="1.08" fill="url(#gB)"/><circle cx="444.0" cy="435.4" r="1.08" fill="url(#gB)"/><circle cx="444.0" cy="443.2" r="1.08" fill="url(#gB)"/><circle cx="426.0" cy="435.4" r="1.08" fill="url(#gB)"/><circle cx="423.8" cy="451.0" r="1.08" fill="url(#gB)"/><circle cx="420.4" cy="449.1" r="1.08" fill="url(#gB)"/><circle cx="436.1" cy="452.9" r="1.08" fill="url(#gB)"/><circle cx="437.2" cy="447.1" r="1.08" fill="url(#gB)"/><circle cx="428.2" cy="443.2" r="1.08" fill="url(#gB)"/><circle cx="423.8" cy="447.1" r="1.08" fill="url(#gB)"/><circle cx="440.6" cy="456.8" r="1.08" fill="url(#gB)"/><circle cx="441.8" cy="439.3" r="1.08" fill="url(#gB)"/><circle cx="421.5" cy="451.0" r="1.08" fill="url(#gB)"/><circle cx="424.9" cy="433.4" r="1.08" fill="url(#gB)"/><circle cx="419.2" cy="443.2" r="1.08" fill="url(#gB)"/><circle cx="423.8" cy="435.4" r="1.08" fill="url(#gB)"/><circle cx="445.1" cy="452.9" r="1.08" fill="url(#gB)"/><circle cx="430.5" cy="447.1" r="1.08" fill="url(#gB)"/><circle cx="438.4" cy="437.3" r="1.08" fill="url(#gB)"/><circle cx="445.1" cy="449.1" r="1.08" fill="url(#gB)"/><circle cx="422.6" cy="449.1" r="1.08" fill="url(#gB)"/><circle cx="423.8" cy="443.2" r="1.08" fill="url(#gB)"/><circle cx="421.5" cy="447.1" r="1.08" fill="url(#gB)"/><circle cx="449.6" cy="445.1" r="1.08" fill="url(#gB)"/><circle cx="447.4" cy="452.9" r="1.08" fill="url(#gB)"/><circle cx="432.8" cy="431.5" r="1.08" fill="url(#gB)"/><circle cx="442.9" cy="433.4" r="1.08" fill="url(#gB)"/><circle cx="440.6" cy="452.9" r="1.08" fill="url(#gB)"/><circle cx="420.4" cy="445.1" r="1.08" fill="url(#gB)"/><circle cx="435.0" cy="439.3" r="1.08" fill="url(#gB)"/><circle cx="440.6" cy="449.1" r="1.08" fill="url(#gB)"/><circle cx="445.1" cy="437.3" r="1.08" fill="url(#gB)"/><circle cx="423.8" cy="439.3" r="1.08" fill="url(#gB)"/><circle cx="430.5" cy="443.2" r="1.08" fill="url(#gB)"/><circle cx="427.1" cy="441.2" r="1.08" fill="url(#gB)"/><circle cx="424.9" cy="445.1" r="1.08" fill="url(#gB)"/><circle cx="432.8" cy="427.6" r="1.08" fill="url(#gB)"/><circle cx="428.2" cy="454.9" r="1.08" fill="url(#gB)"/><circle cx="427.1" cy="433.4" r="1.08" fill="url(#gB)"/><circle cx="448.5" cy="443.2" r="1.08" fill="url(#gB)"/><circle cx="439.5" cy="435.4" r="1.08" fill="url(#gB)"/><circle cx="439.5" cy="439.3" r="1.08" fill="url(#gB)"/><circle cx="439.5" cy="431.5" r="1.08" fill="url(#gB)"/><circle cx="440.6" cy="445.1" r="1.08" fill="url(#gB)"/><circle cx="442.9" cy="449.1" r="1.08" fill="url(#gB)"/><circle cx="446.2" cy="447.1" r="1.08" fill="url(#gB)"/><circle cx="433.9" cy="433.4" r="1.08" fill="url(#gB)"/><circle cx="431.6" cy="445.1" r="1.08" fill="url(#gB)"/><circle cx="423.8" cy="431.5" r="1.08" fill="url(#gB)"/><circle cx="438.4" cy="445.1" r="1.08" fill="url(#gB)"/><circle cx="422.6" cy="433.4" r="1.08" fill="url(#gB)"/><circle cx="441.8" cy="443.2" r="1.08" fill="url(#gB)"/><circle cx="445.1" cy="445.1" r="1.08" fill="url(#gB)"/><circle cx="433.9" cy="449.1" r="1.08" fill="url(#gB)"/><circle cx="429.4" cy="429.6" r="1.08" fill="url(#gB)"/><circle cx="437.2" cy="443.2" r="1.08" fill="url(#gB)"/><circle cx="435.0" cy="435.4" r="1.08" fill="url(#gB)"/><circle cx="432.8" cy="451.0" r="1.08" fill="url(#gB)"/><circle cx="444.0" cy="451.0" r="1.08" fill="url(#gB)"/><circle cx="439.5" cy="447.1" r="1.08" fill="url(#gB)"/><circle cx="431.6" cy="429.6" r="1.08" fill="url(#gB)"/><circle cx="426.0" cy="439.3" r="1.08" fill="url(#gB)"/><circle cx="437.2" cy="435.4" r="1.08" fill="url(#gB)"/><circle cx="428.2" cy="451.0" r="1.08" fill="url(#gB)"/><circle cx="431.6" cy="452.9" r="1.08" fill="url(#gB)"/><circle cx="439.5" cy="454.9" r="1.08" fill="url(#gB)"/><circle cx="421.5" cy="435.4" r="1.08" fill="url(#gB)"/><circle cx="440.6" cy="441.2" r="1.08" fill="url(#gB)"/><circle cx="432.8" cy="454.9" r="1.08" fill="url(#gB)"/><circle cx="438.4" cy="456.8" r="1.08" fill="url(#gB)"/><circle cx="445.1" cy="433.4" r="1.08" fill="url(#gB)"/><circle cx="440.6" cy="429.6" r="1.08" fill="url(#gB)"/><circle cx="430.5" cy="431.5" r="1.08" fill="url(#gB)"/><circle cx="450.8" cy="443.2" r="1.08" fill="url(#gB)"/><circle cx="435.0" cy="454.9" r="1.08" fill="url(#gB)"/><circle cx="430.5" cy="451.0" r="1.08" fill="url(#gB)"/><circle cx="448.5" cy="447.1" r="1.08" fill="url(#gB)"/><circle cx="427.1" cy="449.1" r="1.08" fill="url(#gB)"/><circle cx="433.9" cy="441.2" r="1.08" fill="url(#gB)"/><circle cx="424.9" cy="452.9" r="1.08" fill="url(#gB)"/><circle cx="449.6" cy="437.3" r="1.08" fill="url(#gB)"/><circle cx="437.2" cy="451.0" r="1.08" fill="url(#gB)"/><circle cx="431.6" cy="456.8" r="1.08" fill="url(#gB)"/><circle cx="432.8" cy="447.1" r="1.08" fill="url(#gB)"/><circle cx="437.2" cy="454.9" r="1.08" fill="url(#gB)"/><circle cx="435.0" cy="447.1" r="1.08" fill="url(#gB)"/><circle cx="447.4" cy="441.2" r="1.08" fill="url(#gB)"/><circle cx="436.1" cy="449.1" r="1.08" fill="url(#gB)"/><circle cx="442.9" cy="437.3" r="1.08" fill="url(#gB)"/><circle cx="442.9" cy="429.6" r="1.08" fill="url(#gB)"/><circle cx="436.1" cy="433.4" r="1.08" fill="url(#gB)"/><circle cx="446.2" cy="451.0" r="1.08" fill="url(#gB)"/><circle cx="444.0" cy="431.5" r="1.08" fill="url(#gB)"/><circle cx="422.6" cy="437.3" r="1.08" fill="url(#gB)"/><circle cx="432.8" cy="443.2" r="1.08" fill="url(#gB)"/><circle cx="437.2" cy="458.8" r="1.08" fill="url(#gB)"/><circle cx="449.6" cy="441.2" r="1.08" fill="url(#gB)"/><circle cx="448.5" cy="439.3" r="1.08" fill="url(#gB)"/><circle cx="438.4" cy="452.9" r="1.08" fill="url(#gB)"/><circle cx="432.8" cy="435.4" r="1.08" fill="url(#gB)"/><circle cx="445.1" cy="441.2" r="1.08" fill="url(#gB)"/><circle cx="424.9" cy="449.1" r="1.08" fill="url(#gB)"/><circle cx="436.1" cy="456.8" r="1.08" fill="url(#gB)"/><circle cx="426.0" cy="431.5" r="1.08" fill="url(#gB)"/><circle cx="427.1" cy="456.8" r="1.08" fill="url(#gB)"/><circle cx="446.2" cy="454.9" r="1.08" fill="url(#gB)"/><circle cx="433.9" cy="445.1" r="1.08" fill="url(#gB)"/><circle cx="428.2" cy="435.4" r="1.08" fill="url(#gB)"/><circle cx="433.9" cy="456.8" r="1.08" fill="url(#gB)"/><circle cx="428.2" cy="439.3" r="1.08" fill="url(#gB)"/><circle cx="446.2" cy="435.4" r="1.08" fill="url(#gB)"/><circle cx="428.2" cy="447.1" r="1.08" fill="url(#gB)"/><circle cx="447.4" cy="445.1" r="1.08" fill="url(#gB)"/><circle cx="429.4" cy="441.2" r="1.08" fill="url(#gB)"/><circle cx="442.9" cy="445.1" r="1.08" fill="url(#gB)"/><circle cx="436.1" cy="445.1" r="1.08" fill="url(#gB)"/><circle cx="433.9" cy="452.9" r="1.08" fill="url(#gB)"/><circle cx="431.6" cy="449.1" r="1.08" fill="url(#gB)"/><circle cx="429.4" cy="452.9" r="1.08" fill="url(#gB)"/><circle cx="427.1" cy="452.9" r="1.08" fill="url(#gB)"/><circle cx="435.0" cy="427.6" r="1.08" fill="url(#gB)"/><circle cx="436.1" cy="441.2" r="1.08" fill="url(#gB)"/><circle cx="444.0" cy="454.9" r="1.08" fill="url(#gB)"/><circle cx="448.5" cy="451.0" r="1.08" fill="url(#gB)"/><circle cx="424.9" cy="441.2" r="1.08" fill="url(#gB)"/><circle cx="441.8" cy="447.1" r="1.08" fill="url(#gB)"/><circle cx="439.5" cy="451.0" r="1.08" fill="url(#gB)"/><circle cx="427.1" cy="437.3" r="1.08" fill="url(#gB)"/><circle cx="437.2" cy="439.3" r="1.08" fill="url(#gB)"/><circle cx="429.4" cy="449.1" r="1.08" fill="url(#gB)"/><circle cx="422.6" cy="445.1" r="1.08" fill="url(#gB)"/><circle cx="426.0" cy="443.2" r="1.08" fill="url(#gB)"/><circle cx="429.4" cy="433.4" r="1.08" fill="url(#gB)"/><circle cx="446.2" cy="443.2" r="1.08" fill="url(#gB)"/><circle cx="441.8" cy="454.9" r="1.08" fill="url(#gB)"/><circle cx="442.9" cy="441.2" r="1.08" fill="url(#gB)"/><circle cx="448.5" cy="435.4" r="1.08" fill="url(#gB)"/><circle cx="436.1" cy="437.3" r="1.08" fill="url(#gB)"/><circle cx="420.4" cy="441.2" r="1.08" fill="url(#gB)"/><circle cx="444.0" cy="439.3" r="1.08" fill="url(#gB)"/><circle cx="438.4" cy="429.6" r="1.08" fill="url(#gB)"/><circle cx="447.4" cy="437.3" r="1.08" fill="url(#gB)"/><circle cx="446.2" cy="439.3" r="1.08" fill="url(#gB)"/><circle cx="440.6" cy="433.4" r="1.08" fill="url(#gB)"/><circle cx="424.9" cy="437.3" r="1.08" fill="url(#gB)"/><circle cx="422.6" cy="441.2" r="1.08" fill="url(#gB)"/><circle cx="439.5" cy="443.2" r="1.08" fill="url(#gB)"/><circle cx="447.4" cy="449.1" r="1.08" fill="url(#gB)"/><circle cx="438.4" cy="449.1" r="1.08" fill="url(#gB)"/><circle cx="421.5" cy="439.3" r="1.08" fill="url(#gB)"/><circle cx="437.2" cy="431.5" r="1.08" fill="url(#gB)"/><circle cx="431.6" cy="441.2" r="1.08" fill="url(#gB)"/><circle cx="426.0" cy="451.0" r="1.08" fill="url(#gB)"/><circle cx="429.4" cy="445.1" r="1.08" fill="url(#gB)"/><circle cx="436.1" cy="429.6" r="1.08" fill="url(#gB)"/><circle cx="441.8" cy="431.5" r="1.08" fill="url(#gB)"/><circle cx="431.6" cy="433.4" r="1.08" fill="url(#gB)"/><circle cx="441.8" cy="435.4" r="1.08" fill="url(#gB)"/><circle cx="444.0" cy="447.1" r="1.08" fill="url(#gB)"/><circle cx="427.1" cy="445.1" r="1.08" fill="url(#gB)"/><circle cx="438.4" cy="433.4" r="1.08" fill="url(#gB)"/><circle cx="438.4" cy="441.2" r="1.08" fill="url(#gB)"/><circle cx="430.5" cy="439.3" r="1.08" fill="url(#gB)"/></g></g>
<g><polygon points="451.8,510.3 442.9,518.3 431.0,519.6 420.6,513.6 415.7,502.6 418.2,490.9 427.1,482.9 439.0,481.6 449.4,487.6 454.3,498.6" fill="#181828"/><clipPath id="npc435500"><polygon points="451.8,510.3 442.9,518.3 431.0,519.6 420.6,513.6 415.7,502.6 418.2,490.9 427.1,482.9 439.0,481.6 449.4,487.6 454.3,498.6"/></clipPath><g clip-path="url(#npc435500)"><circle cx="428.2" cy="481.1" r="1.1" fill="url(#gW)"/><circle cx="430.5" cy="481.1" r="1.1" fill="url(#gW)"/><circle cx="432.8" cy="481.1" r="1.1" fill="url(#gW)"/><circle cx="435.0" cy="481.1" r="1.1" fill="url(#gW)"/><circle cx="437.2" cy="481.1" r="1.1" fill="url(#gW)"/><circle cx="439.5" cy="481.1" r="1.1" fill="url(#gW)"/><circle cx="441.8" cy="481.1" r="1.1" fill="url(#gW)"/><circle cx="424.9" cy="483.1" r="1.1" fill="url(#gW)"/><circle cx="427.1" cy="483.1" r="1.1" fill="url(#gW)"/><circle cx="429.4" cy="483.1" r="1.1" fill="url(#gW)"/><circle cx="431.6" cy="483.1" r="1.1" fill="url(#gW)"/><circle cx="433.9" cy="483.1" r="1.1" fill="url(#gW)"/><circle cx="436.1" cy="483.1" r="1.1" fill="url(#gW)"/><circle cx="438.4" cy="483.1" r="1.1" fill="url(#gW)"/><circle cx="440.6" cy="483.1" r="1.1" fill="url(#gW)"/><circle cx="442.9" cy="483.1" r="1.1" fill="url(#gW)"/><circle cx="445.1" cy="483.1" r="1.1" fill="url(#gW)"/><circle cx="421.5" cy="485.0" r="1.1" fill="url(#gW)"/><circle cx="423.8" cy="485.0" r="1.1" fill="url(#gW)"/><circle cx="426.0" cy="485.0" r="1.1" fill="url(#gW)"/><circle cx="428.2" cy="485.0" r="1.1" fill="url(#gW)"/><circle cx="430.5" cy="485.0" r="1.1" fill="url(#gW)"/><circle cx="432.8" cy="485.0" r="1.1" fill="url(#gW)"/><circle cx="439.5" cy="485.0" r="1.1" fill="url(#gW)"/><circle cx="441.8" cy="485.0" r="1.1" fill="url(#gW)"/><circle cx="444.0" cy="485.0" r="1.1" fill="url(#gW)"/><circle cx="446.2" cy="485.0" r="1.1" fill="url(#gW)"/><circle cx="448.5" cy="485.0" r="1.1" fill="url(#gW)"/><circle cx="420.4" cy="487.0" r="1.1" fill="url(#gW)"/><circle cx="422.6" cy="487.0" r="1.1" fill="url(#gW)"/><circle cx="424.9" cy="487.0" r="1.1" fill="url(#gW)"/><circle cx="442.9" cy="487.0" r="1.1" fill="url(#gW)"/><circle cx="445.1" cy="487.0" r="1.1" fill="url(#gW)"/><circle cx="447.4" cy="487.0" r="1.1" fill="url(#gW)"/><circle cx="449.6" cy="487.0" r="1.1" fill="url(#gW)"/><circle cx="419.2" cy="488.9" r="1.1" fill="url(#gW)"/><circle cx="421.5" cy="488.9" r="1.1" fill="url(#gW)"/><circle cx="423.8" cy="488.9" r="1.1" fill="url(#gW)"/><circle cx="446.2" cy="488.9" r="1.1" fill="url(#gW)"/><circle cx="448.5" cy="488.9" r="1.1" fill="url(#gW)"/><circle cx="450.8" cy="488.9" r="1.1" fill="url(#gW)"/><circle cx="418.1" cy="490.9" r="1.1" fill="url(#gW)"/><circle cx="420.4" cy="490.9" r="1.1" fill="url(#gW)"/><circle cx="449.6" cy="490.9" r="1.1" fill="url(#gW)"/><circle cx="451.9" cy="490.9" r="1.1" fill="url(#gW)"/><circle cx="417.0" cy="492.8" r="1.1" fill="url(#gW)"/><circle cx="419.2" cy="492.8" r="1.1" fill="url(#gW)"/><circle cx="450.8" cy="492.8" r="1.1" fill="url(#gW)"/><circle cx="453.0" cy="492.8" r="1.1" fill="url(#gW)"/><circle cx="415.9" cy="494.8" r="1.1" fill="url(#gW)"/><circle cx="418.1" cy="494.8" r="1.1" fill="url(#gW)"/><circle cx="449.6" cy="494.8" r="1.1" fill="url(#gW)"/><circle cx="451.9" cy="494.8" r="1.1" fill="url(#gW)"/><circle cx="454.1" cy="494.8" r="1.1" fill="url(#gW)"/><circle cx="414.8" cy="496.7" r="1.1" fill="url(#gW)"/><circle cx="417.0" cy="496.7" r="1.1" fill="url(#gW)"/><circle cx="419.2" cy="496.7" r="1.1" fill="url(#gW)"/><circle cx="450.8" cy="496.7" r="1.1" fill="url(#gW)"/><circle cx="453.0" cy="496.7" r="1.1" fill="url(#gW)"/><circle cx="455.2" cy="496.7" r="1.1" fill="url(#gW)"/><circle cx="415.9" cy="498.7" r="1.1" fill="url(#gW)"/><circle cx="418.1" cy="498.7" r="1.1" fill="url(#gW)"/><circle cx="451.9" cy="498.7" r="1.1" fill="url(#gW)"/><circle cx="454.1" cy="498.7" r="1.1" fill="url(#gW)"/><circle cx="414.8" cy="500.6" r="1.1" fill="url(#gW)"/><circle cx="417.0" cy="500.6" r="1.1" fill="url(#gW)"/><circle cx="453.0" cy="500.6" r="1.1" fill="url(#gW)"/><circle cx="455.2" cy="500.6" r="1.1" fill="url(#gW)"/><circle cx="415.9" cy="502.6" r="1.1" fill="url(#gW)"/><circle cx="418.1" cy="502.6" r="1.1" fill="url(#gW)"/><circle cx="451.9" cy="502.6" r="1.1" fill="url(#gW)"/><circle cx="454.1" cy="502.6" r="1.1" fill="url(#gW)"/><circle cx="414.8" cy="504.5" r="1.1" fill="url(#gW)"/><circle cx="417.0" cy="504.5" r="1.1" fill="url(#gW)"/><circle cx="419.2" cy="504.5" r="1.1" fill="url(#gW)"/><circle cx="450.8" cy="504.5" r="1.1" fill="url(#gW)"/><circle cx="453.0" cy="504.5" r="1.1" fill="url(#gW)"/><circle cx="455.2" cy="504.5" r="1.1" fill="url(#gW)"/><circle cx="415.9" cy="506.5" r="1.1" fill="url(#gW)"/><circle cx="418.1" cy="506.5" r="1.1" fill="url(#gW)"/><circle cx="420.4" cy="506.5" r="1.1" fill="url(#gW)"/><circle cx="451.9" cy="506.5" r="1.1" fill="url(#gW)"/><circle cx="454.1" cy="506.5" r="1.1" fill="url(#gW)"/><circle cx="417.0" cy="508.4" r="1.1" fill="url(#gW)"/><circle cx="419.2" cy="508.4" r="1.1" fill="url(#gW)"/><circle cx="450.8" cy="508.4" r="1.1" fill="url(#gW)"/><circle cx="453.0" cy="508.4" r="1.1" fill="url(#gW)"/><circle cx="418.1" cy="510.4" r="1.1" fill="url(#gW)"/><circle cx="420.4" cy="510.4" r="1.1" fill="url(#gW)"/><circle cx="449.6" cy="510.4" r="1.1" fill="url(#gW)"/><circle cx="451.9" cy="510.4" r="1.1" fill="url(#gW)"/><circle cx="419.2" cy="512.3" r="1.1" fill="url(#gW)"/><circle cx="421.5" cy="512.3" r="1.1" fill="url(#gW)"/><circle cx="423.8" cy="512.3" r="1.1" fill="url(#gW)"/><circle cx="446.2" cy="512.3" r="1.1" fill="url(#gW)"/><circle cx="448.5" cy="512.3" r="1.1" fill="url(#gW)"/><circle cx="450.8" cy="512.3" r="1.1" fill="url(#gW)"/><circle cx="420.4" cy="514.2" r="1.1" fill="url(#gW)"/><circle cx="422.6" cy="514.2" r="1.1" fill="url(#gW)"/><circle cx="424.9" cy="514.2" r="1.1" fill="url(#gW)"/><circle cx="427.1" cy="514.2" r="1.1" fill="url(#gW)"/><circle cx="445.1" cy="514.2" r="1.1" fill="url(#gW)"/><circle cx="447.4" cy="514.2" r="1.1" fill="url(#gW)"/><circle cx="449.6" cy="514.2" r="1.1" fill="url(#gW)"/><circle cx="421.5" cy="516.2" r="1.1" fill="url(#gW)"/><circle cx="423.8" cy="516.2" r="1.1" fill="url(#gW)"/><circle cx="426.0" cy="516.2" r="1.1" fill="url(#gW)"/><circle cx="428.2" cy="516.2" r="1.1" fill="url(#gW)"/><circle cx="430.5" cy="516.2" r="1.1" fill="url(#gW)"/><circle cx="437.2" cy="516.2" r="1.1" fill="url(#gW)"/><circle cx="439.5" cy="516.2" r="1.1" fill="url(#gW)"/><circle cx="441.8" cy="516.2" r="1.1" fill="url(#gW)"/><circle cx="444.0" cy="516.2" r="1.1" fill="url(#gW)"/><circle cx="446.2" cy="516.2" r="1.1" fill="url(#gW)"/><circle cx="448.5" cy="516.2" r="1.1" fill="url(#gW)"/><circle cx="424.9" cy="518.1" r="1.1" fill="url(#gW)"/><circle cx="427.1" cy="518.1" r="1.1" fill="url(#gW)"/><circle cx="429.4" cy="518.1" r="1.1" fill="url(#gW)"/><circle cx="431.6" cy="518.1" r="1.1" fill="url(#gW)"/><circle cx="433.9" cy="518.1" r="1.1" fill="url(#gW)"/><circle cx="436.1" cy="518.1" r="1.1" fill="url(#gW)"/><circle cx="438.4" cy="518.1" r="1.1" fill="url(#gW)"/><circle cx="440.6" cy="518.1" r="1.1" fill="url(#gW)"/><circle cx="442.9" cy="518.1" r="1.1" fill="url(#gW)"/><circle cx="445.1" cy="518.1" r="1.1" fill="url(#gW)"/><circle cx="428.2" cy="520.1" r="1.1" fill="url(#gW)"/><circle cx="430.5" cy="520.1" r="1.1" fill="url(#gW)"/><circle cx="432.8" cy="520.1" r="1.1" fill="url(#gW)"/><circle cx="435.0" cy="520.1" r="1.1" fill="url(#gW)"/><circle cx="437.2" cy="520.1" r="1.1" fill="url(#gW)"/><circle cx="439.5" cy="520.1" r="1.1" fill="url(#gW)"/><circle cx="441.8" cy="520.1" r="1.1" fill="url(#gW)"/><circle cx="437.2" cy="488.9" r="1.08" fill="url(#gR)"/><circle cx="435.0" cy="492.8" r="1.08" fill="url(#gR)"/><circle cx="421.5" cy="504.5" r="1.08" fill="url(#gR)"/><circle cx="432.8" cy="488.9" r="1.08" fill="url(#gR)"/><circle cx="428.2" cy="504.5" r="1.08" fill="url(#gR)"/><circle cx="436.1" cy="490.9" r="1.08" fill="url(#gR)"/><circle cx="442.9" cy="514.2" r="1.08" fill="url(#gR)"/><circle cx="444.0" cy="508.4" r="1.08" fill="url(#gR)"/><circle cx="437.2" cy="512.3" r="1.08" fill="url(#gR)"/><circle cx="429.4" cy="502.6" r="1.08" fill="url(#gR)"/><circle cx="419.2" cy="500.6" r="1.08" fill="url(#gR)"/><circle cx="442.9" cy="510.4" r="1.08" fill="url(#gR)"/><circle cx="442.9" cy="490.9" r="1.08" fill="url(#gR)"/><circle cx="444.0" cy="488.9" r="1.08" fill="url(#gR)"/><circle cx="444.0" cy="512.3" r="1.08" fill="url(#gR)"/><circle cx="429.4" cy="498.7" r="1.08" fill="url(#gR)"/><circle cx="445.1" cy="494.8" r="1.08" fill="url(#gR)"/><circle cx="429.4" cy="490.9" r="1.08" fill="url(#gR)"/><circle cx="445.1" cy="502.6" r="1.08" fill="url(#gR)"/><circle cx="444.0" cy="504.5" r="1.08" fill="url(#gR)"/><circle cx="441.8" cy="504.5" r="1.08" fill="url(#gR)"/><circle cx="421.5" cy="496.7" r="1.08" fill="url(#gR)"/><circle cx="433.9" cy="494.8" r="1.08" fill="url(#gR)"/><circle cx="440.6" cy="498.7" r="1.08" fill="url(#gR)"/><circle cx="428.2" cy="500.6" r="1.08" fill="url(#gR)"/><circle cx="427.1" cy="498.7" r="1.08" fill="url(#gR)"/><circle cx="436.1" cy="487.0" r="1.08" fill="url(#gR)"/><circle cx="446.2" cy="492.8" r="1.08" fill="url(#gR)"/><circle cx="435.0" cy="504.5" r="1.08" fill="url(#gR)"/><circle cx="422.6" cy="506.5" r="1.08" fill="url(#gR)"/><circle cx="444.0" cy="500.6" r="1.08" fill="url(#gR)"/><circle cx="449.6" cy="502.6" r="1.08" fill="url(#gR)"/><circle cx="436.1" cy="506.5" r="1.08" fill="url(#gR)"/><circle cx="436.1" cy="514.2" r="1.08" fill="url(#gR)"/><circle cx="420.4" cy="498.7" r="1.08" fill="url(#gR)"/><circle cx="447.4" cy="490.9" r="1.08" fill="url(#gR)"/><circle cx="441.8" cy="488.9" r="1.08" fill="url(#gR)"/><circle cx="431.6" cy="502.6" r="1.08" fill="url(#gR)"/><circle cx="421.5" cy="500.6" r="1.08" fill="url(#gR)"/><circle cx="448.5" cy="500.6" r="1.08" fill="url(#gR)"/><circle cx="423.8" cy="500.6" r="1.08" fill="url(#gR)"/><circle cx="436.1" cy="502.6" r="1.08" fill="url(#gR)"/><circle cx="448.5" cy="504.5" r="1.08" fill="url(#gB)"/><circle cx="449.6" cy="506.5" r="1.08" fill="url(#gB)"/><circle cx="435.0" cy="516.2" r="1.08" fill="url(#gB)"/><circle cx="428.2" cy="488.9" r="1.08" fill="url(#gB)"/><circle cx="421.5" cy="492.8" r="1.08" fill="url(#gB)"/><circle cx="433.9" cy="510.4" r="1.08" fill="url(#gB)"/><circle cx="433.9" cy="506.5" r="1.08" fill="url(#gB)"/><circle cx="444.0" cy="496.7" r="1.08" fill="url(#gB)"/><circle cx="426.0" cy="488.9" r="1.08" fill="url(#gB)"/><circle cx="442.9" cy="502.6" r="1.08" fill="url(#gB)"/><circle cx="435.0" cy="496.7" r="1.08" fill="url(#gB)"/><circle cx="428.2" cy="512.3" r="1.08" fill="url(#gB)"/><circle cx="429.4" cy="510.4" r="1.08" fill="url(#gB)"/><circle cx="426.0" cy="496.7" r="1.08" fill="url(#gB)"/><circle cx="427.1" cy="490.9" r="1.08" fill="url(#gB)"/><circle cx="439.5" cy="496.7" r="1.08" fill="url(#gB)"/><circle cx="424.9" cy="490.9" r="1.08" fill="url(#gB)"/><circle cx="430.5" cy="500.6" r="1.08" fill="url(#gB)"/><circle cx="430.5" cy="492.8" r="1.08" fill="url(#gB)"/><circle cx="447.4" cy="498.7" r="1.08" fill="url(#gB)"/><circle cx="431.6" cy="514.2" r="1.08" fill="url(#gB)"/><circle cx="422.6" cy="510.4" r="1.08" fill="url(#gB)"/><circle cx="448.5" cy="496.7" r="1.08" fill="url(#gB)"/><circle cx="424.9" cy="510.4" r="1.08" fill="url(#gB)"/><circle cx="441.8" cy="500.6" r="1.08" fill="url(#gB)"/><circle cx="426.0" cy="508.4" r="1.08" fill="url(#gB)"/><circle cx="430.5" cy="504.5" r="1.08" fill="url(#gB)"/><circle cx="447.4" cy="510.4" r="1.08" fill="url(#gB)"/><circle cx="430.5" cy="488.9" r="1.08" fill="url(#gB)"/><circle cx="435.0" cy="508.4" r="1.08" fill="url(#gB)"/><circle cx="431.6" cy="487.0" r="1.08" fill="url(#gB)"/><circle cx="429.4" cy="506.5" r="1.08" fill="url(#gB)"/><circle cx="429.4" cy="494.8" r="1.08" fill="url(#gB)"/><circle cx="441.8" cy="512.3" r="1.08" fill="url(#gB)"/><circle cx="449.6" cy="498.7" r="1.08" fill="url(#gB)"/><circle cx="427.1" cy="502.6" r="1.08" fill="url(#gB)"/><circle cx="427.1" cy="506.5" r="1.08" fill="url(#gB)"/><circle cx="442.9" cy="506.5" r="1.08" fill="url(#gB)"/><circle cx="432.8" cy="516.2" r="1.08" fill="url(#gB)"/><circle cx="422.6" cy="494.8" r="1.08" fill="url(#gB)"/><circle cx="428.2" cy="496.7" r="1.08" fill="url(#gB)"/><circle cx="423.8" cy="492.8" r="1.08" fill="url(#gB)"/><circle cx="439.5" cy="488.9" r="1.08" fill="url(#gB)"/><circle cx="438.4" cy="490.9" r="1.08" fill="url(#gB)"/><circle cx="442.9" cy="498.7" r="1.08" fill="url(#gB)"/><circle cx="440.6" cy="502.6" r="1.08" fill="url(#gB)"/><circle cx="438.4" cy="506.5" r="1.08" fill="url(#gB)"/><circle cx="423.8" cy="496.7" r="1.08" fill="url(#gB)"/><circle cx="445.1" cy="510.4" r="1.08" fill="url(#gB)"/><circle cx="428.2" cy="508.4" r="1.08" fill="url(#gB)"/><circle cx="431.6" cy="494.8" r="1.08" fill="url(#gB)"/><circle cx="447.4" cy="506.5" r="1.08" fill="url(#gB)"/><circle cx="437.2" cy="508.4" r="1.08" fill="url(#gB)"/><circle cx="422.6" cy="498.7" r="1.08" fill="url(#gB)"/><circle cx="424.9" cy="502.6" r="1.08" fill="url(#gB)"/><circle cx="438.4" cy="494.8" r="1.08" fill="url(#gB)"/><circle cx="448.5" cy="508.4" r="1.08" fill="url(#gB)"/><circle cx="435.0" cy="512.3" r="1.08" fill="url(#gB)"/><circle cx="427.1" cy="487.0" r="1.08" fill="url(#gB)"/><circle cx="446.2" cy="508.4" r="1.08" fill="url(#gB)"/><circle cx="433.9" cy="514.2" r="1.08" fill="url(#gB)"/><circle cx="431.6" cy="490.9" r="1.08" fill="url(#gB)"/><circle cx="432.8" cy="504.5" r="1.08" fill="url(#gB)"/><circle cx="430.5" cy="496.7" r="1.08" fill="url(#gB)"/><circle cx="447.4" cy="502.6" r="1.08" fill="url(#gB)"/><circle cx="433.9" cy="490.9" r="1.08" fill="url(#gB)"/><circle cx="427.1" cy="510.4" r="1.08" fill="url(#gB)"/><circle cx="432.8" cy="500.6" r="1.08" fill="url(#gB)"/><circle cx="432.8" cy="496.7" r="1.08" fill="url(#gB)"/><circle cx="426.0" cy="504.5" r="1.08" fill="url(#gB)"/><circle cx="446.2" cy="504.5" r="1.08" fill="url(#gB)"/><circle cx="424.9" cy="494.8" r="1.08" fill="url(#gB)"/><circle cx="441.8" cy="492.8" r="1.08" fill="url(#gB)"/><circle cx="424.9" cy="506.5" r="1.08" fill="url(#gB)"/><circle cx="420.4" cy="494.8" r="1.08" fill="url(#gB)"/><circle cx="435.0" cy="500.6" r="1.08" fill="url(#gB)"/><circle cx="426.0" cy="500.6" r="1.08" fill="url(#gB)"/><circle cx="440.6" cy="506.5" r="1.08" fill="url(#gB)"/><circle cx="441.8" cy="508.4" r="1.08" fill="url(#gB)"/><circle cx="433.9" cy="498.7" r="1.08" fill="url(#gB)"/><circle cx="438.4" cy="498.7" r="1.08" fill="url(#gB)"/><circle cx="436.1" cy="510.4" r="1.08" fill="url(#gB)"/><circle cx="439.5" cy="492.8" r="1.08" fill="url(#gB)"/><circle cx="431.6" cy="506.5" r="1.08" fill="url(#gB)"/><circle cx="440.6" cy="487.0" r="1.08" fill="url(#gB)"/><circle cx="446.2" cy="496.7" r="1.08" fill="url(#gB)"/><circle cx="437.2" cy="492.8" r="1.08" fill="url(#gB)"/><circle cx="430.5" cy="508.4" r="1.08" fill="url(#gB)"/><circle cx="438.4" cy="502.6" r="1.08" fill="url(#gB)"/><circle cx="439.5" cy="500.6" r="1.08" fill="url(#gB)"/><circle cx="433.9" cy="487.0" r="1.08" fill="url(#gB)"/><circle cx="436.1" cy="498.7" r="1.08" fill="url(#gB)"/><circle cx="420.4" cy="502.6" r="1.08" fill="url(#gB)"/><circle cx="426.0" cy="512.3" r="1.08" fill="url(#gB)"/><circle cx="431.6" cy="510.4" r="1.08" fill="url(#gB)"/><circle cx="440.6" cy="494.8" r="1.08" fill="url(#gB)"/><circle cx="421.5" cy="508.4" r="1.08" fill="url(#gB)"/><circle cx="436.1" cy="494.8" r="1.08" fill="url(#gB)"/><circle cx="445.1" cy="498.7" r="1.08" fill="url(#gB)"/><circle cx="431.6" cy="498.7" r="1.08" fill="url(#gB)"/><circle cx="432.8" cy="508.4" r="1.08" fill="url(#gB)"/><circle cx="448.5" cy="492.8" r="1.08" fill="url(#gB)"/><circle cx="438.4" cy="510.4" r="1.08" fill="url(#gB)"/><circle cx="442.9" cy="494.8" r="1.08" fill="url(#gB)"/><circle cx="437.2" cy="485.0" r="1.08" fill="url(#gB)"/><circle cx="435.0" cy="485.0" r="1.08" fill="url(#gB)"/><circle cx="428.2" cy="492.8" r="1.08" fill="url(#gB)"/><circle cx="426.0" cy="492.8" r="1.08" fill="url(#gB)"/><circle cx="423.8" cy="504.5" r="1.08" fill="url(#gB)"/><circle cx="432.8" cy="492.8" r="1.08" fill="url(#gB)"/><circle cx="422.6" cy="490.9" r="1.08" fill="url(#gB)"/><circle cx="439.5" cy="512.3" r="1.08" fill="url(#gB)"/><circle cx="422.6" cy="502.6" r="1.08" fill="url(#gB)"/><circle cx="427.1" cy="494.8" r="1.08" fill="url(#gB)"/><circle cx="424.9" cy="498.7" r="1.08" fill="url(#gB)"/><circle cx="433.9" cy="502.6" r="1.08" fill="url(#gB)"/><circle cx="447.4" cy="494.8" r="1.08" fill="url(#gB)"/><circle cx="429.4" cy="487.0" r="1.08" fill="url(#gB)"/><circle cx="430.5" cy="512.3" r="1.08" fill="url(#gB)"/><circle cx="439.5" cy="508.4" r="1.08" fill="url(#gB)"/><circle cx="440.6" cy="490.9" r="1.08" fill="url(#gB)"/><circle cx="423.8" cy="508.4" r="1.08" fill="url(#gB)"/><circle cx="450.8" cy="500.6" r="1.08" fill="url(#gB)"/><circle cx="429.4" cy="514.2" r="1.08" fill="url(#gB)"/><circle cx="439.5" cy="504.5" r="1.08" fill="url(#gB)"/><circle cx="446.2" cy="500.6" r="1.08" fill="url(#gB)"/><circle cx="445.1" cy="490.9" r="1.08" fill="url(#gB)"/><circle cx="444.0" cy="492.8" r="1.08" fill="url(#gB)"/><circle cx="435.0" cy="488.9" r="1.08" fill="url(#gB)"/><circle cx="440.6" cy="514.2" r="1.08" fill="url(#gB)"/><circle cx="437.2" cy="496.7" r="1.08" fill="url(#gB)"/><circle cx="437.2" cy="504.5" r="1.08" fill="url(#gB)"/><circle cx="438.4" cy="487.0" r="1.08" fill="url(#gB)"/><circle cx="445.1" cy="506.5" r="1.08" fill="url(#gB)"/><circle cx="432.8" cy="512.3" r="1.08" fill="url(#gB)"/><circle cx="438.4" cy="514.2" r="1.08" fill="url(#gB)"/><circle cx="437.2" cy="500.6" r="1.08" fill="url(#gB)"/><circle cx="441.8" cy="496.7" r="1.08" fill="url(#gB)"/><circle cx="440.6" cy="510.4" r="1.08" fill="url(#gB)"/></g></g>
<g><polygon points="447.2,571.6 436.0,576.2 424.2,573.2 416.4,563.9 415.6,551.9 422.0,541.6 433.2,537.0 445.0,540.0 452.8,549.3 453.6,561.3" fill="#181828"/><clipPath id="npc434556"><polygon points="447.2,571.6 436.0,576.2 424.2,573.2 416.4,563.9 415.6,551.9 422.0,541.6 433.2,537.0 445.0,540.0 452.8,549.3 453.6,561.3"/></clipPath><g clip-path="url(#npc434556)"><circle cx="433.5" cy="535.1" r="1.1" fill="url(#gW)"/><circle cx="435.7" cy="535.1" r="1.1" fill="url(#gW)"/><circle cx="425.6" cy="537.1" r="1.1" fill="url(#gW)"/><circle cx="427.9" cy="537.1" r="1.1" fill="url(#gW)"/><circle cx="430.1" cy="537.1" r="1.1" fill="url(#gW)"/><circle cx="432.4" cy="537.1" r="1.1" fill="url(#gW)"/><circle cx="434.6" cy="537.1" r="1.1" fill="url(#gW)"/><circle cx="436.9" cy="537.1" r="1.1" fill="url(#gW)"/><circle cx="439.1" cy="537.1" r="1.1" fill="url(#gW)"/><circle cx="441.4" cy="537.1" r="1.1" fill="url(#gW)"/><circle cx="443.6" cy="537.1" r="1.1" fill="url(#gW)"/><circle cx="422.2" cy="539.1" r="1.1" fill="url(#gW)"/><circle cx="424.5" cy="539.1" r="1.1" fill="url(#gW)"/><circle cx="426.7" cy="539.1" r="1.1" fill="url(#gW)"/><circle cx="429.0" cy="539.1" r="1.1" fill="url(#gW)"/><circle cx="431.2" cy="539.1" r="1.1" fill="url(#gW)"/><circle cx="433.5" cy="539.1" r="1.1" fill="url(#gW)"/><circle cx="435.7" cy="539.1" r="1.1" fill="url(#gW)"/><circle cx="438.0" cy="539.1" r="1.1" fill="url(#gW)"/><circle cx="440.2" cy="539.1" r="1.1" fill="url(#gW)"/><circle cx="442.5" cy="539.1" r="1.1" fill="url(#gW)"/><circle cx="444.7" cy="539.1" r="1.1" fill="url(#gW)"/><circle cx="447.0" cy="539.1" r="1.1" fill="url(#gW)"/><circle cx="421.1" cy="541.0" r="1.1" fill="url(#gW)"/><circle cx="423.4" cy="541.0" r="1.1" fill="url(#gW)"/><circle cx="425.6" cy="541.0" r="1.1" fill="url(#gW)"/><circle cx="427.9" cy="541.0" r="1.1" fill="url(#gW)"/><circle cx="430.1" cy="541.0" r="1.1" fill="url(#gW)"/><circle cx="439.1" cy="541.0" r="1.1" fill="url(#gW)"/><circle cx="441.4" cy="541.0" r="1.1" fill="url(#gW)"/><circle cx="443.6" cy="541.0" r="1.1" fill="url(#gW)"/><circle cx="445.9" cy="541.0" r="1.1" fill="url(#gW)"/><circle cx="448.1" cy="541.0" r="1.1" fill="url(#gW)"/><circle cx="420.0" cy="543.0" r="1.1" fill="url(#gW)"/><circle cx="422.2" cy="543.0" r="1.1" fill="url(#gW)"/><circle cx="424.5" cy="543.0" r="1.1" fill="url(#gW)"/><circle cx="444.7" cy="543.0" r="1.1" fill="url(#gW)"/><circle cx="447.0" cy="543.0" r="1.1" fill="url(#gW)"/><circle cx="449.2" cy="543.0" r="1.1" fill="url(#gW)"/><circle cx="416.6" cy="544.9" r="1.1" fill="url(#gW)"/><circle cx="418.9" cy="544.9" r="1.1" fill="url(#gW)"/><circle cx="421.1" cy="544.9" r="1.1" fill="url(#gW)"/><circle cx="445.9" cy="544.9" r="1.1" fill="url(#gW)"/><circle cx="448.1" cy="544.9" r="1.1" fill="url(#gW)"/><circle cx="450.4" cy="544.9" r="1.1" fill="url(#gW)"/><circle cx="452.6" cy="544.9" r="1.1" fill="url(#gW)"/><circle cx="415.5" cy="546.9" r="1.1" fill="url(#gW)"/><circle cx="417.7" cy="546.9" r="1.1" fill="url(#gW)"/><circle cx="420.0" cy="546.9" r="1.1" fill="url(#gW)"/><circle cx="449.2" cy="546.9" r="1.1" fill="url(#gW)"/><circle cx="451.5" cy="546.9" r="1.1" fill="url(#gW)"/><circle cx="453.7" cy="546.9" r="1.1" fill="url(#gW)"/><circle cx="416.6" cy="548.8" r="1.1" fill="url(#gW)"/><circle cx="418.9" cy="548.8" r="1.1" fill="url(#gW)"/><circle cx="450.4" cy="548.8" r="1.1" fill="url(#gW)"/><circle cx="452.6" cy="548.8" r="1.1" fill="url(#gW)"/><circle cx="415.5" cy="550.8" r="1.1" fill="url(#gW)"/><circle cx="417.7" cy="550.8" r="1.1" fill="url(#gW)"/><circle cx="451.5" cy="550.8" r="1.1" fill="url(#gW)"/><circle cx="453.7" cy="550.8" r="1.1" fill="url(#gW)"/><circle cx="414.4" cy="552.7" r="1.1" fill="url(#gW)"/><circle cx="416.6" cy="552.7" r="1.1" fill="url(#gW)"/><circle cx="450.4" cy="552.7" r="1.1" fill="url(#gW)"/><circle cx="452.6" cy="552.7" r="1.1" fill="url(#gW)"/><circle cx="454.9" cy="552.7" r="1.1" fill="url(#gW)"/><circle cx="413.2" cy="554.6" r="1.1" fill="url(#gW)"/><circle cx="415.5" cy="554.6" r="1.1" fill="url(#gW)"/><circle cx="417.7" cy="554.6" r="1.1" fill="url(#gW)"/><circle cx="451.5" cy="554.6" r="1.1" fill="url(#gW)"/><circle cx="453.7" cy="554.6" r="1.1" fill="url(#gW)"/><circle cx="456.0" cy="554.6" r="1.1" fill="url(#gW)"/><circle cx="414.4" cy="556.6" r="1.1" fill="url(#gW)"/><circle cx="416.6" cy="556.6" r="1.1" fill="url(#gW)"/><circle cx="452.6" cy="556.6" r="1.1" fill="url(#gW)"/><circle cx="454.9" cy="556.6" r="1.1" fill="url(#gW)"/><circle cx="413.2" cy="558.6" r="1.1" fill="url(#gW)"/><circle cx="415.5" cy="558.6" r="1.1" fill="url(#gW)"/><circle cx="417.7" cy="558.6" r="1.1" fill="url(#gW)"/><circle cx="451.5" cy="558.6" r="1.1" fill="url(#gW)"/><circle cx="453.7" cy="558.6" r="1.1" fill="url(#gW)"/><circle cx="456.0" cy="558.6" r="1.1" fill="url(#gW)"/><circle cx="414.4" cy="560.5" r="1.1" fill="url(#gW)"/><circle cx="416.6" cy="560.5" r="1.1" fill="url(#gW)"/><circle cx="418.9" cy="560.5" r="1.1" fill="url(#gW)"/><circle cx="452.6" cy="560.5" r="1.1" fill="url(#gW)"/><circle cx="454.9" cy="560.5" r="1.1" fill="url(#gW)"/><circle cx="415.5" cy="562.5" r="1.1" fill="url(#gW)"/><circle cx="417.7" cy="562.5" r="1.1" fill="url(#gW)"/><circle cx="451.5" cy="562.5" r="1.1" fill="url(#gW)"/><circle cx="453.7" cy="562.5" r="1.1" fill="url(#gW)"/><circle cx="416.6" cy="564.4" r="1.1" fill="url(#gW)"/><circle cx="418.9" cy="564.4" r="1.1" fill="url(#gW)"/><circle cx="450.4" cy="564.4" r="1.1" fill="url(#gW)"/><circle cx="452.6" cy="564.4" r="1.1" fill="url(#gW)"/><circle cx="415.5" cy="566.4" r="1.1" fill="url(#gW)"/><circle cx="417.7" cy="566.4" r="1.1" fill="url(#gW)"/><circle cx="420.0" cy="566.4" r="1.1" fill="url(#gW)"/><circle cx="449.2" cy="566.4" r="1.1" fill="url(#gW)"/><circle cx="451.5" cy="566.4" r="1.1" fill="url(#gW)"/><circle cx="453.7" cy="566.4" r="1.1" fill="url(#gW)"/><circle cx="416.6" cy="568.3" r="1.1" fill="url(#gW)"/><circle cx="418.9" cy="568.3" r="1.1" fill="url(#gW)"/><circle cx="421.1" cy="568.3" r="1.1" fill="url(#gW)"/><circle cx="423.4" cy="568.3" r="1.1" fill="url(#gW)"/><circle cx="448.1" cy="568.3" r="1.1" fill="url(#gW)"/><circle cx="450.4" cy="568.3" r="1.1" fill="url(#gW)"/><circle cx="452.6" cy="568.3" r="1.1" fill="url(#gW)"/><circle cx="420.0" cy="570.2" r="1.1" fill="url(#gW)"/><circle cx="422.2" cy="570.2" r="1.1" fill="url(#gW)"/><circle cx="424.5" cy="570.2" r="1.1" fill="url(#gW)"/><circle cx="444.7" cy="570.2" r="1.1" fill="url(#gW)"/><circle cx="447.0" cy="570.2" r="1.1" fill="url(#gW)"/><circle cx="449.2" cy="570.2" r="1.1" fill="url(#gW)"/><circle cx="421.1" cy="572.2" r="1.1" fill="url(#gW)"/><circle cx="423.4" cy="572.2" r="1.1" fill="url(#gW)"/><circle cx="425.6" cy="572.2" r="1.1" fill="url(#gW)"/><circle cx="427.9" cy="572.2" r="1.1" fill="url(#gW)"/><circle cx="430.1" cy="572.2" r="1.1" fill="url(#gW)"/><circle cx="439.1" cy="572.2" r="1.1" fill="url(#gW)"/><circle cx="441.4" cy="572.2" r="1.1" fill="url(#gW)"/><circle cx="443.6" cy="572.2" r="1.1" fill="url(#gW)"/><circle cx="445.9" cy="572.2" r="1.1" fill="url(#gW)"/><circle cx="448.1" cy="572.2" r="1.1" fill="url(#gW)"/><circle cx="422.2" cy="574.1" r="1.1" fill="url(#gW)"/><circle cx="424.5" cy="574.1" r="1.1" fill="url(#gW)"/><circle cx="426.7" cy="574.1" r="1.1" fill="url(#gW)"/><circle cx="429.0" cy="574.1" r="1.1" fill="url(#gW)"/><circle cx="431.2" cy="574.1" r="1.1" fill="url(#gW)"/><circle cx="433.5" cy="574.1" r="1.1" fill="url(#gW)"/><circle cx="435.7" cy="574.1" r="1.1" fill="url(#gW)"/><circle cx="438.0" cy="574.1" r="1.1" fill="url(#gW)"/><circle cx="440.2" cy="574.1" r="1.1" fill="url(#gW)"/><circle cx="442.5" cy="574.1" r="1.1" fill="url(#gW)"/><circle cx="444.7" cy="574.1" r="1.1" fill="url(#gW)"/><circle cx="447.0" cy="574.1" r="1.1" fill="url(#gW)"/><circle cx="425.6" cy="576.1" r="1.1" fill="url(#gW)"/><circle cx="427.9" cy="576.1" r="1.1" fill="url(#gW)"/><circle cx="430.1" cy="576.1" r="1.1" fill="url(#gW)"/><circle cx="432.4" cy="576.1" r="1.1" fill="url(#gW)"/><circle cx="434.6" cy="576.1" r="1.1" fill="url(#gW)"/><circle cx="436.9" cy="576.1" r="1.1" fill="url(#gW)"/><circle cx="439.1" cy="576.1" r="1.1" fill="url(#gW)"/><circle cx="441.4" cy="576.1" r="1.1" fill="url(#gW)"/><circle cx="443.6" cy="576.1" r="1.1" fill="url(#gW)"/><circle cx="433.5" cy="578.1" r="1.1" fill="url(#gW)"/><circle cx="435.7" cy="578.1" r="1.1" fill="url(#gW)"/><circle cx="440.2" cy="550.8" r="1.08" fill="url(#gR)"/><circle cx="443.6" cy="564.4" r="1.08" fill="url(#gR)"/><circle cx="436.9" cy="556.6" r="1.08" fill="url(#gR)"/><circle cx="435.7" cy="546.9" r="1.08" fill="url(#gR)"/><circle cx="432.4" cy="560.5" r="1.08" fill="url(#gR)"/><circle cx="430.1" cy="556.6" r="1.08" fill="url(#gR)"/><circle cx="430.1" cy="552.7" r="1.08" fill="url(#gR)"/><circle cx="427.9" cy="544.9" r="1.08" fill="url(#gR)"/><circle cx="426.7" cy="566.4" r="1.08" fill="url(#gR)"/><circle cx="421.1" cy="564.4" r="1.08" fill="url(#gR)"/><circle cx="438.0" cy="543.0" r="1.08" fill="url(#gR)"/><circle cx="421.1" cy="552.7" r="1.08" fill="url(#gR)"/><circle cx="420.0" cy="558.6" r="1.08" fill="url(#gR)"/><circle cx="429.0" cy="558.6" r="1.08" fill="url(#gR)"/><circle cx="448.1" cy="552.7" r="1.08" fill="url(#gR)"/><circle cx="429.0" cy="543.0" r="1.08" fill="url(#gR)"/><circle cx="421.1" cy="560.5" r="1.08" fill="url(#gR)"/><circle cx="425.6" cy="552.7" r="1.08" fill="url(#gR)"/><circle cx="441.4" cy="568.3" r="1.08" fill="url(#gR)"/><circle cx="443.6" cy="560.5" r="1.08" fill="url(#gR)"/><circle cx="423.4" cy="556.6" r="1.08" fill="url(#gR)"/><circle cx="426.7" cy="543.0" r="1.08" fill="url(#gR)"/><circle cx="445.9" cy="568.3" r="1.08" fill="url(#gR)"/><circle cx="438.0" cy="546.9" r="1.08" fill="url(#gR)"/><circle cx="439.1" cy="548.8" r="1.08" fill="url(#gR)"/><circle cx="443.6" cy="568.3" r="1.08" fill="url(#gR)"/><circle cx="425.6" cy="560.5" r="1.08" fill="url(#gR)"/><circle cx="430.1" cy="544.9" r="1.08" fill="url(#gR)"/><circle cx="443.6" cy="548.8" r="1.08" fill="url(#gR)"/><circle cx="438.0" cy="570.2" r="1.08" fill="url(#gR)"/><circle cx="427.9" cy="548.8" r="1.08" fill="url(#gR)"/><circle cx="439.1" cy="544.9" r="1.08" fill="url(#gR)"/><circle cx="433.5" cy="558.6" r="1.08" fill="url(#gR)"/><circle cx="445.9" cy="548.8" r="1.08" fill="url(#gR)"/><circle cx="431.2" cy="546.9" r="1.08" fill="url(#gR)"/><circle cx="432.4" cy="556.6" r="1.08" fill="url(#gR)"/><circle cx="435.7" cy="550.8" r="1.08" fill="url(#gR)"/><circle cx="448.1" cy="548.8" r="1.08" fill="url(#gR)"/><circle cx="429.0" cy="554.6" r="1.08" fill="url(#gR)"/><circle cx="441.4" cy="556.6" r="1.08" fill="url(#gR)"/><circle cx="434.6" cy="572.2" r="1.08" fill="url(#gR)"/><circle cx="431.2" cy="562.5" r="1.08" fill="url(#gR)"/><circle cx="436.9" cy="548.8" r="1.08" fill="url(#gR)"/><circle cx="441.4" cy="544.9" r="1.08" fill="url(#gR)"/><circle cx="418.9" cy="556.6" r="1.08" fill="url(#gR)"/><circle cx="440.2" cy="554.6" r="1.08" fill="url(#gR)"/><circle cx="434.6" cy="568.3" r="1.08" fill="url(#gR)"/><circle cx="442.5" cy="554.6" r="1.08" fill="url(#gR)"/><circle cx="444.7" cy="558.6" r="1.08" fill="url(#gR)"/><circle cx="434.6" cy="564.4" r="1.08" fill="url(#gR)"/><circle cx="422.2" cy="566.4" r="1.08" fill="url(#gR)"/><circle cx="438.0" cy="562.5" r="1.08" fill="url(#gR)"/><circle cx="433.5" cy="554.6" r="1.08" fill="url(#gR)"/><circle cx="436.9" cy="544.9" r="1.08" fill="url(#gR)"/><circle cx="440.2" cy="562.5" r="1.08" fill="url(#gR)"/><circle cx="435.7" cy="566.4" r="1.08" fill="url(#gR)"/><circle cx="447.0" cy="550.8" r="1.08" fill="url(#gR)"/><circle cx="433.5" cy="570.2" r="1.08" fill="url(#gR)"/><circle cx="439.1" cy="568.3" r="1.08" fill="url(#gR)"/><circle cx="450.4" cy="556.6" r="1.08" fill="url(#gR)"/><circle cx="421.1" cy="548.8" r="1.08" fill="url(#gR)"/><circle cx="449.2" cy="550.8" r="1.08" fill="url(#gR)"/><circle cx="449.2" cy="558.6" r="1.08" fill="url(#gR)"/><circle cx="422.2" cy="554.6" r="1.08" fill="url(#gR)"/><circle cx="424.5" cy="566.4" r="1.08" fill="url(#gR)"/><circle cx="441.4" cy="552.7" r="1.08" fill="url(#gR)"/><circle cx="430.1" cy="560.5" r="1.08" fill="url(#gR)"/><circle cx="420.0" cy="550.8" r="1.08" fill="url(#gR)"/><circle cx="447.0" cy="546.9" r="1.08" fill="url(#gR)"/><circle cx="432.4" cy="544.9" r="1.08" fill="url(#gR)"/><circle cx="424.5" cy="562.5" r="1.08" fill="url(#gR)"/><circle cx="445.9" cy="552.7" r="1.08" fill="url(#gR)"/><circle cx="447.0" cy="558.6" r="1.08" fill="url(#gR)"/><circle cx="430.1" cy="568.3" r="1.08" fill="url(#gR)"/><circle cx="445.9" cy="556.6" r="1.08" fill="url(#gR)"/><circle cx="448.1" cy="556.6" r="1.08" fill="url(#gB)"/><circle cx="423.4" cy="548.8" r="1.08" fill="url(#gB)"/><circle cx="423.4" cy="560.5" r="1.08" fill="url(#gB)"/><circle cx="442.5" cy="543.0" r="1.08" fill="url(#gB)"/><circle cx="433.5" cy="550.8" r="1.08" fill="url(#gB)"/><circle cx="432.4" cy="548.8" r="1.08" fill="url(#gB)"/><circle cx="418.9" cy="552.7" r="1.08" fill="url(#gB)"/><circle cx="450.4" cy="560.5" r="1.08" fill="url(#gB)"/><circle cx="429.0" cy="570.2" r="1.08" fill="url(#gB)"/><circle cx="440.2" cy="570.2" r="1.08" fill="url(#gB)"/><circle cx="430.1" cy="564.4" r="1.08" fill="url(#gB)"/><circle cx="449.2" cy="554.6" r="1.08" fill="url(#gB)"/><circle cx="432.4" cy="568.3" r="1.08" fill="url(#gB)"/><circle cx="438.0" cy="558.6" r="1.08" fill="url(#gB)"/><circle cx="444.7" cy="566.4" r="1.08" fill="url(#gB)"/><circle cx="439.1" cy="564.4" r="1.08" fill="url(#gB)"/><circle cx="444.7" cy="546.9" r="1.08" fill="url(#gB)"/><circle cx="442.5" cy="550.8" r="1.08" fill="url(#gB)"/><circle cx="425.6" cy="544.9" r="1.08" fill="url(#gB)"/><circle cx="425.6" cy="564.4" r="1.08" fill="url(#gB)"/><circle cx="426.7" cy="570.2" r="1.08" fill="url(#gB)"/><circle cx="441.4" cy="560.5" r="1.08" fill="url(#gB)"/><circle cx="438.0" cy="550.8" r="1.08" fill="url(#gB)"/><circle cx="431.2" cy="566.4" r="1.08" fill="url(#gB)"/><circle cx="433.5" cy="543.0" r="1.08" fill="url(#gB)"/><circle cx="447.0" cy="562.5" r="1.08" fill="url(#gB)"/><circle cx="447.0" cy="554.6" r="1.08" fill="url(#gB)"/><circle cx="434.6" cy="544.9" r="1.08" fill="url(#gB)"/><circle cx="435.7" cy="570.2" r="1.08" fill="url(#gB)"/><circle cx="427.9" cy="564.4" r="1.08" fill="url(#gB)"/><circle cx="442.5" cy="566.4" r="1.08" fill="url(#gB)"/><circle cx="424.5" cy="550.8" r="1.08" fill="url(#gB)"/><circle cx="422.2" cy="550.8" r="1.08" fill="url(#gB)"/><circle cx="434.6" cy="548.8" r="1.08" fill="url(#gB)"/><circle cx="448.1" cy="560.5" r="1.08" fill="url(#gB)"/><circle cx="422.2" cy="562.5" r="1.08" fill="url(#gB)"/><circle cx="433.5" cy="566.4" r="1.08" fill="url(#gB)"/><circle cx="443.6" cy="552.7" r="1.08" fill="url(#gB)"/><circle cx="441.4" cy="548.8" r="1.08" fill="url(#gB)"/><circle cx="438.0" cy="554.6" r="1.08" fill="url(#gB)"/><circle cx="436.9" cy="541.0" r="1.08" fill="url(#gB)"/><circle cx="422.2" cy="546.9" r="1.08" fill="url(#gB)"/><circle cx="443.6" cy="556.6" r="1.08" fill="url(#gB)"/><circle cx="441.4" cy="564.4" r="1.08" fill="url(#gB)"/><circle cx="434.6" cy="541.0" r="1.08" fill="url(#gB)"/><circle cx="442.5" cy="570.2" r="1.08" fill="url(#gB)"/><circle cx="421.1" cy="556.6" r="1.08" fill="url(#gB)"/><circle cx="440.2" cy="558.6" r="1.08" fill="url(#gB)"/><circle cx="444.7" cy="562.5" r="1.08" fill="url(#gB)"/><circle cx="426.7" cy="558.6" r="1.08" fill="url(#gB)"/><circle cx="433.5" cy="546.9" r="1.08" fill="url(#gB)"/><circle cx="424.5" cy="554.6" r="1.08" fill="url(#gB)"/><circle cx="425.6" cy="548.8" r="1.08" fill="url(#gB)"/><circle cx="444.7" cy="550.8" r="1.08" fill="url(#gB)"/><circle cx="434.6" cy="560.5" r="1.08" fill="url(#gB)"/><circle cx="439.1" cy="556.6" r="1.08" fill="url(#gB)"/><circle cx="429.0" cy="562.5" r="1.08" fill="url(#gB)"/><circle cx="431.2" cy="554.6" r="1.08" fill="url(#gB)"/><circle cx="436.9" cy="552.7" r="1.08" fill="url(#gB)"/><circle cx="440.2" cy="546.9" r="1.08" fill="url(#gB)"/><circle cx="440.2" cy="566.4" r="1.08" fill="url(#gB)"/><circle cx="426.7" cy="562.5" r="1.08" fill="url(#gB)"/><circle cx="436.9" cy="572.2" r="1.08" fill="url(#gB)"/><circle cx="438.0" cy="566.4" r="1.08" fill="url(#gB)"/><circle cx="442.5" cy="546.9" r="1.08" fill="url(#gB)"/><circle cx="425.6" cy="556.6" r="1.08" fill="url(#gB)"/><circle cx="426.7" cy="554.6" r="1.08" fill="url(#gB)"/><circle cx="435.7" cy="558.6" r="1.08" fill="url(#gB)"/><circle cx="423.4" cy="552.7" r="1.08" fill="url(#gB)"/><circle cx="436.9" cy="564.4" r="1.08" fill="url(#gB)"/><circle cx="435.7" cy="543.0" r="1.08" fill="url(#gB)"/><circle cx="445.9" cy="560.5" r="1.08" fill="url(#gB)"/><circle cx="420.0" cy="562.5" r="1.08" fill="url(#gB)"/><circle cx="425.6" cy="568.3" r="1.08" fill="url(#gB)"/><circle cx="432.4" cy="572.2" r="1.08" fill="url(#gB)"/><circle cx="429.0" cy="566.4" r="1.08" fill="url(#gB)"/><circle cx="431.2" cy="550.8" r="1.08" fill="url(#gB)"/><circle cx="431.2" cy="570.2" r="1.08" fill="url(#gB)"/><circle cx="423.4" cy="544.9" r="1.08" fill="url(#gB)"/><circle cx="448.1" cy="564.4" r="1.08" fill="url(#gB)"/><circle cx="420.0" cy="554.6" r="1.08" fill="url(#gB)"/><circle cx="436.9" cy="568.3" r="1.08" fill="url(#gB)"/><circle cx="427.9" cy="568.3" r="1.08" fill="url(#gB)"/><circle cx="442.5" cy="558.6" r="1.08" fill="url(#gB)"/><circle cx="427.9" cy="552.7" r="1.08" fill="url(#gB)"/><circle cx="422.2" cy="558.6" r="1.08" fill="url(#gB)"/><circle cx="427.9" cy="556.6" r="1.08" fill="url(#gB)"/><circle cx="426.7" cy="546.9" r="1.08" fill="url(#gB)"/><circle cx="444.7" cy="554.6" r="1.08" fill="url(#gB)"/><circle cx="431.2" cy="558.6" r="1.08" fill="url(#gB)"/><circle cx="424.5" cy="546.9" r="1.08" fill="url(#gB)"/><circle cx="445.9" cy="564.4" r="1.08" fill="url(#gB)"/><circle cx="434.6" cy="552.7" r="1.08" fill="url(#gB)"/><circle cx="442.5" cy="562.5" r="1.08" fill="url(#gB)"/><circle cx="449.2" cy="562.5" r="1.08" fill="url(#gB)"/><circle cx="426.7" cy="550.8" r="1.08" fill="url(#gB)"/><circle cx="429.0" cy="546.9" r="1.08" fill="url(#gB)"/><circle cx="435.7" cy="562.5" r="1.08" fill="url(#gB)"/><circle cx="433.5" cy="562.5" r="1.08" fill="url(#gB)"/><circle cx="424.5" cy="558.6" r="1.08" fill="url(#gB)"/><circle cx="429.0" cy="550.8" r="1.08" fill="url(#gB)"/><circle cx="439.1" cy="560.5" r="1.08" fill="url(#gB)"/><circle cx="439.1" cy="552.7" r="1.08" fill="url(#gB)"/><circle cx="431.2" cy="543.0" r="1.08" fill="url(#gB)"/><circle cx="435.7" cy="554.6" r="1.08" fill="url(#gB)"/><circle cx="434.6" cy="556.6" r="1.08" fill="url(#gB)"/><circle cx="427.9" cy="560.5" r="1.08" fill="url(#gB)"/><circle cx="432.4" cy="564.4" r="1.08" fill="url(#gB)"/><circle cx="447.0" cy="566.4" r="1.08" fill="url(#gB)"/><circle cx="430.1" cy="548.8" r="1.08" fill="url(#gB)"/><circle cx="432.4" cy="541.0" r="1.08" fill="url(#gB)"/><circle cx="440.2" cy="543.0" r="1.08" fill="url(#gB)"/><circle cx="432.4" cy="552.7" r="1.08" fill="url(#gB)"/><circle cx="436.9" cy="560.5" r="1.08" fill="url(#gB)"/><circle cx="443.6" cy="544.9" r="1.08" fill="url(#gB)"/><circle cx="423.4" cy="564.4" r="1.08" fill="url(#gB)"/></g></g>
<line x1="254" y1="501.5" x2="339" y2="501.5" stroke="#111" stroke-width="1.2"/>
<line x1="338.2" y1="445.3" x2="338.2" y2="557.5" stroke="#111" stroke-width="1.2"/>
<line x1="338.2" y1="445.3" x2="389" y2="445.3" stroke="#111" stroke-width="1.2"/>
<polygon points="395,445.3 387,442.3 387,448.3" fill="#111"/>
<line x1="338.2" y1="499.8" x2="393.6" y2="499.8" stroke="#111" stroke-width="1.2"/>
<polygon points="399.6,499.8 391.6,496.8 391.6,502.8" fill="#111"/>
<line x1="338.2" y1="557.2" x2="389.5" y2="557.2" stroke="#111" stroke-width="1.2"/>
<polygon points="395.5,557.2 387.5,554.2 387.5,560.2" fill="#111"/>
<text x="255.7" y="497.2" font-size="12.5" font-weight="bold" fill="#111" text-anchor="start" font-family='"Liberation Serif", serif' stroke="#111" stroke-width="0.25" textLength="77.9" lengthAdjust="spacingAndGlyphs" >Heat treatment</text>
<text x="254.2" y="513.8" font-size="12.5" font-weight="bold" fill="#111" text-anchor="start" font-family='"Liberation Serif", serif' stroke="#111" stroke-width="0.25" textLength="81.8" lengthAdjust="spacingAndGlyphs" >[510 °C for 2h]</text>
<text x="341.4" y="441.8" font-size="12.5" font-weight="bold" fill="#111" text-anchor="start" font-family='"Liberation Serif", serif' stroke="#111" stroke-width="0.25" textLength="64.3" lengthAdjust="spacingAndGlyphs" >NH<tspan font-size="8.5" dy="2">3</tspan><tspan dy="-2"> [1 bar]</tspan></text>
<text x="341.4" y="496.8" font-size="12.5" font-weight="bold" fill="#111" text-anchor="start" font-family='"Liberation Serif", serif' stroke="#111" stroke-width="0.25" textLength="72.1" lengthAdjust="spacingAndGlyphs" >NH<tspan font-size="8.5" dy="2">3</tspan><tspan dy="-2"> [40 bar]</tspan></text>
<text x="341.4" y="552.1" font-size="12.5" font-weight="bold" fill="#111" text-anchor="start" font-family='"Liberation Serif", serif' stroke="#111" stroke-width="0.25" textLength="71.4" lengthAdjust="spacingAndGlyphs" >NH<tspan font-size="8.5" dy="2">3</tspan><tspan dy="-2"> [80 bar]</tspan></text>
<text x="211" y="532.5" font-size="12.5" font-weight="bold" fill="#111" text-anchor="start" font-family='"Liberation Sans", sans-serif' stroke="#111" stroke-width="0.3" textLength="68.5" lengthAdjust="spacingAndGlyphs" >Pt<tspan font-size="9.8" dy="3">52</tspan><tspan dy="-3">Co</tspan><tspan font-size="9.8" dy="3">48</tspan><tspan dy="-3"> NPs</tspan></text>
<text x="405" y="474.3" font-size="12.5" font-weight="bold" fill="#111" text-anchor="start" font-family='"Liberation Sans", sans-serif' stroke="#111" stroke-width="0.3" textLength="84.2" lengthAdjust="spacingAndGlyphs" >Pt<tspan font-size="9.8" dy="3">53</tspan><tspan dy="-3">Co</tspan><tspan font-size="9.8" dy="3">45</tspan><tspan dy="-3">N</tspan><tspan font-size="9.8" dy="3">2</tspan><tspan dy="-3"> NPs</tspan></text>
<text x="403.6" y="531.5" font-size="12.5" font-weight="bold" fill="#111" text-anchor="start" font-family='"Liberation Sans", sans-serif' stroke="#111" stroke-width="0.3" textLength="87.8" lengthAdjust="spacingAndGlyphs" >Pt<tspan font-size="9.8" dy="3">44</tspan><tspan dy="-3">Co</tspan><tspan font-size="9.8" dy="3">42</tspan><tspan dy="-3">N</tspan><tspan font-size="9.8" dy="3">14</tspan><tspan dy="-3"> NPs</tspan></text>
<text x="403.6" y="586.3" font-size="12.5" font-weight="bold" fill="#111" text-anchor="start" font-family='"Liberation Sans", sans-serif' stroke="#111" stroke-width="0.3" textLength="87.4" lengthAdjust="spacingAndGlyphs" >Pt<tspan font-size="9.8" dy="3">40</tspan><tspan dy="-3">Co</tspan><tspan font-size="9.8" dy="3">36</tspan><tspan dy="-3">N</tspan><tspan font-size="9.8" dy="3">24</tspan><tspan dy="-3"> NPs</tspan></text>
<text x="222.5" y="644.8" font-size="13" font-weight="bold" fill="#1a1a1a" text-anchor="start" font-family='"Liberation Serif", serif' textLength="159.3" lengthAdjust="spacingAndGlyphs" >Durability Improvement</text>
<polygon points="190,658 277,546.4 259,540.8 321.3,519 299.5,581 294.4,563.1" fill="#6ca0d2" opacity="0.6"/>
</svg>
</body></html>
